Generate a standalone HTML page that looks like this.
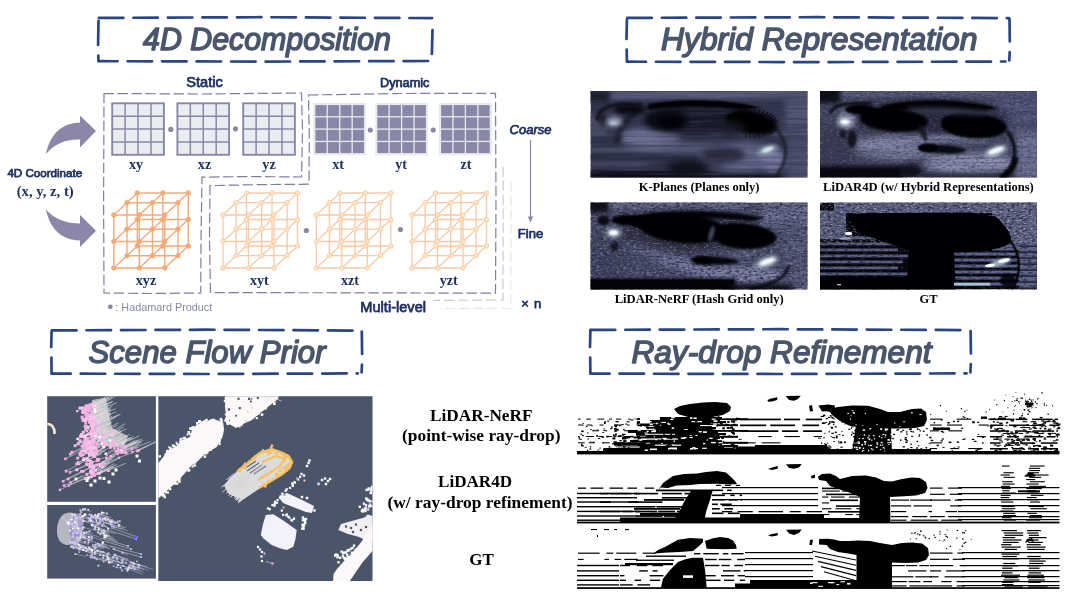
<!DOCTYPE html>
<html><head><meta charset="utf-8"><title>LiDAR4D overview</title>
<style>
html,body{margin:0;padding:0;background:#fff;}
body{width:1080px;height:599px;overflow:hidden;font-family:"Liberation Sans",sans-serif;}
svg{display:block;position:absolute;left:0;top:0;}
.cs{font-family:"Liberation Sans",sans-serif;font-weight:bold;}
.sf{font-family:"Liberation Serif",serif;font-weight:bold;}
</style></head><body>
<svg width="1080" height="599" viewBox="0 0 1080 599" style="opacity:0.999">
<rect width="1080" height="599" fill="#fff"/>

<path d="M98.89999999999999,17.9 L265.4,17.2 L432.0,18.1" fill="none" stroke="#2a4484" stroke-width="2.7" stroke-linecap="round" stroke-dasharray="24.5 10"/><path d="M98.6,61.2 L265.4,61.6 L428.5,61" fill="none" stroke="#2a4484" stroke-width="2.7" stroke-linecap="round" stroke-dasharray="24.5 10" stroke-dashoffset="5.5"/><path d="M98.5,20.8 L98.1,45 M98.3,55.5 L98.5,61" fill="none" stroke="#2a4484" stroke-width="2.7" stroke-linecap="round"/><path d="M432.5,30 L431.9,54" fill="none" stroke="#2a4484" stroke-width="2.7" stroke-linecap="round"/><text x="143" y="50" textLength="248" lengthAdjust="spacingAndGlyphs" font-family="Liberation Sans" font-weight="normal" font-style="italic" font-size="31" fill="#4a566c" stroke="#4a566c" stroke-width="1.5" stroke-linejoin="round" stroke-linecap="round">4D Decomposition</text>
<path d="M627.3000000000001,17.9 L818.1,17.2 L1009.0,18.1" fill="none" stroke="#2a4484" stroke-width="2.7" stroke-linecap="round" stroke-dasharray="24.5 10"/><path d="M627.0,61.7 L818.1,62.1 L1005.5,61.5" fill="none" stroke="#2a4484" stroke-width="2.7" stroke-linecap="round" stroke-dasharray="24.5 10" stroke-dashoffset="5.5"/><path d="M626.9000000000001,19.4 L626.5,39 M626.7,49.5 L626.9000000000001,61.5" fill="none" stroke="#2a4484" stroke-width="2.7" stroke-linecap="round"/><path d="M1009.5,19.0 L1009.8,41.5 M1009.7,52.0 L1009.3,60.5" fill="none" stroke="#2a4484" stroke-width="2.7" stroke-linecap="round"/><text x="661" y="50" textLength="316.5" lengthAdjust="spacingAndGlyphs" font-family="Liberation Sans" font-weight="normal" font-style="italic" font-size="31" fill="#4a566c" stroke="#4a566c" stroke-width="1.5" stroke-linejoin="round" stroke-linecap="round">Hybrid Representation</text>
<path d="M52.0,330.4 L206.6,329.7 L361.3,330.6" fill="none" stroke="#2a4484" stroke-width="2.7" stroke-linecap="round" stroke-dasharray="24.5 10"/><path d="M51.699999999999996,373.59999999999997 L206.6,374.0 L357.8,373.4" fill="none" stroke="#2a4484" stroke-width="2.7" stroke-linecap="round" stroke-dasharray="24.5 10" stroke-dashoffset="5.5"/><path d="M51.6,331.4 L51.199999999999996,347 M51.4,357.5 L51.6,373.4" fill="none" stroke="#2a4484" stroke-width="2.7" stroke-linecap="round"/><path d="M361.8,331.5 L362.1,354 M362.0,364.5 L361.6,372.4" fill="none" stroke="#2a4484" stroke-width="2.7" stroke-linecap="round"/><text x="88.5" y="363" textLength="237.0" lengthAdjust="spacingAndGlyphs" font-family="Liberation Sans" font-weight="normal" font-style="italic" font-size="31" fill="#4a566c" stroke="#4a566c" stroke-width="1.5" stroke-linejoin="round" stroke-linecap="round">Scene Flow Prior</text>
<path d="M590.8000000000001,329.9 L780.4000000000001,329.2 L970.1,330.1" fill="none" stroke="#2a4484" stroke-width="2.7" stroke-linecap="round" stroke-dasharray="24.5 10"/><path d="M590.5,373.59999999999997 L780.4000000000001,374.0 L966.6,373.4" fill="none" stroke="#2a4484" stroke-width="2.7" stroke-linecap="round" stroke-dasharray="24.5 10" stroke-dashoffset="5.5"/><path d="M590.4000000000001,330 L590.0,347 M590.2,357.5 L590.4000000000001,373.4" fill="none" stroke="#2a4484" stroke-width="2.7" stroke-linecap="round"/><path d="M970.6,331.0 L970.9,353.5 M970.8000000000001,364.0 L970.4,372.4" fill="none" stroke="#2a4484" stroke-width="2.7" stroke-linecap="round"/><text x="631.5" y="362.5" textLength="300.0" lengthAdjust="spacingAndGlyphs" font-family="Liberation Sans" font-weight="normal" font-style="italic" font-size="31" fill="#4a566c" stroke="#4a566c" stroke-width="1.5" stroke-linejoin="round" stroke-linecap="round">Ray-drop Refinement</text>
<rect x="112.2" y="103.3" width="51.7" height="51.5" fill="#e8edf2" stroke="#8a87a6" stroke-width="1.9"/><line x1="125.125" y1="103.3" x2="125.125" y2="154.8" stroke="#8a87a6" stroke-width="1.5"/><line x1="112.2" y1="116.175" x2="163.9" y2="116.175" stroke="#8a87a6" stroke-width="1.5"/><line x1="138.05" y1="103.3" x2="138.05" y2="154.8" stroke="#8a87a6" stroke-width="1.5"/><line x1="112.2" y1="129.05" x2="163.9" y2="129.05" stroke="#8a87a6" stroke-width="1.5"/><line x1="150.97500000000002" y1="103.3" x2="150.97500000000002" y2="154.8" stroke="#8a87a6" stroke-width="1.5"/><line x1="112.2" y1="141.925" x2="163.9" y2="141.925" stroke="#8a87a6" stroke-width="1.5"/>
<rect x="177.4" y="103.3" width="51.7" height="51.5" fill="#e8edf2" stroke="#8a87a6" stroke-width="1.9"/><line x1="190.32500000000002" y1="103.3" x2="190.32500000000002" y2="154.8" stroke="#8a87a6" stroke-width="1.5"/><line x1="177.4" y1="116.175" x2="229.10000000000002" y2="116.175" stroke="#8a87a6" stroke-width="1.5"/><line x1="203.25" y1="103.3" x2="203.25" y2="154.8" stroke="#8a87a6" stroke-width="1.5"/><line x1="177.4" y1="129.05" x2="229.10000000000002" y2="129.05" stroke="#8a87a6" stroke-width="1.5"/><line x1="216.175" y1="103.3" x2="216.175" y2="154.8" stroke="#8a87a6" stroke-width="1.5"/><line x1="177.4" y1="141.925" x2="229.10000000000002" y2="141.925" stroke="#8a87a6" stroke-width="1.5"/>
<rect x="243.2" y="103.3" width="51.7" height="51.5" fill="#e8edf2" stroke="#8a87a6" stroke-width="1.9"/><line x1="256.125" y1="103.3" x2="256.125" y2="154.8" stroke="#8a87a6" stroke-width="1.5"/><line x1="243.2" y1="116.175" x2="294.9" y2="116.175" stroke="#8a87a6" stroke-width="1.5"/><line x1="269.05" y1="103.3" x2="269.05" y2="154.8" stroke="#8a87a6" stroke-width="1.5"/><line x1="243.2" y1="129.05" x2="294.9" y2="129.05" stroke="#8a87a6" stroke-width="1.5"/><line x1="281.975" y1="103.3" x2="281.975" y2="154.8" stroke="#8a87a6" stroke-width="1.5"/><line x1="243.2" y1="141.925" x2="294.9" y2="141.925" stroke="#8a87a6" stroke-width="1.5"/>
<rect x="313.3" y="103.0" width="52.800000000000004" height="52.2" fill="#e6eaf0"/><rect x="315.40" y="105.10" width="11.18" height="11.03" fill="#8a87a6"/><rect x="315.40" y="117.42" width="11.18" height="11.03" fill="#8a87a6"/><rect x="315.40" y="129.75" width="11.18" height="11.03" fill="#8a87a6"/><rect x="315.40" y="142.07" width="11.18" height="11.03" fill="#8a87a6"/><rect x="327.88" y="105.10" width="11.18" height="11.03" fill="#8a87a6"/><rect x="327.88" y="117.42" width="11.18" height="11.03" fill="#8a87a6"/><rect x="327.88" y="129.75" width="11.18" height="11.03" fill="#8a87a6"/><rect x="327.88" y="142.07" width="11.18" height="11.03" fill="#8a87a6"/><rect x="340.35" y="105.10" width="11.18" height="11.03" fill="#8a87a6"/><rect x="340.35" y="117.42" width="11.18" height="11.03" fill="#8a87a6"/><rect x="340.35" y="129.75" width="11.18" height="11.03" fill="#8a87a6"/><rect x="340.35" y="142.07" width="11.18" height="11.03" fill="#8a87a6"/><rect x="352.83" y="105.10" width="11.18" height="11.03" fill="#8a87a6"/><rect x="352.83" y="117.42" width="11.18" height="11.03" fill="#8a87a6"/><rect x="352.83" y="129.75" width="11.18" height="11.03" fill="#8a87a6"/><rect x="352.83" y="142.07" width="11.18" height="11.03" fill="#8a87a6"/>
<rect x="375.2" y="103.0" width="52.800000000000004" height="52.2" fill="#e6eaf0"/><rect x="377.30" y="105.10" width="11.18" height="11.03" fill="#8a87a6"/><rect x="377.30" y="117.42" width="11.18" height="11.03" fill="#8a87a6"/><rect x="377.30" y="129.75" width="11.18" height="11.03" fill="#8a87a6"/><rect x="377.30" y="142.07" width="11.18" height="11.03" fill="#8a87a6"/><rect x="389.78" y="105.10" width="11.18" height="11.03" fill="#8a87a6"/><rect x="389.78" y="117.42" width="11.18" height="11.03" fill="#8a87a6"/><rect x="389.78" y="129.75" width="11.18" height="11.03" fill="#8a87a6"/><rect x="389.78" y="142.07" width="11.18" height="11.03" fill="#8a87a6"/><rect x="402.25" y="105.10" width="11.18" height="11.03" fill="#8a87a6"/><rect x="402.25" y="117.42" width="11.18" height="11.03" fill="#8a87a6"/><rect x="402.25" y="129.75" width="11.18" height="11.03" fill="#8a87a6"/><rect x="402.25" y="142.07" width="11.18" height="11.03" fill="#8a87a6"/><rect x="414.73" y="105.10" width="11.18" height="11.03" fill="#8a87a6"/><rect x="414.73" y="117.42" width="11.18" height="11.03" fill="#8a87a6"/><rect x="414.73" y="129.75" width="11.18" height="11.03" fill="#8a87a6"/><rect x="414.73" y="142.07" width="11.18" height="11.03" fill="#8a87a6"/>
<rect x="439.0" y="103.0" width="52.800000000000004" height="52.2" fill="#e6eaf0"/><rect x="441.10" y="105.10" width="11.18" height="11.03" fill="#8a87a6"/><rect x="441.10" y="117.42" width="11.18" height="11.03" fill="#8a87a6"/><rect x="441.10" y="129.75" width="11.18" height="11.03" fill="#8a87a6"/><rect x="441.10" y="142.07" width="11.18" height="11.03" fill="#8a87a6"/><rect x="453.58" y="105.10" width="11.18" height="11.03" fill="#8a87a6"/><rect x="453.58" y="117.42" width="11.18" height="11.03" fill="#8a87a6"/><rect x="453.58" y="129.75" width="11.18" height="11.03" fill="#8a87a6"/><rect x="453.58" y="142.07" width="11.18" height="11.03" fill="#8a87a6"/><rect x="466.05" y="105.10" width="11.18" height="11.03" fill="#8a87a6"/><rect x="466.05" y="117.42" width="11.18" height="11.03" fill="#8a87a6"/><rect x="466.05" y="129.75" width="11.18" height="11.03" fill="#8a87a6"/><rect x="466.05" y="142.07" width="11.18" height="11.03" fill="#8a87a6"/><rect x="478.53" y="105.10" width="11.18" height="11.03" fill="#8a87a6"/><rect x="478.53" y="117.42" width="11.18" height="11.03" fill="#8a87a6"/><rect x="478.53" y="129.75" width="11.18" height="11.03" fill="#8a87a6"/><rect x="478.53" y="142.07" width="11.18" height="11.03" fill="#8a87a6"/>
<circle cx="170.8" cy="129.4" r="2.6" fill="#8a87a6"/>
<circle cx="235.5" cy="128.8" r="2.6" fill="#8a87a6"/>
<circle cx="370.3" cy="130" r="2.6" fill="#8a87a6"/>
<circle cx="433.3" cy="130" r="2.6" fill="#8a87a6"/>
<circle cx="306.3" cy="230.5" r="2.6" fill="#8a87a6"/>
<circle cx="400.5" cy="229.5" r="2.6" fill="#8a87a6"/>
<g stroke="#f2aa7a" stroke-width="1.4" fill="none"><line x1="113.80" y1="215.00" x2="113.80" y2="268.00"/><line x1="113.80" y1="215.00" x2="164.80" y2="215.00"/><line x1="139.30" y1="215.00" x2="139.30" y2="268.00"/><line x1="113.80" y1="241.50" x2="164.80" y2="241.50"/><line x1="164.80" y1="215.00" x2="164.80" y2="268.00"/><line x1="113.80" y1="268.00" x2="164.80" y2="268.00"/><line x1="126.96" y1="202.68" x2="126.96" y2="255.68"/><line x1="126.96" y1="202.68" x2="177.96" y2="202.68"/><line x1="152.46" y1="202.68" x2="152.46" y2="255.68"/><line x1="126.96" y1="229.18" x2="177.96" y2="229.18"/><line x1="177.96" y1="202.68" x2="177.96" y2="255.68"/><line x1="126.96" y1="255.68" x2="177.96" y2="255.68"/><line x1="137.30" y1="193.00" x2="137.30" y2="246.00"/><line x1="137.30" y1="193.00" x2="188.30" y2="193.00"/><line x1="162.80" y1="193.00" x2="162.80" y2="246.00"/><line x1="137.30" y1="219.50" x2="188.30" y2="219.50"/><line x1="188.30" y1="193.00" x2="188.30" y2="246.00"/><line x1="137.30" y1="246.00" x2="188.30" y2="246.00"/><line x1="113.80" y1="215.00" x2="137.30" y2="193.00"/><line x1="113.80" y1="241.50" x2="137.30" y2="219.50"/><line x1="113.80" y1="268.00" x2="137.30" y2="246.00"/><line x1="139.30" y1="215.00" x2="162.80" y2="193.00"/><line x1="139.30" y1="241.50" x2="162.80" y2="219.50"/><line x1="139.30" y1="268.00" x2="162.80" y2="246.00"/><line x1="164.80" y1="215.00" x2="188.30" y2="193.00"/><line x1="164.80" y1="241.50" x2="188.30" y2="219.50"/><line x1="164.80" y1="268.00" x2="188.30" y2="246.00"/></g><g fill="#f2aa7a" stroke="#f2aa7a" stroke-width="0.8"><circle cx="113.80" cy="215.00" r="2.3"/><circle cx="113.80" cy="241.50" r="2.3"/><circle cx="113.80" cy="268.00" r="2.3"/><circle cx="139.30" cy="215.00" r="2.3"/><circle cx="139.30" cy="241.50" r="2.3"/><circle cx="139.30" cy="268.00" r="2.3"/><circle cx="164.80" cy="215.00" r="2.3"/><circle cx="164.80" cy="241.50" r="2.3"/><circle cx="164.80" cy="268.00" r="2.3"/><circle cx="126.96" cy="202.68" r="2.3"/><circle cx="126.96" cy="229.18" r="2.3"/><circle cx="126.96" cy="255.68" r="2.3"/><circle cx="152.46" cy="202.68" r="2.3"/><circle cx="152.46" cy="229.18" r="2.3"/><circle cx="152.46" cy="255.68" r="2.3"/><circle cx="177.96" cy="202.68" r="2.3"/><circle cx="177.96" cy="229.18" r="2.3"/><circle cx="177.96" cy="255.68" r="2.3"/><circle cx="137.30" cy="193.00" r="2.3"/><circle cx="137.30" cy="219.50" r="2.3"/><circle cx="137.30" cy="246.00" r="2.3"/><circle cx="162.80" cy="193.00" r="2.3"/><circle cx="162.80" cy="219.50" r="2.3"/><circle cx="162.80" cy="246.00" r="2.3"/><circle cx="188.30" cy="193.00" r="2.3"/><circle cx="188.30" cy="219.50" r="2.3"/><circle cx="188.30" cy="246.00" r="2.3"/></g>
<g stroke="#f8c9a6" stroke-width="1.3" fill="none"><line x1="223.00" y1="215.00" x2="223.00" y2="268.00"/><line x1="223.00" y1="215.00" x2="274.00" y2="215.00"/><line x1="248.50" y1="215.00" x2="248.50" y2="268.00"/><line x1="223.00" y1="241.50" x2="274.00" y2="241.50"/><line x1="274.00" y1="215.00" x2="274.00" y2="268.00"/><line x1="223.00" y1="268.00" x2="274.00" y2="268.00"/><line x1="236.16" y1="202.68" x2="236.16" y2="255.68"/><line x1="236.16" y1="202.68" x2="287.16" y2="202.68"/><line x1="261.66" y1="202.68" x2="261.66" y2="255.68"/><line x1="236.16" y1="229.18" x2="287.16" y2="229.18"/><line x1="287.16" y1="202.68" x2="287.16" y2="255.68"/><line x1="236.16" y1="255.68" x2="287.16" y2="255.68"/><line x1="246.50" y1="193.00" x2="246.50" y2="246.00"/><line x1="246.50" y1="193.00" x2="297.50" y2="193.00"/><line x1="272.00" y1="193.00" x2="272.00" y2="246.00"/><line x1="246.50" y1="219.50" x2="297.50" y2="219.50"/><line x1="297.50" y1="193.00" x2="297.50" y2="246.00"/><line x1="246.50" y1="246.00" x2="297.50" y2="246.00"/><line x1="223.00" y1="215.00" x2="246.50" y2="193.00"/><line x1="223.00" y1="241.50" x2="246.50" y2="219.50"/><line x1="223.00" y1="268.00" x2="246.50" y2="246.00"/><line x1="248.50" y1="215.00" x2="272.00" y2="193.00"/><line x1="248.50" y1="241.50" x2="272.00" y2="219.50"/><line x1="248.50" y1="268.00" x2="272.00" y2="246.00"/><line x1="274.00" y1="215.00" x2="297.50" y2="193.00"/><line x1="274.00" y1="241.50" x2="297.50" y2="219.50"/><line x1="274.00" y1="268.00" x2="297.50" y2="246.00"/></g><g fill="#fde5c2" stroke="#f8c9a6" stroke-width="0.8"><circle cx="223.00" cy="215.00" r="2.3"/><circle cx="223.00" cy="241.50" r="2.3"/><circle cx="223.00" cy="268.00" r="2.3"/><circle cx="248.50" cy="215.00" r="2.3"/><circle cx="248.50" cy="241.50" r="2.3"/><circle cx="248.50" cy="268.00" r="2.3"/><circle cx="274.00" cy="215.00" r="2.3"/><circle cx="274.00" cy="241.50" r="2.3"/><circle cx="274.00" cy="268.00" r="2.3"/><circle cx="236.16" cy="202.68" r="2.3"/><circle cx="236.16" cy="229.18" r="2.3"/><circle cx="236.16" cy="255.68" r="2.3"/><circle cx="261.66" cy="202.68" r="2.3"/><circle cx="261.66" cy="229.18" r="2.3"/><circle cx="261.66" cy="255.68" r="2.3"/><circle cx="287.16" cy="202.68" r="2.3"/><circle cx="287.16" cy="229.18" r="2.3"/><circle cx="287.16" cy="255.68" r="2.3"/><circle cx="246.50" cy="193.00" r="2.3"/><circle cx="246.50" cy="219.50" r="2.3"/><circle cx="246.50" cy="246.00" r="2.3"/><circle cx="272.00" cy="193.00" r="2.3"/><circle cx="272.00" cy="219.50" r="2.3"/><circle cx="272.00" cy="246.00" r="2.3"/><circle cx="297.50" cy="193.00" r="2.3"/><circle cx="297.50" cy="219.50" r="2.3"/><circle cx="297.50" cy="246.00" r="2.3"/></g>
<g stroke="#f8c9a6" stroke-width="1.3" fill="none"><line x1="316.30" y1="215.00" x2="316.30" y2="268.00"/><line x1="316.30" y1="215.00" x2="367.30" y2="215.00"/><line x1="341.80" y1="215.00" x2="341.80" y2="268.00"/><line x1="316.30" y1="241.50" x2="367.30" y2="241.50"/><line x1="367.30" y1="215.00" x2="367.30" y2="268.00"/><line x1="316.30" y1="268.00" x2="367.30" y2="268.00"/><line x1="329.46" y1="202.68" x2="329.46" y2="255.68"/><line x1="329.46" y1="202.68" x2="380.46" y2="202.68"/><line x1="354.96" y1="202.68" x2="354.96" y2="255.68"/><line x1="329.46" y1="229.18" x2="380.46" y2="229.18"/><line x1="380.46" y1="202.68" x2="380.46" y2="255.68"/><line x1="329.46" y1="255.68" x2="380.46" y2="255.68"/><line x1="339.80" y1="193.00" x2="339.80" y2="246.00"/><line x1="339.80" y1="193.00" x2="390.80" y2="193.00"/><line x1="365.30" y1="193.00" x2="365.30" y2="246.00"/><line x1="339.80" y1="219.50" x2="390.80" y2="219.50"/><line x1="390.80" y1="193.00" x2="390.80" y2="246.00"/><line x1="339.80" y1="246.00" x2="390.80" y2="246.00"/><line x1="316.30" y1="215.00" x2="339.80" y2="193.00"/><line x1="316.30" y1="241.50" x2="339.80" y2="219.50"/><line x1="316.30" y1="268.00" x2="339.80" y2="246.00"/><line x1="341.80" y1="215.00" x2="365.30" y2="193.00"/><line x1="341.80" y1="241.50" x2="365.30" y2="219.50"/><line x1="341.80" y1="268.00" x2="365.30" y2="246.00"/><line x1="367.30" y1="215.00" x2="390.80" y2="193.00"/><line x1="367.30" y1="241.50" x2="390.80" y2="219.50"/><line x1="367.30" y1="268.00" x2="390.80" y2="246.00"/></g><g fill="#fde5c2" stroke="#f8c9a6" stroke-width="0.8"><circle cx="316.30" cy="215.00" r="2.3"/><circle cx="316.30" cy="241.50" r="2.3"/><circle cx="316.30" cy="268.00" r="2.3"/><circle cx="341.80" cy="215.00" r="2.3"/><circle cx="341.80" cy="241.50" r="2.3"/><circle cx="341.80" cy="268.00" r="2.3"/><circle cx="367.30" cy="215.00" r="2.3"/><circle cx="367.30" cy="241.50" r="2.3"/><circle cx="367.30" cy="268.00" r="2.3"/><circle cx="329.46" cy="202.68" r="2.3"/><circle cx="329.46" cy="229.18" r="2.3"/><circle cx="329.46" cy="255.68" r="2.3"/><circle cx="354.96" cy="202.68" r="2.3"/><circle cx="354.96" cy="229.18" r="2.3"/><circle cx="354.96" cy="255.68" r="2.3"/><circle cx="380.46" cy="202.68" r="2.3"/><circle cx="380.46" cy="229.18" r="2.3"/><circle cx="380.46" cy="255.68" r="2.3"/><circle cx="339.80" cy="193.00" r="2.3"/><circle cx="339.80" cy="219.50" r="2.3"/><circle cx="339.80" cy="246.00" r="2.3"/><circle cx="365.30" cy="193.00" r="2.3"/><circle cx="365.30" cy="219.50" r="2.3"/><circle cx="365.30" cy="246.00" r="2.3"/><circle cx="390.80" cy="193.00" r="2.3"/><circle cx="390.80" cy="219.50" r="2.3"/><circle cx="390.80" cy="246.00" r="2.3"/></g>
<g stroke="#f8c9a6" stroke-width="1.3" fill="none"><line x1="412.00" y1="215.00" x2="412.00" y2="268.00"/><line x1="412.00" y1="215.00" x2="463.00" y2="215.00"/><line x1="437.50" y1="215.00" x2="437.50" y2="268.00"/><line x1="412.00" y1="241.50" x2="463.00" y2="241.50"/><line x1="463.00" y1="215.00" x2="463.00" y2="268.00"/><line x1="412.00" y1="268.00" x2="463.00" y2="268.00"/><line x1="425.16" y1="202.68" x2="425.16" y2="255.68"/><line x1="425.16" y1="202.68" x2="476.16" y2="202.68"/><line x1="450.66" y1="202.68" x2="450.66" y2="255.68"/><line x1="425.16" y1="229.18" x2="476.16" y2="229.18"/><line x1="476.16" y1="202.68" x2="476.16" y2="255.68"/><line x1="425.16" y1="255.68" x2="476.16" y2="255.68"/><line x1="435.50" y1="193.00" x2="435.50" y2="246.00"/><line x1="435.50" y1="193.00" x2="486.50" y2="193.00"/><line x1="461.00" y1="193.00" x2="461.00" y2="246.00"/><line x1="435.50" y1="219.50" x2="486.50" y2="219.50"/><line x1="486.50" y1="193.00" x2="486.50" y2="246.00"/><line x1="435.50" y1="246.00" x2="486.50" y2="246.00"/><line x1="412.00" y1="215.00" x2="435.50" y2="193.00"/><line x1="412.00" y1="241.50" x2="435.50" y2="219.50"/><line x1="412.00" y1="268.00" x2="435.50" y2="246.00"/><line x1="437.50" y1="215.00" x2="461.00" y2="193.00"/><line x1="437.50" y1="241.50" x2="461.00" y2="219.50"/><line x1="437.50" y1="268.00" x2="461.00" y2="246.00"/><line x1="463.00" y1="215.00" x2="486.50" y2="193.00"/><line x1="463.00" y1="241.50" x2="486.50" y2="219.50"/><line x1="463.00" y1="268.00" x2="486.50" y2="246.00"/></g><g fill="#fde5c2" stroke="#f8c9a6" stroke-width="0.8"><circle cx="412.00" cy="215.00" r="2.3"/><circle cx="412.00" cy="241.50" r="2.3"/><circle cx="412.00" cy="268.00" r="2.3"/><circle cx="437.50" cy="215.00" r="2.3"/><circle cx="437.50" cy="241.50" r="2.3"/><circle cx="437.50" cy="268.00" r="2.3"/><circle cx="463.00" cy="215.00" r="2.3"/><circle cx="463.00" cy="241.50" r="2.3"/><circle cx="463.00" cy="268.00" r="2.3"/><circle cx="425.16" cy="202.68" r="2.3"/><circle cx="425.16" cy="229.18" r="2.3"/><circle cx="425.16" cy="255.68" r="2.3"/><circle cx="450.66" cy="202.68" r="2.3"/><circle cx="450.66" cy="229.18" r="2.3"/><circle cx="450.66" cy="255.68" r="2.3"/><circle cx="476.16" cy="202.68" r="2.3"/><circle cx="476.16" cy="229.18" r="2.3"/><circle cx="476.16" cy="255.68" r="2.3"/><circle cx="435.50" cy="193.00" r="2.3"/><circle cx="435.50" cy="219.50" r="2.3"/><circle cx="435.50" cy="246.00" r="2.3"/><circle cx="461.00" cy="193.00" r="2.3"/><circle cx="461.00" cy="219.50" r="2.3"/><circle cx="461.00" cy="246.00" r="2.3"/><circle cx="486.50" cy="193.00" r="2.3"/><circle cx="486.50" cy="219.50" r="2.3"/><circle cx="486.50" cy="246.00" r="2.3"/></g>
<text x="136" y="169" text-anchor="middle" class="sf" font-size="14.1" fill="#1f3162">xy</text>
<text x="204.5" y="169" text-anchor="middle" class="sf" font-size="14.1" fill="#1f3162">xz</text>
<text x="269" y="169" text-anchor="middle" class="sf" font-size="14.1" fill="#1f3162">yz</text>
<text x="338" y="169" text-anchor="middle" class="sf" font-size="14.1" fill="#1f3162">xt</text>
<text x="401" y="169" text-anchor="middle" class="sf" font-size="14.1" fill="#1f3162">yt</text>
<text x="466" y="169" text-anchor="middle" class="sf" font-size="14.1" fill="#1f3162">zt</text>
<text x="146" y="284.5" text-anchor="middle" class="sf" font-size="14.1" fill="#1f3162">xyz</text>
<text x="259.3" y="284.5" text-anchor="middle" class="sf" font-size="14.1" fill="#1f3162">xyt</text>
<text x="350" y="284.5" text-anchor="middle" class="sf" font-size="14.1" fill="#1f3162">xzt</text>
<text x="448.8" y="284.5" text-anchor="middle" class="sf" font-size="14.1" fill="#1f3162">yzt</text>
<text x="45.2" y="196" text-anchor="middle" class="sf" font-size="14.7" fill="#1f3162">(x, y, z, t)</text>
<text x="204.5" y="86.8" text-anchor="middle" font-family="Liberation Sans" font-size="14.6" fill="#1f3162" stroke="#1f3162" stroke-width="0.75" stroke-linejoin="round" >Static</text>
<text x="404.7" y="86.5" text-anchor="middle" font-family="Liberation Sans" font-size="12.7" fill="#1f3162" stroke="#1f3162" stroke-width="0.75" stroke-linejoin="round" >Dynamic</text>
<text x="44.8" y="177.2" text-anchor="middle" font-family="Liberation Sans" font-size="11.6" fill="#1f3162" stroke="#1f3162" stroke-width="0.75" stroke-linejoin="round" >4D Coordinate</text>
<text x="530.5" y="134" text-anchor="middle" font-family="Liberation Sans" font-size="13" fill="#1f3162" stroke="#1f3162" stroke-width="0.75" stroke-linejoin="round" font-style="italic">Coarse</text>
<text x="530.5" y="238.3" text-anchor="middle" font-family="Liberation Sans" font-size="13" fill="#1f3162" stroke="#1f3162" stroke-width="0.75" stroke-linejoin="round" >Fine</text>
<text x="531.2" y="308" text-anchor="middle" font-family="Liberation Sans" font-size="13" fill="#1f3162" stroke="#1f3162" stroke-width="0.75" stroke-linejoin="round" textLength="20" lengthAdjust="spacing">× n</text>
<text x="393.2" y="311.6" text-anchor="middle" font-family="Liberation Sans" font-size="14.6" fill="#1f3162" stroke="#1f3162" stroke-width="0.75" stroke-linejoin="round" >Multi-level</text>
<circle cx="110.3" cy="306.8" r="2.4" fill="#8a87a6"/>
<text x="115.3" y="310.5" font-family="Liberation Sans" font-size="11" fill="#8587a6" textLength="97" lengthAdjust="spacingAndGlyphs">: Hadamard Product</text>
<path d="M104,93.5 L200,94 L301.5,93 L302.5,130 L301.5,177 L250,176.5 L202,177.2 L201,240 L200.8,293 L150,293.5 L104,293 L103.6,200 Z" fill="none" stroke="#7d7f9e" stroke-width="1.2" stroke-dasharray="9.5 4.5" stroke-linecap="round" opacity="1"/>
<path d="M308.5,95 L400,93.5 L495.5,93.3 L496,200 L495.5,293.2 L350,292.8 L210.5,292.6 L209.5,240 L210,185.6 L260,184.6 L309,184.2 L309.3,140 Z" fill="none" stroke="#7d7f9e" stroke-width="1.2" stroke-dasharray="9.5 4.5" stroke-linecap="round" opacity="1"/>
<path d="M503.2,167 L503,300 L434,300.4" fill="none" stroke="#c3c6d6" stroke-width="1.1" stroke-dasharray="9.5 4.5" stroke-linecap="round" opacity="1"/>
<path d="M511,182 L510.8,308.2 L441,308.6" fill="none" stroke="#e2e4ec" stroke-width="1.1" stroke-dasharray="9.5 4.5" stroke-linecap="round" opacity="1"/>
<path d="M46,154 C50,134 62,123 80,122.5 L80,115.5 L96,131 L80,147.5 L80,139.5 C66,139 54,144 46,154 Z" fill="#8b87a8"/>
<path d="M46,209.5 C50,229.5 62,240 80,240.5 L80,247 L96,230.8 L80,215 L80,223.5 C66,223.5 54,219 46,209.5 Z" fill="#8b87a8"/>
<line x1="530.5" y1="140" x2="530.5" y2="218" stroke="#8b87a8" stroke-width="1.2"/><path d="M527.8,216.5 L533.2,216.5 L530.5,222.5 Z" fill="#8b87a8"/>

<defs>
<filter id="b1" x="-60%" y="-60%" width="220%" height="220%"><feGaussianBlur color-interpolation-filters="sRGB" stdDeviation="1"/></filter>
<filter id="b2" x="-60%" y="-60%" width="220%" height="220%"><feGaussianBlur color-interpolation-filters="sRGB" stdDeviation="2"/></filter>
<filter id="b3" x="-60%" y="-60%" width="220%" height="220%"><feGaussianBlur color-interpolation-filters="sRGB" stdDeviation="3.2"/></filter>
<filter id="b5" x="-60%" y="-60%" width="220%" height="220%"><feGaussianBlur color-interpolation-filters="sRGB" stdDeviation="5"/></filter>
<filter id="bh" x="-60%" y="-60%" width="220%" height="220%"><feGaussianBlur color-interpolation-filters="sRGB" stdDeviation="6 1.2"/></filter>
<filter id="streakD" x="0" y="0" width="100%" height="100%">
  <feTurbulence type="fractalNoise" baseFrequency="0.012 0.42" numOctaves="2" seed="3" result="n"/>
  <feColorMatrix in="n" type="matrix" values="0 0 0 0 0.04  0 0 0 0 0.04  0 0 0 0 0.09  3.2 0 0 0 -1.35"/>
</filter>
<filter id="streakL" x="0" y="0" width="100%" height="100%">
  <feTurbulence type="fractalNoise" baseFrequency="0.015 0.5" numOctaves="2" seed="11" result="n"/>
  <feColorMatrix in="n" type="matrix" values="0 0 0 0 0.62  0 0 0 0 0.65  0 0 0 0 0.78  2.6 0 0 0 -1.45"/>
</filter>
<filter id="grainD" x="0" y="0" width="100%" height="100%">
  <feTurbulence type="fractalNoise" baseFrequency="0.25 0.55" numOctaves="2" seed="5" result="n"/>
  <feColorMatrix in="n" type="matrix" values="0 0 0 0 0.02  0 0 0 0 0.02  0 0 0 0 0.06  4.5 0 0 0 -2.15"/>
</filter>
<filter id="grainL" x="0" y="0" width="100%" height="100%">
  <feTurbulence type="fractalNoise" baseFrequency="0.3 0.6" numOctaves="2" seed="17" result="n"/>
  <feColorMatrix in="n" type="matrix" values="0 0 0 0 0.66  0 0 0 0 0.69  0 0 0 0 0.82  4.2 0 0 0 -2.2"/>
</filter>
<clipPath id="cpA"><rect x="590.5" y="91" width="217" height="86.5"/></clipPath>
<clipPath id="cpB"><rect x="820" y="91" width="217" height="86.5"/></clipPath>
<clipPath id="cpC"><rect x="590.5" y="202.5" width="217" height="87"/></clipPath>
<clipPath id="cpD"><rect x="820" y="202.5" width="217" height="87"/></clipPath>
</defs><g clip-path="url(#cpA)"><rect x="590.5" y="91" width="217" height="86.5" fill="#30344a" opacity="1"/><rect x="610.5" y="87" width="210" height="12" fill="#585d7c" opacity="1" filter="url(#b2)"/><rect x="785.5" y="97" width="30" height="34" fill="#565b78" opacity="0.9" filter="url(#b3)"/><rect x="585.5" y="115" width="34" height="16" fill="#4d516c" opacity="0.9" filter="url(#b3)"/><rect x="586.5" y="87" width="22" height="15" fill="#1a1b28" opacity="0.9" filter="url(#b2)"/><rect x="585.5" y="131" width="230" height="5" fill="#5a5f7c" opacity="0.7" filter="url(#bh)"/><rect x="585.5" y="139" width="230" height="5" fill="#2e3146" opacity="0.8" filter="url(#bh)"/><rect x="585.5" y="148" width="230" height="4" fill="#585d7a" opacity="0.6" filter="url(#bh)"/><rect x="585.5" y="154" width="230" height="6" fill="#2a2d40" opacity="0.8" filter="url(#bh)"/><rect x="585.5" y="162" width="230" height="4" fill="#4b4f6a" opacity="0.7" filter="url(#bh)"/><rect x="585.5" y="170" width="130" height="12" fill="#12131e" opacity="0.95" filter="url(#bh)"/><rect x="700.5" y="172.5" width="85" height="8" fill="#1c1e2e" opacity="0.9" filter="url(#bh)"/><rect x="786.5" y="131" width="30" height="50" fill="#4d516e" opacity="0.9" filter="url(#b3)"/><ellipse cx="650.5" cy="139" rx="30" ry="11" fill="#6f7496" opacity="0.95" filter="url(#b3)"/><ellipse cx="740.5" cy="157" rx="42" ry="15" fill="#666b8c" opacity="0.95" filter="url(#b3)"/><ellipse cx="773.5" cy="161" rx="12" ry="12" fill="#7378a0" opacity="0.9" filter="url(#b3)"/><ellipse cx="685.5" cy="147" rx="30" ry="8" fill="#585d7c" opacity="0.8" filter="url(#b3)"/><ellipse cx="695.5" cy="125" rx="22" ry="14" fill="#1c1e2e" opacity="0.9" filter="url(#b5)"/><ellipse cx="723.5" cy="154" rx="20" ry="7" fill="#30334a" opacity="0.9" filter="url(#b3)"/><ellipse cx="685.5" cy="165" rx="40" ry="6" fill="#252738" opacity="0.8" filter="url(#b3)"/><ellipse cx="702.5" cy="120" rx="52" ry="13" fill="#161826" opacity="0.92" filter="url(#b3)"/><ellipse cx="722.5" cy="155" rx="22" ry="7" fill="#262838" opacity="0.9" filter="url(#b3)"/><rect x="590.5" y="91" width="217" height="86.5" fill="#000" opacity="0.6" filter="url(#streakD)"/><rect x="590.5" y="91" width="217" height="86.5" fill="#fff" opacity="0.12" filter="url(#streakL)"/><ellipse cx="687.5" cy="168" rx="20" ry="8" fill="#0e0f1a" opacity="0.9" filter="url(#b3)"/><path d="M617.5,143 C616.5,127 626.5,115 648.5,107" fill="none" stroke="#15161f" stroke-width="5" filter="url(#b2)" opacity="0.9"/><path d="M647.5,104 C680.5,98 730.5,99 762.5,108 L740.5,110 C710.5,106 680.5,106 648.5,110 Z" fill="#03030a" filter="url(#b1)"/><path d="M654.5,104 C682.5,99.5 728.5,100 756.5,107.5 L740.5,108 C710.5,104.5 682.5,104.5 654.5,107.5 Z" fill="#000004"/><ellipse cx="666.5" cy="120" rx="23" ry="11.5" fill="#0a0b14" opacity="1" filter="url(#b3)"/><ellipse cx="670.5" cy="122" rx="13" ry="6" fill="#020208" opacity="1" filter="url(#b2)"/><ellipse cx="751.5" cy="123" rx="26" ry="12" fill="#000004" opacity="1" filter="url(#b2)" transform="rotate(10 751.5 123)"/><ellipse cx="746.5" cy="121" rx="20" ry="9" fill="#000" opacity="1" filter="url(#b1)" transform="rotate(5 746.5 121)"/><ellipse cx="730.5" cy="129" rx="14" ry="9" fill="#1a1b2a" opacity="0.8" filter="url(#b3)"/><line x1="730.8" y1="120.1" x2="728.4" y2="117.5" stroke="#05050c" stroke-width="1.3" opacity="0.85"/><line x1="732.5" y1="118.6" x2="730.5" y2="115.3" stroke="#05050c" stroke-width="1.3" opacity="0.85"/><line x1="734.9" y1="117.3" x2="733.4" y2="113.3" stroke="#05050c" stroke-width="1.3" opacity="0.85"/><line x1="737.9" y1="116.2" x2="736.9" y2="111.7" stroke="#05050c" stroke-width="1.3" opacity="0.85"/><line x1="741.3" y1="115.4" x2="741.1" y2="110.4" stroke="#05050c" stroke-width="1.3" opacity="0.85"/><line x1="745.1" y1="114.8" x2="745.6" y2="109.5" stroke="#05050c" stroke-width="1.3" opacity="0.85"/><line x1="749.0" y1="114.5" x2="750.3" y2="109.1" stroke="#05050c" stroke-width="1.3" opacity="0.85"/><line x1="753.1" y1="114.6" x2="755.2" y2="109.2" stroke="#05050c" stroke-width="1.3" opacity="0.85"/><line x1="757.0" y1="114.9" x2="759.9" y2="109.7" stroke="#05050c" stroke-width="1.3" opacity="0.85"/><line x1="760.7" y1="115.6" x2="764.3" y2="110.7" stroke="#05050c" stroke-width="1.3" opacity="0.85"/><line x1="764.0" y1="116.5" x2="768.3" y2="112.1" stroke="#05050c" stroke-width="1.3" opacity="0.85"/><line x1="766.8" y1="117.7" x2="771.7" y2="113.8" stroke="#05050c" stroke-width="1.3" opacity="0.85"/><line x1="769.0" y1="119.0" x2="774.4" y2="115.8" stroke="#05050c" stroke-width="1.3" opacity="0.85"/><line x1="770.6" y1="120.5" x2="776.2" y2="118.1" stroke="#05050c" stroke-width="1.3" opacity="0.85"/><line x1="771.4" y1="122.1" x2="777.2" y2="120.5" stroke="#05050c" stroke-width="1.3" opacity="0.85"/><line x1="773.2" y1="128.2" x2="777.7" y2="129.4" stroke="#0a0a14" stroke-width="1.2" opacity="0.7"/><line x1="771.4" y1="129.9" x2="775.6" y2="131.7" stroke="#0a0a14" stroke-width="1.2" opacity="0.7"/><line x1="768.8" y1="131.4" x2="772.7" y2="133.7" stroke="#0a0a14" stroke-width="1.2" opacity="0.7"/><line x1="765.7" y1="132.6" x2="769.0" y2="135.4" stroke="#0a0a14" stroke-width="1.2" opacity="0.7"/><line x1="762.1" y1="133.5" x2="764.9" y2="136.7" stroke="#0a0a14" stroke-width="1.2" opacity="0.7"/><line x1="758.2" y1="134.2" x2="760.3" y2="137.6" stroke="#0a0a14" stroke-width="1.2" opacity="0.7"/><line x1="754.0" y1="134.5" x2="755.5" y2="138.0" stroke="#0a0a14" stroke-width="1.2" opacity="0.7"/><line x1="749.8" y1="134.4" x2="750.6" y2="137.9" stroke="#0a0a14" stroke-width="1.2" opacity="0.7"/><line x1="745.7" y1="134.0" x2="745.8" y2="137.4" stroke="#0a0a14" stroke-width="1.2" opacity="0.7"/><path d="M776.5,129 C788.5,143 788.5,161 776.5,175" fill="none" stroke="#1a1b28" stroke-width="3" filter="url(#b1)" opacity="0.85"/><path d="M597.5,121 C596.5,111 604.5,106 620.5,104 L642.5,105" fill="none" stroke="#10111a" stroke-width="3.5" filter="url(#b1)" opacity="0.9"/><ellipse cx="628.5" cy="109.5" rx="15" ry="4.5" fill="#05050c" opacity="0.95" filter="url(#b2)"/><ellipse cx="602.5" cy="119" rx="4" ry="7" fill="#15161f" opacity="0.8" filter="url(#b2)"/><ellipse cx="614.5" cy="122" rx="8" ry="5" fill="#8e9ab2" opacity="0.9" filter="url(#b2)"/><ellipse cx="613.5" cy="123" rx="4" ry="2" fill="#b4c4d0" opacity="0.9" filter="url(#b1)"/><ellipse cx="612.5" cy="133" rx="8" ry="4" fill="#2a2d40" opacity="0.7" filter="url(#b2)"/><ellipse cx="767.5" cy="150" rx="11" ry="4" fill="#94a8ba" opacity="0.95" filter="url(#b2)" transform="rotate(-20 767.5 150)"/><ellipse cx="767.5" cy="149.5" rx="6" ry="2" fill="#dff2f0" opacity="1" filter="url(#b1)" transform="rotate(-20 767.5 149.5)"/><rect x="590.5" y="175.5" width="190" height="2" fill="#05050c" opacity="0.8" filter="url(#b1)"/></g><g clip-path="url(#cpB)"><rect x="820" y="91" width="217" height="86.5" fill="#42465e" opacity="1"/><rect x="995" y="88" width="50" height="38" fill="#52567a" opacity="0.95" filter="url(#b3)"/><rect x="1016" y="131" width="30" height="50" fill="#6e7394" opacity="0.95" filter="url(#b3)"/><rect x="838" y="87" width="160" height="10" fill="#585d7c" opacity="0.95" filter="url(#b2)"/><rect x="817" y="127" width="34" height="40" fill="#383b52" opacity="0.97" filter="url(#b3)"/><ellipse cx="932" cy="119" rx="78" ry="19" fill="#1e2030" opacity="0.8" filter="url(#b5)"/><ellipse cx="898" cy="147" rx="44" ry="12" fill="#8086a6" opacity="0.95" filter="url(#b3)"/><ellipse cx="970" cy="163" rx="46" ry="10" fill="#9399b9" opacity="0.95" filter="url(#b3)"/><ellipse cx="950" cy="139" rx="40" ry="5" fill="#7a80a0" opacity="0.9" filter="url(#b2)"/><ellipse cx="847" cy="119" rx="9" ry="10" fill="#8389a8" opacity="0.9" filter="url(#b2)"/><rect x="820" y="91" width="217" height="86.5" fill="#000" opacity="0.4" filter="url(#streakD)"/><rect x="820" y="91" width="217" height="86.5" fill="#000" opacity="0.36" filter="url(#grainD)"/><rect x="820" y="91" width="217" height="86.5" fill="#fff" opacity="0.16" filter="url(#grainL)"/><rect x="816" y="87" width="24" height="16" fill="#0c0d16" opacity="0.95" filter="url(#b2)"/><rect x="815" y="166" width="88" height="16" fill="#06060e" opacity="0.97" filter="url(#b2)"/><ellipse cx="910" cy="171" rx="12" ry="7" fill="#0c0d16" opacity="0.9" filter="url(#b2)"/><rect x="920" y="174" width="95" height="6" fill="#20222f" opacity="0.8" filter="url(#b2)"/><path d="M880,106 C910,98 965,98 998,108 L980,112 C950,107.5 920,107.5 884,112 Z" fill="#000004" filter="url(#b1)"/><ellipse cx="894" cy="120" rx="34" ry="11.5" fill="#000004" opacity="1" filter="url(#b1)" transform="rotate(4 894 120)"/><ellipse cx="878" cy="115" rx="17" ry="7" fill="#000004" opacity="1" filter="url(#b1)"/><ellipse cx="974" cy="126" rx="33" ry="12.5" fill="#000004" opacity="1" filter="url(#b1)" transform="rotate(3 974 126)"/><ellipse cx="962" cy="121" rx="20" ry="8" fill="#000004" opacity="1" filter="url(#b1)"/><ellipse cx="942" cy="149" rx="24" ry="4.2" fill="#08080f" opacity="0.97" filter="url(#b1)" transform="rotate(4 942 149)"/><ellipse cx="928" cy="148" rx="10" ry="4.5" fill="#000004" opacity="1" filter="url(#b1)"/><ellipse cx="923" cy="133" rx="3" ry="9" fill="#15161f" opacity="0.85" filter="url(#b1)" transform="rotate(-25 923 133)"/><path d="M1007,131 C1018,145 1018,163 1002,177" fill="none" stroke="#08080f" stroke-width="3.2" filter="url(#b1)" opacity="0.95"/><path d="M1016,157 C1015,167 1010,173 1000,179" fill="none" stroke="#04040a" stroke-width="5.5" filter="url(#b1)" opacity="0.95"/><ellipse cx="950" cy="111" rx="45" ry="3.5" fill="#33364c" opacity="0.8" filter="url(#b2)" transform="rotate(3 950 111)"/><path d="M830,113 C834,105 842,103 872,103" fill="none" stroke="#0a0a12" stroke-width="3" filter="url(#b1)" opacity="0.95"/><ellipse cx="860" cy="109.5" rx="15" ry="5" fill="#000004" opacity="1" filter="url(#b1)"/><ellipse cx="852" cy="139" rx="4.5" ry="9" fill="#10111a" opacity="0.9" filter="url(#b1)"/><ellipse cx="843" cy="134" rx="3" ry="4" fill="#10111a" opacity="0.85" filter="url(#b1)"/><ellipse cx="845" cy="122" rx="8" ry="5" fill="#a9b6c8" opacity="0.8" filter="url(#b2)"/><ellipse cx="845" cy="121.8" rx="4.5" ry="2.6" fill="#f6fffd" opacity="1" filter="url(#b1)"/><ellipse cx="996" cy="151" rx="12" ry="4.2" fill="#b4c6d2" opacity="0.95" filter="url(#b2)" transform="rotate(-20 996 151)"/><ellipse cx="996" cy="150.5" rx="8" ry="2.4" fill="#f6fffd" opacity="1" filter="url(#b1)" transform="rotate(-20 996 150.5)"/></g><g clip-path="url(#cpC)"><rect x="590.5" y="202.5" width="217" height="87" fill="#474b65" opacity="1"/><rect x="760.5" y="199.5" width="55" height="28" fill="#656a8a" opacity="0.95" filter="url(#b3)"/><rect x="782.5" y="227.5" width="33" height="65" fill="#565b7a" opacity="0.9" filter="url(#b3)"/><rect x="605.5" y="198.5" width="140" height="10" fill="#656a8a" opacity="0.95" filter="url(#b2)"/><rect x="586.5" y="236.5" width="36" height="42" fill="#3f435c" opacity="0.9" filter="url(#b3)"/><ellipse cx="672.5" cy="258.5" rx="48" ry="9" fill="#70759a" opacity="0.95" filter="url(#b3)" transform="rotate(22 672.5 258.5)"/><ellipse cx="742.5" cy="274.5" rx="42" ry="8" fill="#8086a8" opacity="0.95" filter="url(#b3)"/><ellipse cx="725.5" cy="252.5" rx="34" ry="4" fill="#6a6f90" opacity="0.9" filter="url(#b2)"/><ellipse cx="690.5" cy="232.5" rx="70" ry="22" fill="#20222f" opacity="0.75" filter="url(#b5)"/><rect x="590.5" y="202.5" width="217" height="87" fill="#000" opacity="0.75" filter="url(#grainD)"/><rect x="590.5" y="202.5" width="217" height="87" fill="#fff" opacity="0.3" filter="url(#grainL)"/><rect x="590.5" y="202.5" width="217" height="87" fill="#000" opacity="0.3" filter="url(#streakD)"/><rect x="586.5" y="198.5" width="22" height="14" fill="#0c0d16" opacity="0.95" filter="url(#b2)"/><rect x="585.5" y="278.5" width="150" height="16" fill="#030308" opacity="1" filter="url(#b1)"/><rect x="730.5" y="284.0" width="62" height="9" fill="#0c0d16" opacity="0.9" filter="url(#b2)"/><path d="M650.5,213.5 C680.5,209.5 735.5,210.5 765.5,218.5 L750.5,221.0 C720.5,217.0 690.5,217.5 652.5,220.5 Z" fill="#03030a" filter="url(#b1)"/><ellipse cx="682.5" cy="228.5" rx="44" ry="14.5" fill="#000004" opacity="1" filter="url(#b1)" transform="rotate(5 682.5 228.5)"/><ellipse cx="652.5" cy="221.5" rx="24" ry="8" fill="#000004" opacity="1" filter="url(#b1)"/><ellipse cx="627.5" cy="220.0" rx="16" ry="5.2" fill="#000004" opacity="1" filter="url(#b1)"/><ellipse cx="603.5" cy="220.5" rx="6" ry="5" fill="#05050c" opacity="0.9" filter="url(#b1)"/><ellipse cx="744.5" cy="236.5" rx="32" ry="12.5" fill="#000004" opacity="1" filter="url(#b1)" transform="rotate(3 744.5 236.5)"/><ellipse cx="732.5" cy="231.5" rx="20" ry="8" fill="#000004" opacity="1" filter="url(#b1)"/><ellipse cx="714.5" cy="260.5" rx="24" ry="4" fill="#05050c" opacity="0.97" filter="url(#b1)" transform="rotate(3 714.5 260.5)"/><ellipse cx="702.5" cy="260.5" rx="10" ry="4.2" fill="#000004" opacity="1" filter="url(#b1)"/><ellipse cx="711.5" cy="233.5" rx="2.6" ry="8" fill="#5a5f7c" opacity="0.7" filter="url(#b1)" transform="rotate(15 711.5 233.5)"/><path d="M788.5,266.5 C786.5,278.5 770.5,284.5 750.5,289.5" fill="none" stroke="#08080f" stroke-width="3.2" filter="url(#b1)" opacity="0.9"/><ellipse cx="613.5" cy="233.0" rx="8" ry="5" fill="#a9b6c8" opacity="0.8" filter="url(#b2)"/><ellipse cx="613.5" cy="232.7" rx="4.5" ry="2.6" fill="#f6fffd" opacity="1" filter="url(#b1)"/><ellipse cx="614.5" cy="246.5" rx="4" ry="5" fill="#10111a" opacity="0.85" filter="url(#b1)"/><ellipse cx="766.5" cy="262.0" rx="12" ry="4.5" fill="#b4c6d2" opacity="0.95" filter="url(#b2)" transform="rotate(-20 766.5 262.0)"/><ellipse cx="767.5" cy="261.5" rx="8" ry="2.6" fill="#f6fffd" opacity="1" filter="url(#b1)" transform="rotate(-20 767.5 261.5)"/></g><g clip-path="url(#cpD)"><rect x="820" y="202.5" width="217" height="87" fill="#04040a" opacity="1"/><rect x="834" y="202.5" width="210" height="10.5" fill="#595e7c" opacity="1"/><rect x="992" y="202.5" width="50" height="48" fill="#5c6180" opacity="1"/><rect x="820" y="210.5" width="26" height="28" fill="#565b78" opacity="1"/><rect x="820" y="236.5" width="88" height="2.8" fill="#5c617e" opacity="1"/><rect x="820" y="242.5" width="83" height="2.8" fill="#5c617e" opacity="1"/><rect x="820" y="248.5" width="78" height="2.8" fill="#5c617e" opacity="1"/><rect x="820" y="254.5" width="88" height="2.8" fill="#5c617e" opacity="1"/><rect x="820" y="260.5" width="83" height="2.8" fill="#5c617e" opacity="1"/><rect x="820" y="266.5" width="78" height="2.8" fill="#5c617e" opacity="1"/><rect x="820" y="272.5" width="88" height="2.8" fill="#5c617e" opacity="1"/><rect x="954" y="252.5" width="90" height="3.1" fill="#60658a" opacity="1"/><rect x="954" y="258.5" width="90" height="3.1" fill="#60658a" opacity="1"/><rect x="954" y="264.5" width="90" height="3.1" fill="#60658a" opacity="1"/><rect x="954" y="270.5" width="90" height="3.1" fill="#60658a" opacity="1"/><rect x="954" y="276.5" width="90" height="3.1" fill="#60658a" opacity="1"/><rect x="954" y="282.5" width="90" height="3.1" fill="#60658a" opacity="1"/><rect x="1019" y="238.5" width="20" height="52" fill="#62678a" opacity="0.85"/><rect x="1019" y="245.5" width="20" height="1.4" fill="#14151f" opacity="0.8"/><rect x="1019" y="251.5" width="20" height="1.4" fill="#14151f" opacity="0.8"/><rect x="1019" y="257.5" width="20" height="1.4" fill="#14151f" opacity="0.8"/><rect x="1019" y="263.5" width="20" height="1.4" fill="#14151f" opacity="0.8"/><rect x="1019" y="269.5" width="20" height="1.4" fill="#14151f" opacity="0.8"/><rect x="1019" y="275.5" width="20" height="1.4" fill="#14151f" opacity="0.8"/><rect x="1019" y="281.5" width="20" height="1.4" fill="#14151f" opacity="0.8"/><rect x="1019" y="287.5" width="20" height="1.4" fill="#14151f" opacity="0.8"/><rect x="820" y="202.5" width="217" height="87" fill="#000" opacity="0.75" filter="url(#grainD)"/><rect x="820" y="202.5" width="217" height="40" fill="#fff" opacity="0.45" filter="url(#grainL)"/><path d="M847,214.5 L880,213.0 L970,212.5 L996,216.5 C1006,226.5 1014,236.5 1010,242.5 C1004,250.5 970,251.5 954,252.5 L956,292.5 L906,292.5 L909,249.5 C890,244.5 876,238.5 864,235.5 C856,230.5 850,222.5 847,214.5 Z" fill="#000004"/><rect x="816" y="277.0" width="94" height="15" fill="#000004" opacity="1"/><path d="M1010,240.5 C1021,254.5 1022,272.5 1012,290.5" fill="none" stroke="#04040a" stroke-width="2.6" opacity="0.85"/><ellipse cx="1008" cy="280.5" rx="8" ry="7" fill="#04040a" opacity="0.9" filter="url(#b1)"/><ellipse cx="848.5" cy="233.5" rx="3.6" ry="1.8" fill="#f6fffd" opacity="1"/><ellipse cx="845" cy="238.5" rx="6" ry="1.3" fill="#9aa6c0" opacity="0.9"/><ellipse cx="1000" cy="262.5" rx="11" ry="3.2" fill="#a9bcc8" opacity="0.95" filter="url(#b1)" transform="rotate(-15 1000 262.5)"/><ellipse cx="1004" cy="260.5" rx="6" ry="1.8" fill="#f6fffd" opacity="1" transform="rotate(-15 1004 260.5)"/><ellipse cx="990" cy="265.5" rx="5" ry="1.6" fill="#f6fffd" opacity="1" transform="rotate(-5 990 265.5)"/><rect x="954" y="282.8" width="36" height="2.8" fill="#a9c4cc" opacity="0.98"/><rect x="837" y="284.0" width="4" height="1.2" fill="#cfe0e4" opacity="0.9"/></g><text x="699.1" y="190.5" text-anchor="middle" textLength="120.8" lengthAdjust="spacingAndGlyphs" font-family="Liberation Serif" font-weight="bold" font-size="12.6" fill="#000">K-Planes (Planes only)</text><text x="928.4" y="191" text-anchor="middle" textLength="210.8" lengthAdjust="spacingAndGlyphs" font-family="Liberation Serif" font-weight="bold" font-size="12.6" fill="#000">LiDAR4D (w/ Hybrid Representations)</text><text x="699.2" y="302.8" text-anchor="middle" textLength="169" lengthAdjust="spacingAndGlyphs" font-family="Liberation Serif" font-weight="bold" font-size="12.6" fill="#000">LiDAR-NeRF (Hash Grid only)</text><text x="928.5" y="302.5" text-anchor="middle" textLength="18" lengthAdjust="spacingAndGlyphs" font-family="Liberation Serif" font-weight="bold" font-size="12.6" fill="#000">GT</text>
<defs><clipPath id="cpS1"><rect x="47.2" y="396.2" width="108.7" height="105.6"/></clipPath><clipPath id="cpS2"><rect x="47.2" y="505" width="108.7" height="73.6"/></clipPath><clipPath id="cpS3"><rect x="158.3" y="396.2" width="214.2" height="184.8"/></clipPath></defs><rect x="47.2" y="396.2" width="108.7" height="105.6" fill="#4b556a"/><rect x="47.2" y="505" width="108.7" height="73.6" fill="#4b556a"/><rect x="158.3" y="396.2" width="214.2" height="184.8" fill="#4b556a"/><g clip-path="url(#cpS1)"><path d="M47,424 C52,424 55,428 54.5,434" fill="none" stroke="#f6e6d4" stroke-width="2.6"/><path d="M92,400 L106,397.5 L108,410 L112,428 L128,436 L124,448 L108,446 L96,440 L93,420 Z" fill="#d8d8da" opacity="0.75"/><line x1="87.2" y1="416.6" x2="100.8" y2="408.2" stroke="#dcdcde" stroke-width="0.7" opacity="0.85"/><line x1="83.5" y1="407.9" x2="96.3" y2="401.2" stroke="#dcdcde" stroke-width="0.7" opacity="0.85"/><line x1="93.8" y1="423.0" x2="110.7" y2="414.5" stroke="#dcdcde" stroke-width="0.7" opacity="0.85"/><line x1="91.4" y1="422.5" x2="103.4" y2="415.3" stroke="#dcdcde" stroke-width="0.7" opacity="0.85"/><line x1="89.9" y1="405.0" x2="102.6" y2="399.7" stroke="#dcdcde" stroke-width="0.7" opacity="0.85"/><line x1="88.1" y1="407.4" x2="100.9" y2="401.9" stroke="#dcdcde" stroke-width="0.7" opacity="0.85"/><line x1="90.8" y1="419.5" x2="103.0" y2="412.0" stroke="#dcdcde" stroke-width="0.7" opacity="0.85"/><line x1="92.0" y1="411.5" x2="112.8" y2="401.5" stroke="#dcdcde" stroke-width="0.7" opacity="0.85"/><line x1="88.2" y1="427.9" x2="101.6" y2="419.9" stroke="#dcdcde" stroke-width="0.7" opacity="0.85"/><line x1="93.4" y1="417.8" x2="107.3" y2="412.0" stroke="#dcdcde" stroke-width="0.7" opacity="0.85"/><line x1="88.5" y1="441.2" x2="102.1" y2="434.2" stroke="#dcdcde" stroke-width="0.7" opacity="0.85"/><line x1="88.1" y1="415.0" x2="108.4" y2="406.8" stroke="#dcdcde" stroke-width="0.7" opacity="0.85"/><line x1="86.5" y1="409.9" x2="105.4" y2="400.5" stroke="#dcdcde" stroke-width="0.7" opacity="0.85"/><line x1="92.8" y1="434.0" x2="106.7" y2="426.8" stroke="#dcdcde" stroke-width="0.7" opacity="0.85"/><line x1="95.1" y1="409.1" x2="112.5" y2="401.7" stroke="#dcdcde" stroke-width="0.7" opacity="0.85"/><line x1="94.4" y1="416.6" x2="107.8" y2="409.0" stroke="#dcdcde" stroke-width="0.7" opacity="0.85"/><line x1="91.5" y1="424.1" x2="110.2" y2="415.1" stroke="#dcdcde" stroke-width="0.7" opacity="0.85"/><line x1="89.3" y1="411.6" x2="111.1" y2="402.0" stroke="#dcdcde" stroke-width="0.7" opacity="0.85"/><line x1="97.5" y1="427.6" x2="115.9" y2="417.2" stroke="#dcdcde" stroke-width="0.7" opacity="0.85"/><line x1="91.6" y1="425.5" x2="109.5" y2="415.9" stroke="#dcdcde" stroke-width="0.7" opacity="0.85"/><line x1="94.5" y1="419.7" x2="108.5" y2="411.8" stroke="#dcdcde" stroke-width="0.7" opacity="0.85"/><line x1="86.9" y1="431.0" x2="100.0" y2="423.6" stroke="#dcdcde" stroke-width="0.7" opacity="0.85"/><line x1="95.0" y1="411.6" x2="116.8" y2="402.7" stroke="#dcdcde" stroke-width="0.7" opacity="0.85"/><line x1="98.3" y1="434.9" x2="110.6" y2="429.6" stroke="#dcdcde" stroke-width="0.7" opacity="0.85"/><line x1="97.5" y1="429.5" x2="108.9" y2="423.4" stroke="#dcdcde" stroke-width="0.7" opacity="0.85"/><line x1="77.2" y1="411.2" x2="94.8" y2="401.3" stroke="#dcdcde" stroke-width="0.7" opacity="0.85"/><line x1="91.7" y1="419.1" x2="110.6" y2="407.9" stroke="#dcdcde" stroke-width="0.7" opacity="0.85"/><line x1="94.9" y1="421.0" x2="106.5" y2="414.6" stroke="#dcdcde" stroke-width="0.7" opacity="0.85"/><line x1="92.0" y1="404.5" x2="113.6" y2="395.1" stroke="#dcdcde" stroke-width="0.7" opacity="0.85"/><line x1="99.6" y1="423.0" x2="118.8" y2="414.8" stroke="#dcdcde" stroke-width="0.7" opacity="0.85"/><line x1="98.5" y1="434.9" x2="117.1" y2="425.3" stroke="#dcdcde" stroke-width="0.7" opacity="0.85"/><line x1="87.2" y1="426.9" x2="104.3" y2="416.4" stroke="#dcdcde" stroke-width="0.7" opacity="0.85"/><line x1="101.3" y1="422.9" x2="120.5" y2="414.3" stroke="#dcdcde" stroke-width="0.7" opacity="0.85"/><line x1="94.2" y1="438.6" x2="113.3" y2="429.1" stroke="#dcdcde" stroke-width="0.7" opacity="0.85"/><line x1="93.1" y1="420.9" x2="110.9" y2="413.3" stroke="#dcdcde" stroke-width="0.7" opacity="0.85"/><line x1="95.6" y1="428.9" x2="107.8" y2="423.1" stroke="#dcdcde" stroke-width="0.7" opacity="0.85"/><line x1="85.7" y1="429.3" x2="101.0" y2="419.9" stroke="#dcdcde" stroke-width="0.7" opacity="0.85"/><line x1="90.9" y1="414.2" x2="109.1" y2="404.8" stroke="#dcdcde" stroke-width="0.7" opacity="0.85"/><line x1="91.9" y1="417.8" x2="104.6" y2="412.5" stroke="#dcdcde" stroke-width="0.7" opacity="0.85"/><line x1="93.0" y1="420.4" x2="110.1" y2="412.6" stroke="#dcdcde" stroke-width="0.7" opacity="0.85"/><line x1="88.4" y1="410.3" x2="100.4" y2="403.6" stroke="#dcdcde" stroke-width="0.7" opacity="0.85"/><line x1="93.9" y1="431.9" x2="111.8" y2="422.6" stroke="#dcdcde" stroke-width="0.7" opacity="0.85"/><line x1="89.1" y1="408.7" x2="109.2" y2="397.5" stroke="#dcdcde" stroke-width="0.7" opacity="0.85"/><line x1="91.5" y1="436.5" x2="108.7" y2="426.1" stroke="#dcdcde" stroke-width="0.7" opacity="0.85"/><line x1="94.0" y1="405.6" x2="112.2" y2="397.0" stroke="#dcdcde" stroke-width="0.7" opacity="0.85"/><line x1="94.2" y1="436.2" x2="105.4" y2="429.4" stroke="#dcdcde" stroke-width="0.7" opacity="0.85"/><line x1="93.1" y1="434.1" x2="105.3" y2="427.1" stroke="#dcdcde" stroke-width="0.7" opacity="0.85"/><line x1="94.4" y1="418.3" x2="111.0" y2="409.7" stroke="#dcdcde" stroke-width="0.7" opacity="0.85"/><line x1="83.0" y1="419.0" x2="104.4" y2="408.3" stroke="#dcdcde" stroke-width="0.7" opacity="0.85"/><line x1="96.7" y1="407.6" x2="116.5" y2="395.3" stroke="#dcdcde" stroke-width="0.7" opacity="0.85"/><line x1="89.2" y1="410.4" x2="106.4" y2="403.5" stroke="#dcdcde" stroke-width="0.7" opacity="0.85"/><line x1="89.2" y1="422.2" x2="110.5" y2="413.3" stroke="#dcdcde" stroke-width="0.7" opacity="0.85"/><line x1="93.3" y1="425.2" x2="106.3" y2="418.6" stroke="#dcdcde" stroke-width="0.7" opacity="0.85"/><line x1="91.4" y1="419.2" x2="111.0" y2="409.2" stroke="#dcdcde" stroke-width="0.7" opacity="0.85"/><line x1="101.2" y1="414.8" x2="115.5" y2="408.7" stroke="#dcdcde" stroke-width="0.7" opacity="0.85"/><line x1="98.6" y1="427.8" x2="112.2" y2="422.1" stroke="#dcdcde" stroke-width="0.7" opacity="0.85"/><line x1="97.5" y1="421.3" x2="116.1" y2="411.5" stroke="#dcdcde" stroke-width="0.7" opacity="0.85"/><line x1="92.9" y1="404.8" x2="111.8" y2="393.1" stroke="#dcdcde" stroke-width="0.7" opacity="0.85"/><line x1="94.4" y1="436.8" x2="107.6" y2="431.3" stroke="#dcdcde" stroke-width="0.7" opacity="0.85"/><line x1="103.9" y1="430.5" x2="118.2" y2="422.9" stroke="#dcdcde" stroke-width="0.7" opacity="0.85"/><line x1="93.2" y1="417.7" x2="112.5" y2="406.0" stroke="#dcdcde" stroke-width="0.7" opacity="0.85"/><line x1="92.5" y1="427.1" x2="112.1" y2="416.2" stroke="#dcdcde" stroke-width="0.7" opacity="0.85"/><line x1="85.8" y1="406.9" x2="100.7" y2="400.7" stroke="#dcdcde" stroke-width="0.7" opacity="0.85"/><line x1="88.2" y1="410.1" x2="103.8" y2="401.6" stroke="#dcdcde" stroke-width="0.7" opacity="0.85"/><line x1="91.0" y1="416.3" x2="106.0" y2="407.0" stroke="#dcdcde" stroke-width="0.7" opacity="0.85"/><line x1="89.3" y1="409.5" x2="110.2" y2="399.0" stroke="#dcdcde" stroke-width="0.7" opacity="0.85"/><line x1="89.6" y1="407.5" x2="108.2" y2="397.8" stroke="#dcdcde" stroke-width="0.7" opacity="0.85"/><line x1="95.1" y1="435.7" x2="108.9" y2="427.2" stroke="#dcdcde" stroke-width="0.7" opacity="0.85"/><line x1="91.5" y1="426.6" x2="107.5" y2="417.9" stroke="#dcdcde" stroke-width="0.7" opacity="0.85"/><line x1="88.5" y1="417.2" x2="107.5" y2="408.1" stroke="#dcdcde" stroke-width="0.7" opacity="0.85"/><line x1="80.4" y1="453.0" x2="95.0" y2="445.7" stroke="#dcdcde" stroke-width="0.7" opacity="0.85"/><line x1="88.1" y1="478.1" x2="105.3" y2="467.6" stroke="#dcdcde" stroke-width="0.7" opacity="0.85"/><line x1="92.0" y1="453.9" x2="108.0" y2="444.7" stroke="#dcdcde" stroke-width="0.7" opacity="0.85"/><line x1="85.0" y1="440.2" x2="100.4" y2="431.0" stroke="#dcdcde" stroke-width="0.7" opacity="0.85"/><line x1="89.1" y1="449.4" x2="102.5" y2="442.8" stroke="#dcdcde" stroke-width="0.7" opacity="0.85"/><line x1="75.2" y1="445.7" x2="89.4" y2="438.7" stroke="#dcdcde" stroke-width="0.7" opacity="0.85"/><line x1="77.6" y1="438.9" x2="93.1" y2="430.7" stroke="#dcdcde" stroke-width="0.7" opacity="0.85"/><line x1="87.9" y1="441.2" x2="102.4" y2="434.6" stroke="#dcdcde" stroke-width="0.7" opacity="0.85"/><line x1="83.6" y1="459.8" x2="103.9" y2="447.7" stroke="#dcdcde" stroke-width="0.7" opacity="0.85"/><line x1="94.6" y1="475.5" x2="114.4" y2="466.8" stroke="#dcdcde" stroke-width="0.7" opacity="0.85"/><line x1="95.8" y1="470.1" x2="109.7" y2="462.7" stroke="#dcdcde" stroke-width="0.7" opacity="0.85"/><line x1="92.6" y1="449.4" x2="107.6" y2="442.8" stroke="#dcdcde" stroke-width="0.7" opacity="0.85"/><line x1="85.0" y1="443.0" x2="101.1" y2="435.7" stroke="#dcdcde" stroke-width="0.7" opacity="0.85"/><line x1="100.4" y1="465.1" x2="116.1" y2="455.5" stroke="#dcdcde" stroke-width="0.7" opacity="0.85"/><line x1="86.2" y1="449.7" x2="106.8" y2="438.0" stroke="#dcdcde" stroke-width="0.7" opacity="0.85"/><line x1="85.5" y1="478.5" x2="99.0" y2="472.9" stroke="#dcdcde" stroke-width="0.7" opacity="0.85"/><line x1="90.6" y1="471.2" x2="109.5" y2="462.2" stroke="#dcdcde" stroke-width="0.7" opacity="0.85"/><line x1="102.8" y1="462.6" x2="121.1" y2="451.2" stroke="#dcdcde" stroke-width="0.7" opacity="0.85"/><line x1="92.1" y1="443.5" x2="112.9" y2="433.5" stroke="#dcdcde" stroke-width="0.7" opacity="0.85"/><line x1="84.9" y1="437.0" x2="102.7" y2="428.0" stroke="#dcdcde" stroke-width="0.7" opacity="0.85"/><line x1="85.2" y1="436.9" x2="97.3" y2="429.5" stroke="#dcdcde" stroke-width="0.7" opacity="0.85"/><line x1="87.9" y1="465.0" x2="101.1" y2="457.6" stroke="#dcdcde" stroke-width="0.7" opacity="0.85"/><line x1="108.3" y1="470.4" x2="125.8" y2="463.3" stroke="#dcdcde" stroke-width="0.7" opacity="0.85"/><line x1="91.5" y1="476.8" x2="109.9" y2="468.9" stroke="#dcdcde" stroke-width="0.7" opacity="0.85"/><line x1="98.1" y1="473.4" x2="114.3" y2="463.4" stroke="#dcdcde" stroke-width="0.7" opacity="0.85"/><line x1="83.7" y1="446.0" x2="97.6" y2="437.4" stroke="#dcdcde" stroke-width="0.7" opacity="0.85"/><line x1="84.1" y1="444.6" x2="101.3" y2="434.1" stroke="#dcdcde" stroke-width="0.7" opacity="0.85"/><line x1="87.1" y1="474.3" x2="107.2" y2="462.8" stroke="#dcdcde" stroke-width="0.7" opacity="0.85"/><line x1="102.4" y1="467.1" x2="120.8" y2="457.2" stroke="#dcdcde" stroke-width="0.7" opacity="0.85"/><line x1="92.5" y1="468.3" x2="112.3" y2="459.2" stroke="#dcdcde" stroke-width="0.7" opacity="0.85"/><line x1="91.7" y1="437.4" x2="107.7" y2="428.2" stroke="#dcdcde" stroke-width="0.7" opacity="0.85"/><line x1="104.1" y1="464.1" x2="118.1" y2="457.7" stroke="#dcdcde" stroke-width="0.7" opacity="0.85"/><line x1="96.6" y1="464.9" x2="114.4" y2="456.3" stroke="#dcdcde" stroke-width="0.7" opacity="0.85"/><line x1="93.0" y1="467.7" x2="112.6" y2="455.7" stroke="#dcdcde" stroke-width="0.7" opacity="0.85"/><line x1="83.2" y1="450.7" x2="98.2" y2="442.1" stroke="#dcdcde" stroke-width="0.7" opacity="0.85"/><line x1="103.3" y1="447.5" x2="114.9" y2="440.4" stroke="#dcdcde" stroke-width="0.7" opacity="0.85"/><line x1="80.1" y1="454.7" x2="98.3" y2="444.6" stroke="#dcdcde" stroke-width="0.7" opacity="0.85"/><line x1="89.1" y1="441.9" x2="109.5" y2="430.7" stroke="#dcdcde" stroke-width="0.7" opacity="0.85"/><line x1="78.3" y1="443.3" x2="94.9" y2="434.6" stroke="#dcdcde" stroke-width="0.7" opacity="0.85"/><line x1="83.5" y1="471.3" x2="98.7" y2="463.2" stroke="#dcdcde" stroke-width="0.7" opacity="0.85"/><line x1="78.3" y1="444.1" x2="90.4" y2="436.7" stroke="#dcdcde" stroke-width="0.7" opacity="0.85"/><line x1="106.2" y1="458.0" x2="126.4" y2="446.0" stroke="#dcdcde" stroke-width="0.7" opacity="0.85"/><line x1="91.1" y1="449.1" x2="109.9" y2="438.8" stroke="#dcdcde" stroke-width="0.7" opacity="0.85"/><line x1="85.1" y1="436.3" x2="103.1" y2="425.9" stroke="#dcdcde" stroke-width="0.7" opacity="0.85"/><line x1="99.8" y1="473.6" x2="113.1" y2="466.4" stroke="#dcdcde" stroke-width="0.7" opacity="0.85"/><line x1="100.9" y1="471.6" x2="116.9" y2="464.5" stroke="#dcdcde" stroke-width="0.7" opacity="0.85"/><line x1="81.8" y1="455.6" x2="93.2" y2="448.6" stroke="#dcdcde" stroke-width="0.7" opacity="0.85"/><line x1="94.3" y1="442.1" x2="113.8" y2="433.8" stroke="#dcdcde" stroke-width="0.7" opacity="0.85"/><line x1="88.2" y1="445.7" x2="103.6" y2="439.4" stroke="#dcdcde" stroke-width="0.7" opacity="0.85"/><line x1="86.9" y1="460.7" x2="105.2" y2="450.6" stroke="#dcdcde" stroke-width="0.7" opacity="0.85"/><line x1="89.8" y1="445.6" x2="108.6" y2="436.4" stroke="#dcdcde" stroke-width="0.7" opacity="0.85"/><line x1="93.4" y1="472.8" x2="107.3" y2="465.7" stroke="#dcdcde" stroke-width="0.7" opacity="0.85"/><line x1="95.6" y1="447.9" x2="110.6" y2="439.5" stroke="#dcdcde" stroke-width="0.7" opacity="0.85"/><line x1="92.9" y1="472.8" x2="105.8" y2="466.2" stroke="#dcdcde" stroke-width="0.7" opacity="0.85"/><line x1="83.2" y1="454.6" x2="102.5" y2="446.1" stroke="#dcdcde" stroke-width="0.7" opacity="0.85"/><line x1="93.7" y1="456.3" x2="108.3" y2="448.3" stroke="#dcdcde" stroke-width="0.7" opacity="0.85"/><line x1="84.1" y1="458.8" x2="101.6" y2="449.9" stroke="#dcdcde" stroke-width="0.7" opacity="0.85"/><line x1="85.5" y1="443.5" x2="98.9" y2="435.4" stroke="#dcdcde" stroke-width="0.7" opacity="0.85"/><line x1="83.0" y1="436.5" x2="99.4" y2="426.9" stroke="#dcdcde" stroke-width="0.7" opacity="0.85"/><line x1="93.0" y1="453.9" x2="113.9" y2="442.2" stroke="#dcdcde" stroke-width="0.7" opacity="0.85"/><line x1="116.6" y1="444.9" x2="132.9" y2="438.3" stroke="#dcdcde" stroke-width="0.7" opacity="0.85"/><line x1="110.1" y1="444.8" x2="123.0" y2="438.2" stroke="#dcdcde" stroke-width="0.7" opacity="0.85"/><line x1="110.2" y1="447.1" x2="130.4" y2="437.6" stroke="#dcdcde" stroke-width="0.7" opacity="0.85"/><line x1="111.5" y1="444.6" x2="125.7" y2="436.7" stroke="#dcdcde" stroke-width="0.7" opacity="0.85"/><line x1="103.1" y1="441.7" x2="121.4" y2="431.1" stroke="#dcdcde" stroke-width="0.7" opacity="0.85"/><line x1="105.6" y1="453.8" x2="119.3" y2="446.2" stroke="#dcdcde" stroke-width="0.7" opacity="0.85"/><line x1="110.3" y1="447.4" x2="122.3" y2="440.6" stroke="#dcdcde" stroke-width="0.7" opacity="0.85"/><line x1="112.1" y1="435.3" x2="126.4" y2="429.0" stroke="#dcdcde" stroke-width="0.7" opacity="0.85"/><line x1="114.4" y1="441.9" x2="127.0" y2="435.4" stroke="#dcdcde" stroke-width="0.7" opacity="0.85"/><line x1="114.1" y1="448.1" x2="133.7" y2="436.0" stroke="#dcdcde" stroke-width="0.7" opacity="0.85"/><line x1="110.1" y1="440.4" x2="122.3" y2="434.4" stroke="#dcdcde" stroke-width="0.7" opacity="0.85"/><line x1="121.0" y1="450.2" x2="133.3" y2="444.0" stroke="#dcdcde" stroke-width="0.7" opacity="0.85"/><line x1="110.6" y1="456.1" x2="125.1" y2="449.6" stroke="#dcdcde" stroke-width="0.7" opacity="0.85"/><line x1="106.3" y1="435.5" x2="123.9" y2="427.0" stroke="#dcdcde" stroke-width="0.7" opacity="0.85"/><line x1="106.8" y1="454.9" x2="121.1" y2="446.1" stroke="#dcdcde" stroke-width="0.7" opacity="0.85"/><line x1="101.0" y1="438.6" x2="120.4" y2="430.4" stroke="#dcdcde" stroke-width="0.7" opacity="0.85"/><line x1="99.9" y1="439.8" x2="115.3" y2="431.5" stroke="#dcdcde" stroke-width="0.7" opacity="0.85"/><line x1="102.0" y1="443.5" x2="115.9" y2="437.3" stroke="#dcdcde" stroke-width="0.7" opacity="0.85"/><line x1="99.7" y1="437.0" x2="115.7" y2="429.9" stroke="#dcdcde" stroke-width="0.7" opacity="0.85"/><line x1="122.5" y1="443.8" x2="139.6" y2="435.7" stroke="#dcdcde" stroke-width="0.7" opacity="0.85"/><line x1="100.7" y1="440.4" x2="116.0" y2="431.9" stroke="#dcdcde" stroke-width="0.7" opacity="0.85"/><line x1="102.7" y1="435.2" x2="115.1" y2="429.6" stroke="#dcdcde" stroke-width="0.7" opacity="0.85"/><line x1="117.5" y1="453.7" x2="129.5" y2="448.3" stroke="#dcdcde" stroke-width="0.7" opacity="0.85"/><line x1="121.1" y1="450.8" x2="136.3" y2="442.7" stroke="#dcdcde" stroke-width="0.7" opacity="0.85"/><line x1="112.7" y1="431.1" x2="125.3" y2="423.5" stroke="#dcdcde" stroke-width="0.7" opacity="0.85"/><line x1="117.1" y1="451.1" x2="137.3" y2="440.6" stroke="#dcdcde" stroke-width="0.7" opacity="0.85"/><line x1="102.5" y1="437.0" x2="114.2" y2="430.1" stroke="#dcdcde" stroke-width="0.7" opacity="0.85"/><line x1="103.8" y1="446.3" x2="121.2" y2="436.9" stroke="#dcdcde" stroke-width="0.7" opacity="0.85"/><line x1="102.5" y1="439.3" x2="117.0" y2="430.8" stroke="#dcdcde" stroke-width="0.7" opacity="0.85"/><line x1="93.5" y1="446.8" x2="106.1" y2="440.4" stroke="#dcdcde" stroke-width="0.7" opacity="0.85"/><line x1="110.8" y1="445.8" x2="129.7" y2="434.2" stroke="#dcdcde" stroke-width="0.7" opacity="0.85"/><line x1="104.5" y1="444.3" x2="122.2" y2="435.8" stroke="#dcdcde" stroke-width="0.7" opacity="0.85"/><line x1="113.0" y1="445.8" x2="131.1" y2="437.9" stroke="#dcdcde" stroke-width="0.7" opacity="0.85"/><line x1="121.7" y1="451.7" x2="141.9" y2="441.9" stroke="#dcdcde" stroke-width="0.7" opacity="0.85"/><line x1="115.5" y1="451.6" x2="134.7" y2="440.4" stroke="#dcdcde" stroke-width="0.7" opacity="0.85"/><line x1="76.5" y1="463.9" x2="98.4" y2="451.4" stroke="#d4d4d8" stroke-width="0.7" opacity="0.85"/><line x1="59.9" y1="489.9" x2="84.1" y2="478.2" stroke="#d4d4d8" stroke-width="0.7" opacity="0.85"/><line x1="78.9" y1="463.9" x2="101.9" y2="453.8" stroke="#d4d4d8" stroke-width="0.7" opacity="0.85"/><line x1="76.8" y1="469.8" x2="104.2" y2="457.5" stroke="#d4d4d8" stroke-width="0.7" opacity="0.85"/><line x1="81.5" y1="471.3" x2="98.0" y2="464.3" stroke="#d4d4d8" stroke-width="0.7" opacity="0.85"/><line x1="69.9" y1="472.3" x2="93.3" y2="461.7" stroke="#d4d4d8" stroke-width="0.7" opacity="0.85"/><line x1="63.1" y1="481.2" x2="84.8" y2="469.7" stroke="#d4d4d8" stroke-width="0.7" opacity="0.85"/><line x1="70.6" y1="482.6" x2="96.3" y2="469.8" stroke="#d4d4d8" stroke-width="0.7" opacity="0.85"/><line x1="66.1" y1="471.1" x2="82.8" y2="462.2" stroke="#d4d4d8" stroke-width="0.7" opacity="0.85"/><line x1="64.2" y1="485.5" x2="82.8" y2="475.4" stroke="#d4d4d8" stroke-width="0.7" opacity="0.85"/><line x1="68.8" y1="485.5" x2="92.3" y2="475.6" stroke="#d4d4d8" stroke-width="0.7" opacity="0.85"/><line x1="68.2" y1="479.0" x2="84.1" y2="471.3" stroke="#d4d4d8" stroke-width="0.7" opacity="0.85"/><line x1="78.0" y1="462.6" x2="104.4" y2="449.5" stroke="#d4d4d8" stroke-width="0.7" opacity="0.85"/><line x1="72.0" y1="452.4" x2="89.6" y2="443.9" stroke="#d4d4d8" stroke-width="0.7" opacity="0.85"/><line x1="81.6" y1="451.6" x2="99.8" y2="444.2" stroke="#d4d4d8" stroke-width="0.7" opacity="0.85"/><line x1="81.7" y1="451.2" x2="99.7" y2="441.1" stroke="#d4d4d8" stroke-width="0.7" opacity="0.85"/><line x1="65.5" y1="458.8" x2="83.6" y2="450.0" stroke="#d4d4d8" stroke-width="0.7" opacity="0.85"/><line x1="70.3" y1="454.2" x2="94.2" y2="443.5" stroke="#d4d4d8" stroke-width="0.7" opacity="0.85"/><line x1="77.6" y1="458.1" x2="99.6" y2="447.1" stroke="#d4d4d8" stroke-width="0.7" opacity="0.85"/><line x1="121.0" y1="452.6" x2="139.6" y2="444.1" stroke="#d4d4d8" stroke-width="0.7" opacity="0.85"/><line x1="119.0" y1="457.7" x2="134.4" y2="451.8" stroke="#d4d4d8" stroke-width="0.7" opacity="0.85"/><line x1="118.0" y1="450.8" x2="134.2" y2="442.9" stroke="#d4d4d8" stroke-width="0.7" opacity="0.85"/><line x1="126.0" y1="452.8" x2="138.9" y2="447.1" stroke="#d4d4d8" stroke-width="0.7" opacity="0.85"/><line x1="122.5" y1="447.0" x2="139.1" y2="439.6" stroke="#d4d4d8" stroke-width="0.7" opacity="0.85"/><line x1="122.2" y1="448.9" x2="142.0" y2="439.0" stroke="#d4d4d8" stroke-width="0.7" opacity="0.85"/><line x1="131.5" y1="448.6" x2="150.6" y2="441.7" stroke="#d4d4d8" stroke-width="0.7" opacity="0.85"/><line x1="138.6" y1="450.5" x2="157.3" y2="440.5" stroke="#d4d4d8" stroke-width="0.7" opacity="0.85"/><line x1="123.5" y1="452.6" x2="137.1" y2="446.8" stroke="#d4d4d8" stroke-width="0.7" opacity="0.85"/><line x1="132.2" y1="452.2" x2="147.5" y2="445.7" stroke="#d4d4d8" stroke-width="0.7" opacity="0.85"/><line x1="137.2" y1="451.1" x2="156.2" y2="441.9" stroke="#d4d4d8" stroke-width="0.7" opacity="0.85"/><line x1="123.5" y1="447.5" x2="143.0" y2="440.2" stroke="#d4d4d8" stroke-width="0.7" opacity="0.85"/><line x1="118.0" y1="448.8" x2="137.1" y2="441.8" stroke="#d4d4d8" stroke-width="0.7" opacity="0.85"/><line x1="125.3" y1="447.3" x2="140.0" y2="441.7" stroke="#d4d4d8" stroke-width="0.7" opacity="0.85"/><rect x="86.0" y="415.3" width="2.5" height="2.5" fill="#f4b6e6"/><rect x="82.2" y="406.6" width="2.6" height="2.6" fill="#f0a8de"/><rect x="92.4" y="421.6" width="2.9" height="2.9" fill="#f8c8ec"/><rect x="90.1" y="421.2" width="2.6" height="2.6" fill="#f4b6e6"/><rect x="88.4" y="403.5" width="3.0" height="3.0" fill="#f4b6e6"/><rect x="86.9" y="406.2" width="2.5" height="2.5" fill="#f4b6e6"/><rect x="89.5" y="418.2" width="2.6" height="2.6" fill="#ffffff"/><rect x="90.6" y="410.2" width="2.7" height="2.7" fill="#f4b6e6"/><rect x="87.0" y="426.7" width="2.5" height="2.5" fill="#f4b6e6"/><rect x="92.1" y="416.5" width="2.7" height="2.7" fill="#f0a8de"/><rect x="87.3" y="440.0" width="2.5" height="2.5" fill="#f4b6e6"/><rect x="87.0" y="413.9" width="2.2" height="2.2" fill="#f4b6e6"/><rect x="85.2" y="408.5" width="2.7" height="2.7" fill="#f4b6e6"/><rect x="91.4" y="432.6" width="2.9" height="2.9" fill="#f8c8ec"/><rect x="93.8" y="407.9" width="2.5" height="2.5" fill="#ffffff"/><rect x="92.9" y="415.1" width="3.0" height="3.0" fill="#f4b6e6"/><rect x="89.9" y="422.5" width="3.2" height="3.2" fill="#f8c8ec"/><rect x="88.1" y="410.4" width="2.3" height="2.3" fill="#f4b6e6"/><rect x="96.4" y="426.5" width="2.3" height="2.3" fill="#f4b6e6"/><rect x="90.2" y="424.1" width="2.9" height="2.9" fill="#ffffff"/><rect x="93.3" y="418.6" width="2.2" height="2.2" fill="#f0a8de"/><rect x="85.7" y="429.8" width="2.5" height="2.5" fill="#f4b6e6"/><rect x="93.7" y="410.3" width="2.5" height="2.5" fill="#ffffff"/><rect x="97.0" y="433.6" width="2.6" height="2.6" fill="#f4b6e6"/><rect x="96.2" y="428.3" width="2.5" height="2.5" fill="#f8c8ec"/><rect x="76.0" y="410.1" width="2.3" height="2.3" fill="#f4b6e6"/><rect x="90.5" y="418.0" width="2.2" height="2.2" fill="#ffffff"/><rect x="93.8" y="419.8" width="2.3" height="2.3" fill="#f4b6e6"/><rect x="90.6" y="403.1" width="2.9" height="2.9" fill="#f4b6e6"/><rect x="98.1" y="421.5" width="3.0" height="3.0" fill="#f8c8ec"/><rect x="97.0" y="433.4" width="2.9" height="2.9" fill="#f0a8de"/><rect x="85.7" y="425.5" width="2.8" height="2.8" fill="#ffffff"/><rect x="99.7" y="421.3" width="3.1" height="3.1" fill="#f4b6e6"/><rect x="92.7" y="437.1" width="3.0" height="3.0" fill="#f4b6e6"/><rect x="91.9" y="419.7" width="2.3" height="2.3" fill="#f4b6e6"/><rect x="94.4" y="427.6" width="2.6" height="2.6" fill="#f4b6e6"/><rect x="84.3" y="427.9" width="2.8" height="2.8" fill="#f4b6e6"/><rect x="89.6" y="412.8" width="2.7" height="2.7" fill="#f4b6e6"/><rect x="90.8" y="416.6" width="2.3" height="2.3" fill="#ffffff"/><rect x="91.7" y="419.2" width="2.5" height="2.5" fill="#f8c8ec"/><rect x="87.2" y="409.1" width="2.4" height="2.4" fill="#f4b6e6"/><rect x="92.8" y="430.8" width="2.3" height="2.3" fill="#f8c8ec"/><rect x="87.7" y="407.3" width="2.8" height="2.8" fill="#f4b6e6"/><rect x="90.2" y="435.2" width="2.5" height="2.5" fill="#f4b6e6"/><rect x="92.6" y="404.2" width="2.8" height="2.8" fill="#ffffff"/><rect x="92.6" y="434.6" width="3.2" height="3.2" fill="#f0a8de"/><rect x="91.8" y="432.8" width="2.5" height="2.5" fill="#f8c8ec"/><rect x="92.9" y="416.8" width="3.0" height="3.0" fill="#f8c8ec"/><rect x="81.4" y="417.4" width="3.2" height="3.2" fill="#f0a8de"/><rect x="95.5" y="406.5" width="2.3" height="2.3" fill="#f8c8ec"/><rect x="87.9" y="409.1" width="2.6" height="2.6" fill="#f0a8de"/><rect x="87.8" y="420.9" width="2.8" height="2.8" fill="#f4b6e6"/><rect x="92.2" y="424.0" width="2.3" height="2.3" fill="#f0a8de"/><rect x="89.9" y="417.7" width="2.9" height="2.9" fill="#f4b6e6"/><rect x="99.9" y="413.5" width="2.6" height="2.6" fill="#f8c8ec"/><rect x="97.3" y="426.5" width="2.6" height="2.6" fill="#f8c8ec"/><rect x="96.2" y="420.1" width="2.5" height="2.5" fill="#f8c8ec"/><rect x="91.4" y="403.3" width="3.0" height="3.0" fill="#f0a8de"/><rect x="92.9" y="435.2" width="3.1" height="3.1" fill="#f4b6e6"/><rect x="102.6" y="429.2" width="2.6" height="2.6" fill="#f8c8ec"/><rect x="91.7" y="416.2" width="3.0" height="3.0" fill="#f8c8ec"/><rect x="91.0" y="425.6" width="3.0" height="3.0" fill="#f4b6e6"/><rect x="84.3" y="405.3" width="3.2" height="3.2" fill="#f4b6e6"/><rect x="86.7" y="408.7" width="3.0" height="3.0" fill="#f0a8de"/><rect x="89.4" y="414.7" width="3.1" height="3.1" fill="#f8c8ec"/><rect x="88.2" y="408.3" width="2.2" height="2.2" fill="#f4b6e6"/><rect x="88.1" y="406.1" width="2.8" height="2.8" fill="#f4b6e6"/><rect x="94.0" y="434.5" width="2.3" height="2.3" fill="#ffffff"/><rect x="90.3" y="425.4" width="2.5" height="2.5" fill="#f0a8de"/><rect x="87.0" y="415.7" width="2.9" height="2.9" fill="#f8c8ec"/><rect x="79.2" y="451.8" width="2.3" height="2.3" fill="#f8c8ec"/><rect x="86.6" y="476.5" width="3.1" height="3.1" fill="#ffffff"/><rect x="90.4" y="452.3" width="3.2" height="3.2" fill="#f0a8de"/><rect x="83.8" y="438.9" width="2.4" height="2.4" fill="#f4b6e6"/><rect x="87.9" y="448.2" width="2.4" height="2.4" fill="#f0a8de"/><rect x="73.7" y="444.2" width="2.9" height="2.9" fill="#f4b6e6"/><rect x="76.4" y="437.7" width="2.4" height="2.4" fill="#ffffff"/><rect x="86.7" y="440.0" width="2.5" height="2.5" fill="#f8c8ec"/><rect x="82.2" y="458.4" width="2.7" height="2.7" fill="#ffffff"/><rect x="93.3" y="474.3" width="2.5" height="2.5" fill="#f4b6e6"/><rect x="94.5" y="468.8" width="2.6" height="2.6" fill="#f8c8ec"/><rect x="91.5" y="448.2" width="2.3" height="2.3" fill="#f4b6e6"/><rect x="83.4" y="441.4" width="3.2" height="3.2" fill="#f8c8ec"/><rect x="98.8" y="463.5" width="3.1" height="3.1" fill="#ffffff"/><rect x="85.0" y="448.5" width="2.4" height="2.4" fill="#f4b6e6"/><rect x="83.9" y="476.9" width="3.1" height="3.1" fill="#f4b6e6"/><rect x="89.4" y="470.1" width="2.3" height="2.3" fill="#f8c8ec"/><rect x="101.6" y="461.4" width="2.4" height="2.4" fill="#f4b6e6"/><rect x="90.5" y="441.9" width="3.2" height="3.2" fill="#f0a8de"/><rect x="83.5" y="435.5" width="2.9" height="2.9" fill="#f8c8ec"/><rect x="83.6" y="435.3" width="3.1" height="3.1" fill="#ffffff"/><rect x="86.8" y="463.9" width="2.2" height="2.2" fill="#ffffff"/><rect x="106.7" y="468.8" width="3.2" height="3.2" fill="#f0a8de"/><rect x="90.1" y="475.5" width="2.7" height="2.7" fill="#f8c8ec"/><rect x="96.7" y="471.9" width="2.9" height="2.9" fill="#f8c8ec"/><rect x="82.1" y="444.4" width="3.1" height="3.1" fill="#f8c8ec"/><rect x="82.7" y="443.1" width="2.9" height="2.9" fill="#f4b6e6"/><rect x="85.6" y="472.9" width="2.9" height="2.9" fill="#f4b6e6"/><rect x="101.2" y="465.9" width="2.4" height="2.4" fill="#f8c8ec"/><rect x="91.4" y="467.2" width="2.3" height="2.3" fill="#ffffff"/><rect x="90.5" y="436.2" width="2.4" height="2.4" fill="#f4b6e6"/><rect x="102.9" y="462.9" width="2.3" height="2.3" fill="#f0a8de"/><rect x="95.2" y="463.6" width="2.7" height="2.7" fill="#f4b6e6"/><rect x="91.8" y="466.5" width="2.3" height="2.3" fill="#ffffff"/><rect x="82.0" y="449.6" width="2.3" height="2.3" fill="#ffffff"/><rect x="102.0" y="446.1" width="2.6" height="2.6" fill="#f8c8ec"/><rect x="78.5" y="453.1" width="3.2" height="3.2" fill="#f4b6e6"/><rect x="87.6" y="440.5" width="2.9" height="2.9" fill="#f4b6e6"/><rect x="76.8" y="441.8" width="2.9" height="2.9" fill="#f0a8de"/><rect x="82.2" y="470.0" width="2.6" height="2.6" fill="#f0a8de"/><rect x="77.0" y="442.8" width="2.6" height="2.6" fill="#f4b6e6"/><rect x="104.9" y="456.7" width="2.6" height="2.6" fill="#f4b6e6"/><rect x="90.0" y="448.0" width="2.3" height="2.3" fill="#f8c8ec"/><rect x="83.5" y="434.7" width="3.1" height="3.1" fill="#ffffff"/><rect x="98.7" y="472.5" width="2.2" height="2.2" fill="#f8c8ec"/><rect x="99.8" y="470.5" width="2.2" height="2.2" fill="#f8c8ec"/><rect x="80.5" y="454.4" width="2.5" height="2.5" fill="#f4b6e6"/><rect x="93.0" y="440.8" width="2.6" height="2.6" fill="#f0a8de"/><rect x="86.9" y="444.5" width="2.5" height="2.5" fill="#f4b6e6"/><rect x="85.7" y="459.4" width="2.5" height="2.5" fill="#f0a8de"/><rect x="88.7" y="444.5" width="2.2" height="2.2" fill="#f4b6e6"/><rect x="91.9" y="471.3" width="3.2" height="3.2" fill="#f8c8ec"/><rect x="94.1" y="446.4" width="3.0" height="3.0" fill="#f8c8ec"/><rect x="91.4" y="471.3" width="3.0" height="3.0" fill="#f4b6e6"/><rect x="81.7" y="453.2" width="2.8" height="2.8" fill="#f4b6e6"/><rect x="92.2" y="454.8" width="3.0" height="3.0" fill="#f0a8de"/><rect x="82.7" y="457.3" width="3.0" height="3.0" fill="#f8c8ec"/><rect x="84.1" y="442.2" width="2.7" height="2.7" fill="#f4b6e6"/><rect x="81.4" y="434.9" width="3.1" height="3.1" fill="#f8c8ec"/><rect x="91.8" y="452.7" width="2.4" height="2.4" fill="#f4b6e6"/><rect x="115.4" y="443.7" width="2.4" height="2.4" fill="#f8c8ec"/><rect x="108.6" y="443.3" width="2.9" height="2.9" fill="#f4b6e6"/><rect x="108.7" y="445.6" width="3.0" height="3.0" fill="#f4b6e6"/><rect x="110.3" y="443.3" width="2.6" height="2.6" fill="#f0a8de"/><rect x="101.9" y="440.5" width="2.4" height="2.4" fill="#f4b6e6"/><rect x="104.5" y="452.6" width="2.4" height="2.4" fill="#ffffff"/><rect x="109.0" y="446.0" width="2.7" height="2.7" fill="#f4b6e6"/><rect x="110.5" y="433.7" width="3.2" height="3.2" fill="#f8c8ec"/><rect x="112.9" y="440.4" width="3.0" height="3.0" fill="#f4b6e6"/><rect x="112.9" y="446.9" width="2.4" height="2.4" fill="#f0a8de"/><rect x="108.9" y="439.2" width="2.4" height="2.4" fill="#ffffff"/><rect x="119.7" y="448.9" width="2.6" height="2.6" fill="#f4b6e6"/><rect x="109.5" y="455.0" width="2.3" height="2.3" fill="#f4b6e6"/><rect x="105.1" y="434.4" width="2.2" height="2.2" fill="#f4b6e6"/><rect x="105.7" y="453.7" width="2.2" height="2.2" fill="#f0a8de"/><rect x="99.5" y="437.1" width="3.0" height="3.0" fill="#f4b6e6"/><rect x="98.7" y="438.6" width="2.5" height="2.5" fill="#ffffff"/><rect x="100.6" y="442.2" width="2.7" height="2.7" fill="#ffffff"/><rect x="98.5" y="435.8" width="2.4" height="2.4" fill="#ffffff"/><rect x="121.1" y="442.4" width="2.9" height="2.9" fill="#f8c8ec"/><rect x="99.4" y="439.1" width="2.6" height="2.6" fill="#f0a8de"/><rect x="101.4" y="433.9" width="2.6" height="2.6" fill="#f0a8de"/><rect x="116.1" y="452.3" width="2.8" height="2.8" fill="#f0a8de"/><rect x="119.7" y="449.5" width="2.6" height="2.6" fill="#f4b6e6"/><rect x="111.4" y="429.8" width="2.6" height="2.6" fill="#f4b6e6"/><rect x="116.0" y="449.9" width="2.3" height="2.3" fill="#f4b6e6"/><rect x="101.3" y="435.8" width="2.3" height="2.3" fill="#f8c8ec"/><rect x="102.6" y="445.2" width="2.4" height="2.4" fill="#ffffff"/><rect x="100.9" y="437.8" width="3.1" height="3.1" fill="#f4b6e6"/><rect x="92.2" y="445.6" width="2.5" height="2.5" fill="#f4b6e6"/><rect x="109.5" y="444.6" width="2.5" height="2.5" fill="#f8c8ec"/><rect x="102.9" y="442.7" width="3.1" height="3.1" fill="#f4b6e6"/><rect x="111.6" y="444.4" width="2.8" height="2.8" fill="#f4b6e6"/><rect x="120.1" y="450.2" width="3.0" height="3.0" fill="#ffffff"/><rect x="114.4" y="450.4" width="2.2" height="2.2" fill="#f4b6e6"/><rect x="75.2" y="462.7" width="2.5" height="2.5" fill="#f0a8de"/><rect x="58.7" y="488.7" width="2.4" height="2.4" fill="#f0a8de"/><rect x="77.7" y="462.7" width="2.4" height="2.4" fill="#f4b6e6"/><rect x="75.3" y="468.2" width="3.1" height="3.1" fill="#f4b6e6"/><rect x="80.2" y="470.0" width="2.6" height="2.6" fill="#f4b6e6"/><rect x="68.7" y="471.0" width="2.6" height="2.6" fill="#f0a8de"/><rect x="61.8" y="479.9" width="2.7" height="2.7" fill="#f0a8de"/><rect x="69.3" y="481.3" width="2.6" height="2.6" fill="#f0a8de"/><rect x="64.7" y="469.7" width="2.8" height="2.8" fill="#f0a8de"/><rect x="62.8" y="484.2" width="2.7" height="2.7" fill="#f0a8de"/><rect x="67.5" y="484.3" width="2.5" height="2.5" fill="#f0a8de"/><rect x="66.7" y="477.5" width="2.9" height="2.9" fill="#f0a8de"/><rect x="76.6" y="461.2" width="2.8" height="2.8" fill="#f4b6e6"/><rect x="70.4" y="450.8" width="3.1" height="3.1" fill="#f0a8de"/><rect x="80.1" y="450.2" width="2.9" height="2.9" fill="#f0a8de"/><rect x="80.5" y="449.9" width="2.6" height="2.6" fill="#f4b6e6"/><rect x="64.2" y="457.5" width="2.6" height="2.6" fill="#f0a8de"/><rect x="69.0" y="452.9" width="2.6" height="2.6" fill="#f0a8de"/><rect x="76.2" y="456.7" width="2.8" height="2.8" fill="#f4b6e6"/><rect x="119.5" y="451.1" width="2.9" height="2.9" fill="#f0a8de"/><rect x="117.9" y="456.6" width="2.2" height="2.2" fill="#f4b6e6"/><rect x="116.8" y="449.7" width="2.2" height="2.2" fill="#f4b6e6"/><rect x="124.5" y="451.3" width="3.0" height="3.0" fill="#f4b6e6"/><rect x="121.2" y="445.6" width="2.7" height="2.7" fill="#f0a8de"/><rect x="121.0" y="447.7" width="2.4" height="2.4" fill="#f0a8de"/><rect x="130.1" y="447.2" width="2.8" height="2.8" fill="#f0a8de"/><rect x="137.2" y="449.0" width="2.9" height="2.9" fill="#f0a8de"/><rect x="122.3" y="451.4" width="2.3" height="2.3" fill="#f4b6e6"/><rect x="131.0" y="451.0" width="2.3" height="2.3" fill="#f0a8de"/><rect x="135.9" y="449.7" width="2.6" height="2.6" fill="#f0a8de"/><rect x="122.0" y="446.0" width="3.0" height="3.0" fill="#f0a8de"/><rect x="116.8" y="447.7" width="2.4" height="2.4" fill="#f4b6e6"/><rect x="123.9" y="445.8" width="2.9" height="2.9" fill="#f4b6e6"/><rect x="90.2" y="442.3" width="2.9" height="2.9" fill="#f4b6e6"/><rect x="92.4" y="439.3" width="2.8" height="2.8" fill="#f2aee2"/><rect x="85.4" y="417.8" width="2.9" height="2.9" fill="#f4b6e6"/><rect x="81.7" y="431.0" width="2.7" height="2.7" fill="#f2aee2"/><rect x="92.5" y="431.4" width="3.1" height="3.1" fill="#f8c4ec"/><rect x="93.9" y="422.1" width="2.9" height="2.9" fill="#f2aee2"/><rect x="91.4" y="437.9" width="2.7" height="2.7" fill="#f2aee2"/><rect x="92.0" y="420.9" width="3.2" height="3.2" fill="#f8c4ec"/><rect x="90.7" y="432.9" width="3.4" height="3.4" fill="#f2aee2"/><rect x="86.1" y="412.8" width="3.0" height="3.0" fill="#f4b6e6"/><rect x="82.3" y="430.6" width="2.7" height="2.7" fill="#f4b6e6"/><rect x="81.3" y="410.7" width="3.2" height="3.2" fill="#f8c4ec"/><rect x="78.5" y="406.6" width="2.8" height="2.8" fill="#f8c4ec"/><rect x="81.7" y="419.0" width="3.0" height="3.0" fill="#f4b6e6"/><rect x="83.5" y="410.2" width="3.3" height="3.3" fill="#f4b6e6"/><rect x="88.3" y="432.3" width="2.9" height="2.9" fill="#f8c4ec"/><rect x="89.4" y="429.4" width="3.3" height="3.3" fill="#f2aee2"/><rect x="88.5" y="406.3" width="3.0" height="3.0" fill="#f2aee2"/><rect x="91.1" y="427.4" width="3.2" height="3.2" fill="#f8c4ec"/><rect x="85.3" y="438.2" width="2.7" height="2.7" fill="#f2aee2"/><rect x="84.4" y="441.2" width="2.9" height="2.9" fill="#f4b6e6"/><rect x="87.6" y="441.6" width="2.8" height="2.8" fill="#f2aee2"/><rect x="88.5" y="442.5" width="3.1" height="3.1" fill="#f2aee2"/><rect x="83.0" y="409.1" width="3.1" height="3.1" fill="#f2aee2"/><rect x="80.8" y="406.6" width="2.6" height="2.6" fill="#f8c4ec"/><rect x="92.2" y="429.0" width="3.2" height="3.2" fill="#f2aee2"/><rect x="91.0" y="437.3" width="2.8" height="2.8" fill="#f2aee2"/><rect x="86.1" y="408.3" width="2.9" height="2.9" fill="#f2aee2"/><rect x="84.1" y="408.5" width="2.9" height="2.9" fill="#f8c4ec"/><rect x="87.9" y="417.1" width="2.7" height="2.7" fill="#f2aee2"/><rect x="84.3" y="422.0" width="2.7" height="2.7" fill="#f2aee2"/><rect x="85.0" y="415.7" width="3.3" height="3.3" fill="#f4b6e6"/><rect x="90.4" y="433.0" width="2.7" height="2.7" fill="#f8c4ec"/><rect x="88.2" y="443.2" width="3.3" height="3.3" fill="#f4b6e6"/><rect x="84.6" y="425.1" width="3.0" height="3.0" fill="#f2aee2"/><rect x="87.0" y="405.1" width="3.1" height="3.1" fill="#f4b6e6"/><rect x="91.0" y="420.1" width="3.1" height="3.1" fill="#f4b6e6"/><rect x="83.8" y="418.5" width="3.4" height="3.4" fill="#f8c4ec"/><rect x="90.5" y="432.4" width="2.8" height="2.8" fill="#f8c4ec"/><rect x="90.2" y="439.1" width="2.7" height="2.7" fill="#f4b6e6"/><rect x="83.2" y="408.1" width="3.3" height="3.3" fill="#f4b6e6"/><rect x="85.0" y="404.2" width="3.2" height="3.2" fill="#f2aee2"/><rect x="84.2" y="412.6" width="3.2" height="3.2" fill="#f4b6e6"/><rect x="91.5" y="403.1" width="3.3" height="3.3" fill="#f8c4ec"/><rect x="92.3" y="423.3" width="2.7" height="2.7" fill="#f8c4ec"/><rect x="84.5" y="411.9" width="3.1" height="3.1" fill="#f4b6e6"/><rect x="90.1" y="423.7" width="3.1" height="3.1" fill="#f8c4ec"/><rect x="80.6" y="415.6" width="3.2" height="3.2" fill="#f2aee2"/><rect x="90.7" y="442.3" width="2.8" height="2.8" fill="#f8c4ec"/><rect x="86.5" y="432.9" width="2.8" height="2.8" fill="#f4b6e6"/><rect x="83.7" y="424.9" width="3.2" height="3.2" fill="#f2aee2"/><rect x="81.3" y="408.1" width="3.1" height="3.1" fill="#f4b6e6"/><rect x="90.7" y="435.7" width="3.0" height="3.0" fill="#f2aee2"/><rect x="92.8" y="428.8" width="2.9" height="2.9" fill="#f4b6e6"/><rect x="88.4" y="418.3" width="3.0" height="3.0" fill="#f8c4ec"/><rect x="90.6" y="469.4" width="2.6" height="2.6" fill="#f2aee2"/><rect x="86.3" y="441.4" width="3.3" height="3.3" fill="#f8c4ec"/><rect x="88.5" y="445.4" width="3.0" height="3.0" fill="#f2aee2"/><rect x="84.7" y="448.4" width="2.7" height="2.7" fill="#f8c4ec"/><rect x="91.7" y="450.7" width="3.3" height="3.3" fill="#f4b6e6"/><rect x="92.4" y="468.8" width="2.7" height="2.7" fill="#f2aee2"/><rect x="85.9" y="457.5" width="3.0" height="3.0" fill="#f8c4ec"/><rect x="91.7" y="464.2" width="3.0" height="3.0" fill="#f2aee2"/><rect x="94.5" y="449.0" width="3.3" height="3.3" fill="#f2aee2"/><rect x="84.6" y="450.5" width="2.9" height="2.9" fill="#f8c4ec"/><rect x="85.1" y="462.5" width="2.7" height="2.7" fill="#f8c4ec"/><rect x="89.7" y="464.2" width="2.9" height="2.9" fill="#f8c4ec"/><rect x="88.4" y="465.7" width="2.6" height="2.6" fill="#f8c4ec"/><rect x="87.7" y="459.0" width="2.6" height="2.6" fill="#f8c4ec"/><rect x="89.4" y="469.1" width="3.3" height="3.3" fill="#f2aee2"/><rect x="86.9" y="446.7" width="3.2" height="3.2" fill="#f4b6e6"/><rect x="88.3" y="463.0" width="3.0" height="3.0" fill="#f2aee2"/><rect x="91.0" y="467.3" width="3.2" height="3.2" fill="#f4b6e6"/><rect x="86.5" y="447.5" width="2.6" height="2.6" fill="#f8c4ec"/><rect x="91.1" y="449.2" width="2.9" height="2.9" fill="#f4b6e6"/><rect x="89.2" y="449.7" width="2.9" height="2.9" fill="#f8c4ec"/><rect x="81.6" y="446.3" width="2.9" height="2.9" fill="#f2aee2"/><rect x="88.1" y="441.6" width="3.2" height="3.2" fill="#f8c4ec"/><rect x="90.0" y="471.8" width="3.2" height="3.2" fill="#f4b6e6"/><rect x="91.2" y="472.5" width="2.8" height="2.8" fill="#f2aee2"/><rect x="92.5" y="465.5" width="2.9" height="2.9" fill="#f8c4ec"/><rect x="92.2" y="444.5" width="2.6" height="2.6" fill="#f2aee2"/><rect x="89.0" y="460.7" width="2.8" height="2.8" fill="#f2aee2"/><rect x="87.6" y="452.1" width="2.9" height="2.9" fill="#f8c4ec"/><rect x="92.1" y="438.3" width="3.4" height="3.4" fill="#f8c4ec"/><rect x="87.3" y="463.0" width="2.9" height="2.9" fill="#f4b6e6"/><rect x="92.9" y="454.8" width="3.1" height="3.1" fill="#f4b6e6"/><rect x="90.8" y="442.7" width="2.9" height="2.9" fill="#f2aee2"/><rect x="96.0" y="457.8" width="3.2" height="3.2" fill="#f4b6e6"/><rect x="89.2" y="470.1" width="3.1" height="3.1" fill="#f8c4ec"/><rect x="95.5" y="452.1" width="2.7" height="2.7" fill="#f4b6e6"/><rect x="92.4" y="452.3" width="2.9" height="2.9" fill="#f8c4ec"/><rect x="89.3" y="445.8" width="3.3" height="3.3" fill="#f8c4ec"/><rect x="99.8" y="463.2" width="3.1" height="3.1" fill="#f2aee2"/><rect x="87.9" y="463.1" width="2.8" height="2.8" fill="#f4b6e6"/><rect x="95.9" y="459.5" width="2.6" height="2.6" fill="#f2aee2"/><rect x="91.8" y="453.5" width="3.1" height="3.1" fill="#f8c4ec"/><rect x="82.3" y="443.1" width="2.6" height="2.6" fill="#f8c4ec"/><rect x="88.0" y="452.9" width="3.3" height="3.3" fill="#f8c4ec"/><rect x="97.0" y="458.7" width="2.9" height="2.9" fill="#f4b6e6"/><rect x="92.0" y="446.2" width="3.1" height="3.1" fill="#f8c4ec"/><rect x="88.8" y="460.0" width="3.2" height="3.2" fill="#f8c4ec"/><rect x="93.6" y="451.7" width="2.7" height="2.7" fill="#f4b6e6"/><rect x="95.8" y="443.0" width="3.1" height="3.1" fill="#f2aee2"/><rect x="90.3" y="460.8" width="3.1" height="3.1" fill="#f4b6e6"/><rect x="84.6" y="437.2" width="2.7" height="2.7" fill="#f4b6e6"/><rect x="83.6" y="445.7" width="3.3" height="3.3" fill="#f2aee2"/><rect x="79.1" y="434.7" width="3.2" height="3.2" fill="#f8c4ec"/><rect x="82.6" y="443.6" width="2.6" height="2.6" fill="#f4b6e6"/><rect x="80.1" y="433.0" width="3.2" height="3.2" fill="#f8c4ec"/><rect x="86.2" y="437.2" width="3.2" height="3.2" fill="#f2aee2"/><rect x="83.6" y="438.2" width="2.7" height="2.7" fill="#f4b6e6"/><rect x="82.5" y="441.0" width="2.9" height="2.9" fill="#f2aee2"/><rect x="84.0" y="435.9" width="3.1" height="3.1" fill="#f8c4ec"/><rect x="85.1" y="444.2" width="3.3" height="3.3" fill="#f4b6e6"/><rect x="78.6" y="439.3" width="3.0" height="3.0" fill="#f8c4ec"/><rect x="80.5" y="444.7" width="2.6" height="2.6" fill="#f4b6e6"/><rect x="138.0" y="459.5" width="3.0" height="3.0" fill="#fdfdfd"/><rect x="135.5" y="454.5" width="3.0" height="3.0" fill="#fdfdfd"/><rect x="114.5" y="468.5" width="3.0" height="3.0" fill="#fdfdfd"/><rect x="111.5" y="472.5" width="3.0" height="3.0" fill="#fdfdfd"/><rect x="98.5" y="476.5" width="3.0" height="3.0" fill="#fdfdfd"/><rect x="93.5" y="479.5" width="3.0" height="3.0" fill="#fdfdfd"/><rect x="85.5" y="479.0" width="3.0" height="3.0" fill="#fdfdfd"/><rect x="89.5" y="483.5" width="3.0" height="3.0" fill="#fdfdfd"/><rect x="102.5" y="477.0" width="3.0" height="3.0" fill="#fdfdfd"/><rect x="107.5" y="480.5" width="3.0" height="3.0" fill="#fdfdfd"/><rect x="74.5" y="477.5" width="3.0" height="3.0" fill="#fdfdfd"/></g><g clip-path="url(#cpS2)"><path d="M64,514 C57,518 55,532 59,540 C63,546 70,546 73,543 C68,536 68,524 76,514 C72,512 68,512 64,514 Z" fill="#d4d4da" opacity="0.78"/><path d="M76,514 C68,524 68,536 73,543 C77,544 80,542 82,538 L84,516 C82,514 79,513 76,514 Z" fill="#cfc6f2" opacity="0.6"/><line x1="74.5" y1="527.3" x2="80.6" y2="528.9" stroke="#d8d8e0" stroke-width="0.5" opacity="0.8"/><line x1="73.8" y1="516.2" x2="88.7" y2="521.8" stroke="#d8d8e0" stroke-width="0.5" opacity="0.8"/><line x1="84.3" y1="533.0" x2="99.1" y2="536.9" stroke="#d8d8e0" stroke-width="0.5" opacity="0.8"/><line x1="70.7" y1="519.8" x2="76.9" y2="521.3" stroke="#d8d8e0" stroke-width="0.5" opacity="0.8"/><line x1="74.9" y1="516.4" x2="81.0" y2="518.1" stroke="#d8d8e0" stroke-width="0.5" opacity="0.8"/><line x1="69.6" y1="524.0" x2="77.4" y2="526.7" stroke="#d8d8e0" stroke-width="0.5" opacity="0.8"/><line x1="73.0" y1="526.0" x2="83.5" y2="529.6" stroke="#d8d8e0" stroke-width="0.5" opacity="0.8"/><line x1="76.4" y1="518.0" x2="83.4" y2="520.4" stroke="#d8d8e0" stroke-width="0.5" opacity="0.8"/><line x1="69.6" y1="536.6" x2="79.1" y2="539.3" stroke="#d8d8e0" stroke-width="0.5" opacity="0.8"/><line x1="75.2" y1="515.3" x2="82.2" y2="517.7" stroke="#d8d8e0" stroke-width="0.5" opacity="0.8"/><line x1="75.1" y1="519.0" x2="88.1" y2="522.2" stroke="#d8d8e0" stroke-width="0.5" opacity="0.8"/><line x1="71.5" y1="545.7" x2="78.7" y2="547.7" stroke="#d8d8e0" stroke-width="0.5" opacity="0.8"/><line x1="65.7" y1="521.4" x2="79.6" y2="525.2" stroke="#d8d8e0" stroke-width="0.5" opacity="0.8"/><line x1="82.2" y1="537.5" x2="92.3" y2="540.6" stroke="#d8d8e0" stroke-width="0.5" opacity="0.8"/><line x1="72.8" y1="528.8" x2="86.9" y2="533.6" stroke="#d8d8e0" stroke-width="0.5" opacity="0.8"/><line x1="79.7" y1="531.7" x2="89.6" y2="534.1" stroke="#d8d8e0" stroke-width="0.5" opacity="0.8"/><line x1="77.0" y1="541.1" x2="88.9" y2="544.6" stroke="#d8d8e0" stroke-width="0.5" opacity="0.8"/><line x1="71.8" y1="519.4" x2="77.4" y2="521.5" stroke="#d8d8e0" stroke-width="0.5" opacity="0.8"/><line x1="84.6" y1="537.9" x2="90.8" y2="539.6" stroke="#d8d8e0" stroke-width="0.5" opacity="0.8"/><line x1="76.7" y1="521.1" x2="84.0" y2="523.8" stroke="#d8d8e0" stroke-width="0.5" opacity="0.8"/><line x1="74.7" y1="528.2" x2="86.2" y2="532.2" stroke="#d8d8e0" stroke-width="0.5" opacity="0.8"/><line x1="74.9" y1="522.3" x2="80.7" y2="524.3" stroke="#d8d8e0" stroke-width="0.5" opacity="0.8"/><line x1="79.0" y1="537.8" x2="92.5" y2="542.8" stroke="#d8d8e0" stroke-width="0.5" opacity="0.8"/><line x1="67.8" y1="524.9" x2="81.1" y2="528.0" stroke="#d8d8e0" stroke-width="0.5" opacity="0.8"/><line x1="72.4" y1="546.3" x2="86.2" y2="550.1" stroke="#d8d8e0" stroke-width="0.5" opacity="0.8"/><line x1="80.4" y1="537.2" x2="89.7" y2="539.6" stroke="#d8d8e0" stroke-width="0.5" opacity="0.8"/><line x1="78.3" y1="544.4" x2="91.9" y2="547.6" stroke="#d8d8e0" stroke-width="0.5" opacity="0.8"/><line x1="72.1" y1="527.2" x2="79.7" y2="528.9" stroke="#d8d8e0" stroke-width="0.5" opacity="0.8"/><line x1="71.7" y1="537.3" x2="86.0" y2="542.4" stroke="#d8d8e0" stroke-width="0.5" opacity="0.8"/><line x1="69.6" y1="523.4" x2="76.4" y2="526.0" stroke="#d8d8e0" stroke-width="0.5" opacity="0.8"/><line x1="78.3" y1="531.3" x2="92.8" y2="536.6" stroke="#d8d8e0" stroke-width="0.5" opacity="0.8"/><line x1="118.7" y1="525.6" x2="126.3" y2="527.8" stroke="#d8d8e0" stroke-width="0.5" opacity="0.8"/><line x1="80.3" y1="517.4" x2="89.8" y2="519.5" stroke="#d8d8e0" stroke-width="0.5" opacity="0.8"/><line x1="96.8" y1="517.7" x2="110.9" y2="522.6" stroke="#d8d8e0" stroke-width="0.5" opacity="0.8"/><line x1="111.7" y1="526.6" x2="123.1" y2="529.3" stroke="#d8d8e0" stroke-width="0.5" opacity="0.8"/><line x1="105.7" y1="520.0" x2="111.4" y2="522.0" stroke="#d8d8e0" stroke-width="0.5" opacity="0.8"/><line x1="88.7" y1="521.1" x2="95.6" y2="522.6" stroke="#d8d8e0" stroke-width="0.5" opacity="0.8"/><line x1="103.8" y1="518.8" x2="118.6" y2="523.3" stroke="#d8d8e0" stroke-width="0.5" opacity="0.8"/><line x1="83.4" y1="516.5" x2="94.9" y2="520.8" stroke="#d8d8e0" stroke-width="0.5" opacity="0.8"/><line x1="91.1" y1="514.9" x2="101.2" y2="517.8" stroke="#d8d8e0" stroke-width="0.5" opacity="0.8"/><line x1="83.0" y1="509.5" x2="91.1" y2="511.6" stroke="#d8d8e0" stroke-width="0.5" opacity="0.8"/><line x1="102.8" y1="518.6" x2="114.0" y2="523.0" stroke="#d8d8e0" stroke-width="0.5" opacity="0.8"/><line x1="108.9" y1="519.5" x2="118.3" y2="522.8" stroke="#d8d8e0" stroke-width="0.5" opacity="0.8"/><line x1="98.7" y1="514.8" x2="111.5" y2="517.5" stroke="#d8d8e0" stroke-width="0.5" opacity="0.8"/><line x1="98.4" y1="517.5" x2="107.7" y2="519.8" stroke="#d8d8e0" stroke-width="0.5" opacity="0.8"/><line x1="91.3" y1="517.2" x2="100.6" y2="519.8" stroke="#d8d8e0" stroke-width="0.5" opacity="0.8"/><line x1="99.6" y1="521.2" x2="106.0" y2="522.7" stroke="#d8d8e0" stroke-width="0.5" opacity="0.8"/><line x1="93.2" y1="517.3" x2="101.4" y2="519.1" stroke="#d8d8e0" stroke-width="0.5" opacity="0.8"/><line x1="98.3" y1="522.6" x2="106.4" y2="525.7" stroke="#d8d8e0" stroke-width="0.5" opacity="0.8"/><line x1="111.2" y1="521.5" x2="120.2" y2="524.7" stroke="#d8d8e0" stroke-width="0.5" opacity="0.8"/><line x1="83.6" y1="521.0" x2="98.4" y2="525.5" stroke="#d8d8e0" stroke-width="0.5" opacity="0.8"/><line x1="82.4" y1="516.2" x2="96.8" y2="519.6" stroke="#d8d8e0" stroke-width="0.5" opacity="0.8"/><line x1="85.0" y1="514.1" x2="97.8" y2="517.2" stroke="#d8d8e0" stroke-width="0.5" opacity="0.8"/><line x1="106.5" y1="523.1" x2="113.8" y2="525.8" stroke="#d8d8e0" stroke-width="0.5" opacity="0.8"/><line x1="109.8" y1="521.2" x2="118.6" y2="523.4" stroke="#d8d8e0" stroke-width="0.5" opacity="0.8"/><line x1="99.6" y1="513.8" x2="108.5" y2="517.2" stroke="#d8d8e0" stroke-width="0.5" opacity="0.8"/><line x1="96.2" y1="517.3" x2="108.1" y2="520.2" stroke="#d8d8e0" stroke-width="0.5" opacity="0.8"/><line x1="95.0" y1="514.9" x2="106.6" y2="518.3" stroke="#d8d8e0" stroke-width="0.5" opacity="0.8"/><line x1="98.5" y1="514.0" x2="104.7" y2="515.7" stroke="#d8d8e0" stroke-width="0.5" opacity="0.8"/><line x1="111.4" y1="523.9" x2="124.3" y2="528.2" stroke="#d8d8e0" stroke-width="0.5" opacity="0.8"/><line x1="102.4" y1="521.3" x2="116.7" y2="526.4" stroke="#d8d8e0" stroke-width="0.5" opacity="0.8"/><line x1="113.4" y1="526.3" x2="128.2" y2="530.7" stroke="#d8d8e0" stroke-width="0.5" opacity="0.8"/><line x1="108.0" y1="518.7" x2="116.0" y2="521.9" stroke="#d8d8e0" stroke-width="0.5" opacity="0.8"/><line x1="93.3" y1="525.5" x2="100.5" y2="527.1" stroke="#d8d8e0" stroke-width="0.5" opacity="0.8"/><line x1="94.7" y1="529.2" x2="102.1" y2="531.7" stroke="#d8d8e0" stroke-width="0.5" opacity="0.8"/><line x1="92.5" y1="525.4" x2="105.5" y2="530.2" stroke="#d8d8e0" stroke-width="0.5" opacity="0.8"/><line x1="103.7" y1="530.3" x2="115.7" y2="533.7" stroke="#d8d8e0" stroke-width="0.5" opacity="0.8"/><line x1="92.4" y1="521.8" x2="98.5" y2="523.7" stroke="#d8d8e0" stroke-width="0.5" opacity="0.8"/><line x1="101.9" y1="530.8" x2="108.2" y2="532.4" stroke="#d8d8e0" stroke-width="0.5" opacity="0.8"/><line x1="99.9" y1="534.3" x2="108.4" y2="537.0" stroke="#d8d8e0" stroke-width="0.5" opacity="0.8"/><line x1="98.1" y1="532.8" x2="105.1" y2="535.1" stroke="#d8d8e0" stroke-width="0.5" opacity="0.8"/><line x1="106.7" y1="535.8" x2="113.2" y2="537.3" stroke="#d8d8e0" stroke-width="0.5" opacity="0.8"/><line x1="104.8" y1="533.6" x2="110.4" y2="535.9" stroke="#d8d8e0" stroke-width="0.5" opacity="0.8"/><line x1="101.0" y1="533.0" x2="109.6" y2="535.5" stroke="#d8d8e0" stroke-width="0.5" opacity="0.8"/><line x1="104.5" y1="535.5" x2="114.3" y2="539.4" stroke="#d8d8e0" stroke-width="0.5" opacity="0.8"/><line x1="104.5" y1="537.4" x2="117.8" y2="542.0" stroke="#d8d8e0" stroke-width="0.5" opacity="0.8"/><line x1="96.5" y1="522.3" x2="107.4" y2="526.6" stroke="#d8d8e0" stroke-width="0.5" opacity="0.8"/><line x1="95.3" y1="527.1" x2="109.2" y2="531.4" stroke="#d8d8e0" stroke-width="0.5" opacity="0.8"/><line x1="97.8" y1="532.2" x2="110.5" y2="536.5" stroke="#d8d8e0" stroke-width="0.5" opacity="0.8"/><line x1="105.1" y1="537.2" x2="116.5" y2="540.5" stroke="#d8d8e0" stroke-width="0.5" opacity="0.8"/><line x1="98.8" y1="529.3" x2="107.2" y2="531.4" stroke="#d8d8e0" stroke-width="0.5" opacity="0.8"/><line x1="102.5" y1="525.9" x2="112.8" y2="529.2" stroke="#d8d8e0" stroke-width="0.5" opacity="0.8"/><line x1="98.2" y1="524.2" x2="108.0" y2="527.9" stroke="#d8d8e0" stroke-width="0.5" opacity="0.8"/><line x1="118.3" y1="561.7" x2="125.3" y2="564.2" stroke="#d8d8e0" stroke-width="0.5" opacity="0.8"/><line x1="138.1" y1="566.9" x2="148.9" y2="570.4" stroke="#d8d8e0" stroke-width="0.5" opacity="0.8"/><line x1="122.9" y1="562.0" x2="135.7" y2="567.0" stroke="#d8d8e0" stroke-width="0.5" opacity="0.8"/><line x1="78.4" y1="546.8" x2="89.3" y2="549.6" stroke="#d8d8e0" stroke-width="0.5" opacity="0.8"/><line x1="92.8" y1="557.7" x2="104.6" y2="561.1" stroke="#d8d8e0" stroke-width="0.5" opacity="0.8"/><line x1="131.7" y1="562.3" x2="143.1" y2="566.3" stroke="#d8d8e0" stroke-width="0.5" opacity="0.8"/><line x1="133.6" y1="563.4" x2="147.0" y2="566.8" stroke="#d8d8e0" stroke-width="0.5" opacity="0.8"/><line x1="127.9" y1="568.7" x2="142.1" y2="574.1" stroke="#d8d8e0" stroke-width="0.5" opacity="0.8"/><line x1="90.5" y1="557.3" x2="105.2" y2="560.7" stroke="#d8d8e0" stroke-width="0.5" opacity="0.8"/><line x1="95.0" y1="552.0" x2="109.5" y2="556.1" stroke="#d8d8e0" stroke-width="0.5" opacity="0.8"/><line x1="122.2" y1="552.7" x2="128.1" y2="554.7" stroke="#d8d8e0" stroke-width="0.5" opacity="0.8"/><line x1="72.5" y1="542.8" x2="85.4" y2="547.1" stroke="#d8d8e0" stroke-width="0.5" opacity="0.8"/><line x1="107.3" y1="556.2" x2="118.6" y2="559.0" stroke="#d8d8e0" stroke-width="0.5" opacity="0.8"/><line x1="113.5" y1="566.1" x2="122.4" y2="568.8" stroke="#d8d8e0" stroke-width="0.5" opacity="0.8"/><line x1="86.0" y1="551.0" x2="97.3" y2="555.5" stroke="#d8d8e0" stroke-width="0.5" opacity="0.8"/><line x1="108.9" y1="558.7" x2="121.8" y2="563.6" stroke="#d8d8e0" stroke-width="0.5" opacity="0.8"/><line x1="87.4" y1="554.9" x2="96.0" y2="557.6" stroke="#d8d8e0" stroke-width="0.5" opacity="0.8"/><line x1="128.9" y1="567.2" x2="143.2" y2="572.2" stroke="#d8d8e0" stroke-width="0.5" opacity="0.8"/><line x1="102.9" y1="557.8" x2="108.7" y2="560.1" stroke="#d8d8e0" stroke-width="0.5" opacity="0.8"/><line x1="129.1" y1="566.0" x2="139.7" y2="568.5" stroke="#d8d8e0" stroke-width="0.5" opacity="0.8"/><line x1="81.9" y1="546.8" x2="92.8" y2="550.4" stroke="#d8d8e0" stroke-width="0.5" opacity="0.8"/><line x1="103.1" y1="552.0" x2="110.7" y2="555.0" stroke="#d8d8e0" stroke-width="0.5" opacity="0.8"/><line x1="79.1" y1="549.2" x2="91.9" y2="552.0" stroke="#d8d8e0" stroke-width="0.5" opacity="0.8"/><line x1="130.4" y1="562.6" x2="136.5" y2="564.8" stroke="#d8d8e0" stroke-width="0.5" opacity="0.8"/><line x1="110.0" y1="561.9" x2="122.2" y2="565.9" stroke="#d8d8e0" stroke-width="0.5" opacity="0.8"/><line x1="83.3" y1="550.2" x2="92.7" y2="553.9" stroke="#d8d8e0" stroke-width="0.5" opacity="0.8"/><line x1="131.0" y1="565.3" x2="139.9" y2="567.9" stroke="#d8d8e0" stroke-width="0.5" opacity="0.8"/><line x1="71.1" y1="546.9" x2="83.6" y2="550.4" stroke="#d8d8e0" stroke-width="0.5" opacity="0.8"/><line x1="88.8" y1="547.5" x2="101.5" y2="552.2" stroke="#d8d8e0" stroke-width="0.5" opacity="0.8"/><line x1="107.7" y1="557.5" x2="119.5" y2="561.9" stroke="#d8d8e0" stroke-width="0.5" opacity="0.8"/><line x1="114.4" y1="554.8" x2="127.9" y2="559.9" stroke="#d8d8e0" stroke-width="0.5" opacity="0.8"/><line x1="123.0" y1="566.0" x2="136.1" y2="569.6" stroke="#d8d8e0" stroke-width="0.5" opacity="0.8"/><line x1="90.8" y1="548.8" x2="103.0" y2="551.8" stroke="#d8d8e0" stroke-width="0.5" opacity="0.8"/><line x1="114.5" y1="555.1" x2="128.6" y2="559.2" stroke="#d8d8e0" stroke-width="0.5" opacity="0.8"/><line x1="94.5" y1="548.5" x2="101.3" y2="550.4" stroke="#d8d8e0" stroke-width="0.5" opacity="0.8"/><line x1="73.6" y1="543.4" x2="85.8" y2="546.6" stroke="#d8d8e0" stroke-width="0.5" opacity="0.8"/><line x1="94.3" y1="552.7" x2="106.6" y2="556.1" stroke="#d8d8e0" stroke-width="0.5" opacity="0.8"/><line x1="75.5" y1="554.1" x2="86.8" y2="556.5" stroke="#d8d8e0" stroke-width="0.5" opacity="0.8"/><line x1="100.1" y1="555.1" x2="112.9" y2="558.5" stroke="#d8d8e0" stroke-width="0.5" opacity="0.8"/><line x1="100.8" y1="551.7" x2="110.7" y2="554.8" stroke="#d8d8e0" stroke-width="0.5" opacity="0.8"/><line x1="81.2" y1="546.1" x2="90.8" y2="549.5" stroke="#d8d8e0" stroke-width="0.5" opacity="0.8"/><line x1="118.0" y1="564.9" x2="130.7" y2="568.3" stroke="#d8d8e0" stroke-width="0.5" opacity="0.8"/><line x1="133.1" y1="565.6" x2="144.0" y2="569.9" stroke="#d8d8e0" stroke-width="0.5" opacity="0.8"/><line x1="108.6" y1="559.2" x2="114.9" y2="561.5" stroke="#d8d8e0" stroke-width="0.5" opacity="0.8"/><line x1="138.7" y1="564.7" x2="153.2" y2="569.5" stroke="#d8d8e0" stroke-width="0.5" opacity="0.8"/><line x1="130.4" y1="568.2" x2="136.8" y2="570.0" stroke="#d8d8e0" stroke-width="0.5" opacity="0.8"/><line x1="97.5" y1="550.9" x2="105.5" y2="552.7" stroke="#d8d8e0" stroke-width="0.5" opacity="0.8"/><line x1="82.9" y1="547.1" x2="91.7" y2="550.4" stroke="#d8d8e0" stroke-width="0.5" opacity="0.8"/><line x1="114.1" y1="549.1" x2="125.1" y2="553.5" stroke="#d8d8e0" stroke-width="0.5" opacity="0.8"/><line x1="73.4" y1="547.9" x2="82.3" y2="550.6" stroke="#d8d8e0" stroke-width="0.5" opacity="0.8"/><line x1="95.2" y1="544.8" x2="103.5" y2="547.0" stroke="#d8d8e0" stroke-width="0.5" opacity="0.8"/><line x1="92.0" y1="550.3" x2="99.8" y2="552.0" stroke="#d8d8e0" stroke-width="0.5" opacity="0.8"/><line x1="90.9" y1="555.4" x2="105.4" y2="560.0" stroke="#d8d8e0" stroke-width="0.5" opacity="0.8"/><line x1="71.6" y1="545.5" x2="77.8" y2="548.0" stroke="#d8d8e0" stroke-width="0.5" opacity="0.8"/><line x1="113.0" y1="557.1" x2="126.5" y2="560.7" stroke="#d8d8e0" stroke-width="0.5" opacity="0.8"/><line x1="87.0" y1="549.1" x2="101.4" y2="552.3" stroke="#d8d8e0" stroke-width="0.5" opacity="0.8"/><line x1="132.8" y1="567.2" x2="139.7" y2="569.8" stroke="#d8d8e0" stroke-width="0.5" opacity="0.8"/><line x1="107.4" y1="558.9" x2="122.0" y2="563.5" stroke="#d8d8e0" stroke-width="0.5" opacity="0.8"/><line x1="91.8" y1="536.9" x2="101.9" y2="540.5" stroke="#d8d8e0" stroke-width="0.5" opacity="0.8"/><line x1="99.6" y1="545.1" x2="106.9" y2="547.0" stroke="#d8d8e0" stroke-width="0.5" opacity="0.8"/><line x1="83.2" y1="534.8" x2="91.2" y2="537.6" stroke="#d8d8e0" stroke-width="0.5" opacity="0.8"/><line x1="102.4" y1="543.4" x2="113.2" y2="547.3" stroke="#d8d8e0" stroke-width="0.5" opacity="0.8"/><line x1="83.1" y1="536.9" x2="89.2" y2="538.8" stroke="#d8d8e0" stroke-width="0.5" opacity="0.8"/><line x1="98.7" y1="545.6" x2="110.1" y2="548.8" stroke="#d8d8e0" stroke-width="0.5" opacity="0.8"/><line x1="86.7" y1="531.9" x2="93.5" y2="533.7" stroke="#d8d8e0" stroke-width="0.5" opacity="0.8"/><line x1="81.1" y1="535.0" x2="92.5" y2="537.5" stroke="#d8d8e0" stroke-width="0.5" opacity="0.8"/><line x1="98.1" y1="543.8" x2="108.8" y2="548.1" stroke="#d8d8e0" stroke-width="0.5" opacity="0.8"/><line x1="95.0" y1="529.1" x2="109.7" y2="533.6" stroke="#d8d8e0" stroke-width="0.5" opacity="0.8"/><line x1="83.4" y1="527.5" x2="96.5" y2="530.5" stroke="#d8d8e0" stroke-width="0.5" opacity="0.8"/><line x1="92.9" y1="545.0" x2="104.3" y2="547.9" stroke="#d8d8e0" stroke-width="0.5" opacity="0.8"/><line x1="97.8" y1="543.6" x2="106.9" y2="545.7" stroke="#d8d8e0" stroke-width="0.5" opacity="0.8"/><line x1="74.5" y1="541.0" x2="83.3" y2="543.0" stroke="#d8d8e0" stroke-width="0.5" opacity="0.8"/><line x1="92.6" y1="546.2" x2="103.4" y2="548.8" stroke="#d8d8e0" stroke-width="0.5" opacity="0.8"/><line x1="88.9" y1="540.1" x2="103.3" y2="545.1" stroke="#d8d8e0" stroke-width="0.5" opacity="0.8"/><line x1="112.0" y1="528.0" x2="137.0" y2="537.0" stroke="#d8d8e0" stroke-width="0.6" opacity="0.85"/><line x1="108.0" y1="530.0" x2="136.0" y2="539.0" stroke="#d8d8e0" stroke-width="0.6" opacity="0.85"/><line x1="100.0" y1="538.0" x2="128.0" y2="546.0" stroke="#d8d8e0" stroke-width="0.6" opacity="0.85"/><line x1="110.0" y1="546.0" x2="141.0" y2="554.0" stroke="#d8d8e0" stroke-width="0.6" opacity="0.85"/><line x1="112.0" y1="549.0" x2="141.0" y2="557.0" stroke="#d8d8e0" stroke-width="0.6" opacity="0.85"/><line x1="104.0" y1="541.0" x2="131.0" y2="549.0" stroke="#d8d8e0" stroke-width="0.6" opacity="0.85"/><line x1="118.0" y1="556.0" x2="139.0" y2="566.0" stroke="#d8d8e0" stroke-width="0.6" opacity="0.85"/><rect x="68.4" y="539.0" width="2.1" height="2.1" fill="#bfb0f4" opacity="0.95"/><rect x="73.5" y="526.3" width="2.0" height="2.0" fill="#d4caf8" opacity="0.95"/><rect x="72.8" y="515.2" width="1.9" height="1.9" fill="#c9bcf6" opacity="0.95"/><rect x="83.4" y="532.1" width="1.8" height="1.8" fill="#ffffff" opacity="0.95"/><rect x="80.5" y="532.5" width="1.5" height="1.5" fill="#e4e0f4" opacity="0.95"/><rect x="69.7" y="518.8" width="2.1" height="2.1" fill="#d4caf8" opacity="0.95"/><rect x="74.1" y="515.6" width="1.5" height="1.5" fill="#c9bcf6" opacity="0.95"/><rect x="69.0" y="529.2" width="2.0" height="2.0" fill="#e4e0f4" opacity="0.95"/><rect x="75.2" y="526.0" width="2.1" height="2.1" fill="#c9bcf6" opacity="0.95"/><rect x="73.9" y="513.0" width="1.9" height="1.9" fill="#c9bcf6" opacity="0.95"/><rect x="84.8" y="537.7" width="1.5" height="1.5" fill="#bfb0f4" opacity="0.95"/><rect x="68.0" y="521.3" width="1.9" height="1.9" fill="#d0d0d8" opacity="0.95"/><rect x="68.8" y="523.2" width="1.5" height="1.5" fill="#d4caf8" opacity="0.95"/><rect x="79.1" y="529.9" width="1.5" height="1.5" fill="#bfb0f4" opacity="0.95"/><rect x="75.0" y="542.4" width="1.4" height="1.4" fill="#ffffff" opacity="0.95"/><rect x="72.0" y="524.9" width="2.1" height="2.1" fill="#c9bcf6" opacity="0.95"/><rect x="75.4" y="517.0" width="2.0" height="2.0" fill="#e4e0f4" opacity="0.95"/><rect x="76.2" y="536.4" width="2.2" height="2.2" fill="#d0d0d8" opacity="0.95"/><rect x="68.9" y="530.1" width="1.9" height="1.9" fill="#e4e0f4" opacity="0.95"/><rect x="68.8" y="535.9" width="1.5" height="1.5" fill="#bfb0f4" opacity="0.95"/><rect x="74.3" y="514.5" width="1.7" height="1.7" fill="#e4e0f4" opacity="0.95"/><rect x="63.0" y="517.0" width="1.4" height="1.4" fill="#d0d0d8" opacity="0.95"/><rect x="71.9" y="535.3" width="2.0" height="2.0" fill="#d4caf8" opacity="0.95"/><rect x="76.4" y="532.2" width="1.6" height="1.6" fill="#ffffff" opacity="0.95"/><rect x="71.9" y="532.4" width="2.1" height="2.1" fill="#d4caf8" opacity="0.95"/><rect x="74.2" y="543.3" width="2.2" height="2.2" fill="#e4e0f4" opacity="0.95"/><rect x="75.6" y="522.5" width="1.9" height="1.9" fill="#e4e0f4" opacity="0.95"/><rect x="77.3" y="542.5" width="1.7" height="1.7" fill="#d4caf8" opacity="0.95"/><rect x="74.2" y="518.0" width="1.9" height="1.9" fill="#d4caf8" opacity="0.95"/><rect x="70.6" y="544.8" width="1.8" height="1.8" fill="#d4caf8" opacity="0.95"/><rect x="64.9" y="520.6" width="1.6" height="1.6" fill="#c9bcf6" opacity="0.95"/><rect x="81.5" y="536.7" width="1.5" height="1.5" fill="#e4e0f4" opacity="0.95"/><rect x="72.0" y="528.0" width="1.5" height="1.5" fill="#ffffff" opacity="0.95"/><rect x="71.3" y="522.4" width="1.6" height="1.6" fill="#e4e0f4" opacity="0.95"/><rect x="74.5" y="521.8" width="1.5" height="1.5" fill="#d4caf8" opacity="0.95"/><rect x="77.6" y="531.8" width="1.7" height="1.7" fill="#bfb0f4" opacity="0.95"/><rect x="78.7" y="530.6" width="2.1" height="2.1" fill="#c9bcf6" opacity="0.95"/><rect x="76.0" y="540.0" width="2.1" height="2.1" fill="#bfb0f4" opacity="0.95"/><rect x="70.9" y="518.5" width="1.8" height="1.8" fill="#ffffff" opacity="0.95"/><rect x="83.7" y="536.9" width="1.8" height="1.8" fill="#d4caf8" opacity="0.95"/><rect x="75.9" y="520.3" width="1.6" height="1.6" fill="#d4caf8" opacity="0.95"/><rect x="76.3" y="524.5" width="2.0" height="2.0" fill="#d4caf8" opacity="0.95"/><rect x="66.8" y="522.1" width="2.1" height="2.1" fill="#ffffff" opacity="0.95"/><rect x="73.7" y="527.2" width="2.0" height="2.0" fill="#d4caf8" opacity="0.95"/><rect x="73.9" y="521.3" width="2.0" height="2.0" fill="#ffffff" opacity="0.95"/><rect x="65.3" y="520.2" width="1.8" height="1.8" fill="#d0d0d8" opacity="0.95"/><rect x="78.1" y="536.9" width="1.8" height="1.8" fill="#bfb0f4" opacity="0.95"/><rect x="66.9" y="524.0" width="1.8" height="1.8" fill="#c9bcf6" opacity="0.95"/><rect x="71.5" y="545.3" width="1.9" height="1.9" fill="#d4caf8" opacity="0.95"/><rect x="64.4" y="520.2" width="1.5" height="1.5" fill="#bfb0f4" opacity="0.95"/><rect x="74.3" y="530.1" width="2.1" height="2.1" fill="#bfb0f4" opacity="0.95"/><rect x="79.5" y="536.3" width="1.8" height="1.8" fill="#ffffff" opacity="0.95"/><rect x="73.3" y="530.2" width="2.1" height="2.1" fill="#bfb0f4" opacity="0.95"/><rect x="77.2" y="527.3" width="2.1" height="2.1" fill="#ffffff" opacity="0.95"/><rect x="71.0" y="537.0" width="1.4" height="1.4" fill="#c9bcf6" opacity="0.95"/><rect x="77.4" y="543.5" width="1.8" height="1.8" fill="#ffffff" opacity="0.95"/><rect x="71.3" y="526.4" width="1.6" height="1.6" fill="#c9bcf6" opacity="0.95"/><rect x="70.8" y="536.5" width="1.6" height="1.6" fill="#c9bcf6" opacity="0.95"/><rect x="71.3" y="513.9" width="1.6" height="1.6" fill="#ffffff" opacity="0.95"/><rect x="76.3" y="524.6" width="1.8" height="1.8" fill="#d4caf8" opacity="0.95"/><rect x="73.2" y="524.6" width="1.5" height="1.5" fill="#c9bcf6" opacity="0.95"/><rect x="73.1" y="515.3" width="1.4" height="1.4" fill="#c9bcf6" opacity="0.95"/><rect x="68.7" y="522.5" width="1.9" height="1.9" fill="#bfb0f4" opacity="0.95"/><rect x="77.5" y="538.6" width="1.8" height="1.8" fill="#d4caf8" opacity="0.95"/><rect x="67.2" y="521.3" width="1.5" height="1.5" fill="#ffffff" opacity="0.95"/><rect x="65.7" y="521.9" width="1.7" height="1.7" fill="#c9bcf6" opacity="0.95"/><rect x="68.1" y="523.7" width="1.7" height="1.7" fill="#e4e0f4" opacity="0.95"/><rect x="77.4" y="530.4" width="1.9" height="1.9" fill="#c9bcf6" opacity="0.95"/><rect x="71.5" y="541.1" width="1.7" height="1.7" fill="#d4caf8" opacity="0.95"/><rect x="67.5" y="522.3" width="2.0" height="2.0" fill="#ffffff" opacity="0.95"/><rect x="116.7" y="520.6" width="1.9" height="1.9" fill="#bfb0f4" opacity="0.95"/><rect x="112.2" y="522.0" width="1.4" height="1.4" fill="#c9bcf6" opacity="0.95"/><rect x="99.7" y="517.6" width="1.5" height="1.5" fill="#bfb0f4" opacity="0.95"/><rect x="117.8" y="524.6" width="1.9" height="1.9" fill="#ffffff" opacity="0.95"/><rect x="95.5" y="516.5" width="1.7" height="1.7" fill="#ffffff" opacity="0.95"/><rect x="104.8" y="517.0" width="1.9" height="1.9" fill="#d0d0d8" opacity="0.95"/><rect x="79.3" y="516.4" width="2.1" height="2.1" fill="#d4caf8" opacity="0.95"/><rect x="95.9" y="516.9" width="1.6" height="1.6" fill="#d4caf8" opacity="0.95"/><rect x="83.0" y="514.3" width="2.1" height="2.1" fill="#ffffff" opacity="0.95"/><rect x="118.6" y="524.0" width="1.7" height="1.7" fill="#d4caf8" opacity="0.95"/><rect x="105.8" y="512.5" width="2.1" height="2.1" fill="#d4caf8" opacity="0.95"/><rect x="111.0" y="525.9" width="1.6" height="1.6" fill="#d4caf8" opacity="0.95"/><rect x="79.5" y="509.4" width="1.9" height="1.9" fill="#d0d0d8" opacity="0.95"/><rect x="105.0" y="519.3" width="1.4" height="1.4" fill="#e4e0f4" opacity="0.95"/><rect x="87.8" y="520.2" width="1.8" height="1.8" fill="#bfb0f4" opacity="0.95"/><rect x="99.8" y="522.3" width="1.4" height="1.4" fill="#d4caf8" opacity="0.95"/><rect x="88.3" y="513.7" width="1.8" height="1.8" fill="#bfb0f4" opacity="0.95"/><rect x="100.8" y="511.6" width="2.1" height="2.1" fill="#ffffff" opacity="0.95"/><rect x="88.8" y="518.8" width="1.9" height="1.9" fill="#e4e0f4" opacity="0.95"/><rect x="90.6" y="515.4" width="1.5" height="1.5" fill="#ffffff" opacity="0.95"/><rect x="103.1" y="518.0" width="1.5" height="1.5" fill="#c9bcf6" opacity="0.95"/><rect x="118.8" y="520.4" width="1.8" height="1.8" fill="#e4e0f4" opacity="0.95"/><rect x="97.4" y="517.7" width="1.4" height="1.4" fill="#c9bcf6" opacity="0.95"/><rect x="99.8" y="519.3" width="1.9" height="1.9" fill="#d4caf8" opacity="0.95"/><rect x="82.5" y="515.7" width="1.7" height="1.7" fill="#d4caf8" opacity="0.95"/><rect x="90.0" y="513.9" width="2.2" height="2.2" fill="#c9bcf6" opacity="0.95"/><rect x="87.4" y="517.0" width="1.4" height="1.4" fill="#e4e0f4" opacity="0.95"/><rect x="81.9" y="508.4" width="2.2" height="2.2" fill="#e4e0f4" opacity="0.95"/><rect x="103.8" y="517.7" width="1.5" height="1.5" fill="#ffffff" opacity="0.95"/><rect x="102.0" y="517.7" width="1.7" height="1.7" fill="#e4e0f4" opacity="0.95"/><rect x="108.0" y="518.6" width="1.8" height="1.8" fill="#c9bcf6" opacity="0.95"/><rect x="97.9" y="514.0" width="1.6" height="1.6" fill="#bfb0f4" opacity="0.95"/><rect x="97.4" y="516.4" width="2.1" height="2.1" fill="#c9bcf6" opacity="0.95"/><rect x="90.2" y="516.1" width="2.2" height="2.2" fill="#bfb0f4" opacity="0.95"/><rect x="98.5" y="520.1" width="2.1" height="2.1" fill="#bfb0f4" opacity="0.95"/><rect x="93.5" y="516.4" width="2.1" height="2.1" fill="#bfb0f4" opacity="0.95"/><rect x="92.4" y="516.4" width="1.7" height="1.7" fill="#e4e0f4" opacity="0.95"/><rect x="114.0" y="521.9" width="1.9" height="1.9" fill="#bfb0f4" opacity="0.95"/><rect x="97.5" y="521.8" width="1.6" height="1.6" fill="#d4caf8" opacity="0.95"/><rect x="88.9" y="518.5" width="1.5" height="1.5" fill="#e4e0f4" opacity="0.95"/><rect x="110.2" y="520.5" width="2.0" height="2.0" fill="#d4caf8" opacity="0.95"/><rect x="82.7" y="520.1" width="1.7" height="1.7" fill="#ffffff" opacity="0.95"/><rect x="95.6" y="520.0" width="1.6" height="1.6" fill="#e4e0f4" opacity="0.95"/><rect x="80.1" y="511.1" width="2.2" height="2.2" fill="#bfb0f4" opacity="0.95"/><rect x="108.3" y="522.5" width="1.8" height="1.8" fill="#bfb0f4" opacity="0.95"/><rect x="81.6" y="515.4" width="1.7" height="1.7" fill="#ffffff" opacity="0.95"/><rect x="107.2" y="527.8" width="1.8" height="1.8" fill="#ffffff" opacity="0.95"/><rect x="84.0" y="513.1" width="2.0" height="2.0" fill="#e4e0f4" opacity="0.95"/><rect x="105.8" y="522.4" width="1.4" height="1.4" fill="#d0d0d8" opacity="0.95"/><rect x="102.9" y="522.5" width="1.7" height="1.7" fill="#d0d0d8" opacity="0.95"/><rect x="100.6" y="514.1" width="1.5" height="1.5" fill="#bfb0f4" opacity="0.95"/><rect x="108.8" y="520.2" width="2.0" height="2.0" fill="#d4caf8" opacity="0.95"/><rect x="98.8" y="513.1" width="1.5" height="1.5" fill="#d0d0d8" opacity="0.95"/><rect x="111.3" y="519.3" width="1.8" height="1.8" fill="#d0d0d8" opacity="0.95"/><rect x="83.9" y="508.0" width="2.1" height="2.1" fill="#d4caf8" opacity="0.95"/><rect x="113.5" y="526.9" width="1.5" height="1.5" fill="#bfb0f4" opacity="0.95"/><rect x="102.2" y="519.0" width="1.9" height="1.9" fill="#bfb0f4" opacity="0.95"/><rect x="97.8" y="522.0" width="1.4" height="1.4" fill="#d0d0d8" opacity="0.95"/><rect x="95.4" y="516.5" width="1.6" height="1.6" fill="#e4e0f4" opacity="0.95"/><rect x="110.3" y="523.9" width="1.5" height="1.5" fill="#ffffff" opacity="0.95"/><rect x="94.0" y="513.9" width="2.0" height="2.0" fill="#c9bcf6" opacity="0.95"/><rect x="97.5" y="513.0" width="2.0" height="2.0" fill="#d4caf8" opacity="0.95"/><rect x="89.4" y="517.2" width="1.9" height="1.9" fill="#d4caf8" opacity="0.95"/><rect x="94.6" y="514.4" width="1.6" height="1.6" fill="#e4e0f4" opacity="0.95"/><rect x="91.3" y="515.4" width="1.6" height="1.6" fill="#e4e0f4" opacity="0.95"/><rect x="110.4" y="523.0" width="1.9" height="1.9" fill="#c9bcf6" opacity="0.95"/><rect x="96.7" y="514.6" width="2.1" height="2.1" fill="#ffffff" opacity="0.95"/><rect x="85.3" y="514.6" width="1.4" height="1.4" fill="#d4caf8" opacity="0.95"/><rect x="101.7" y="520.6" width="1.4" height="1.4" fill="#bfb0f4" opacity="0.95"/><rect x="101.0" y="524.7" width="1.5" height="1.5" fill="#d0d0d8" opacity="0.95"/><rect x="90.0" y="519.6" width="2.2" height="2.2" fill="#ffffff" opacity="0.95"/><rect x="112.6" y="525.5" width="1.6" height="1.6" fill="#c9bcf6" opacity="0.95"/><rect x="87.4" y="508.9" width="1.7" height="1.7" fill="#ffffff" opacity="0.95"/><rect x="95.2" y="517.6" width="2.1" height="2.1" fill="#d0d0d8" opacity="0.95"/><rect x="79.2" y="513.3" width="1.8" height="1.8" fill="#d0d0d8" opacity="0.95"/><rect x="102.9" y="512.2" width="1.7" height="1.7" fill="#ffffff" opacity="0.95"/><rect x="110.2" y="520.8" width="2.0" height="2.0" fill="#e4e0f4" opacity="0.95"/><rect x="99.6" y="522.2" width="1.4" height="1.4" fill="#d0d0d8" opacity="0.95"/><rect x="99.3" y="518.2" width="1.8" height="1.8" fill="#d4caf8" opacity="0.95"/><rect x="106.9" y="517.7" width="2.2" height="2.2" fill="#d0d0d8" opacity="0.95"/><rect x="92.3" y="524.6" width="2.0" height="2.0" fill="#d0d0d8" opacity="0.95"/><rect x="93.7" y="528.2" width="2.0" height="2.0" fill="#d4caf8" opacity="0.95"/><rect x="91.5" y="524.4" width="2.1" height="2.1" fill="#d0d0d8" opacity="0.95"/><rect x="102.7" y="529.3" width="2.0" height="2.0" fill="#bfb0f4" opacity="0.95"/><rect x="100.9" y="532.0" width="1.6" height="1.6" fill="#d4caf8" opacity="0.95"/><rect x="91.6" y="520.9" width="1.7" height="1.7" fill="#bfb0f4" opacity="0.95"/><rect x="100.9" y="529.8" width="1.9" height="1.9" fill="#d0d0d8" opacity="0.95"/><rect x="99.0" y="533.4" width="1.7" height="1.7" fill="#d0d0d8" opacity="0.95"/><rect x="97.4" y="532.1" width="1.5" height="1.5" fill="#d0d0d8" opacity="0.95"/><rect x="95.1" y="524.2" width="1.7" height="1.7" fill="#c9bcf6" opacity="0.95"/><rect x="97.7" y="526.9" width="1.8" height="1.8" fill="#d4caf8" opacity="0.95"/><rect x="104.9" y="535.0" width="1.4" height="1.4" fill="#ffffff" opacity="0.95"/><rect x="105.6" y="534.8" width="2.0" height="2.0" fill="#e4e0f4" opacity="0.95"/><rect x="103.8" y="532.6" width="2.0" height="2.0" fill="#bfb0f4" opacity="0.95"/><rect x="100.2" y="532.2" width="1.5" height="1.5" fill="#d0d0d8" opacity="0.95"/><rect x="91.8" y="520.8" width="1.9" height="1.9" fill="#bfb0f4" opacity="0.95"/><rect x="103.6" y="534.6" width="1.8" height="1.8" fill="#ffffff" opacity="0.95"/><rect x="94.0" y="526.6" width="2.1" height="2.1" fill="#d4caf8" opacity="0.95"/><rect x="103.4" y="536.3" width="2.2" height="2.2" fill="#ffffff" opacity="0.95"/><rect x="95.7" y="521.5" width="1.7" height="1.7" fill="#d0d0d8" opacity="0.95"/><rect x="94.4" y="526.2" width="1.8" height="1.8" fill="#d0d0d8" opacity="0.95"/><rect x="96.9" y="531.2" width="1.9" height="1.9" fill="#d4caf8" opacity="0.95"/><rect x="104.4" y="536.5" width="1.5" height="1.5" fill="#ffffff" opacity="0.95"/><rect x="97.9" y="528.3" width="1.8" height="1.8" fill="#ffffff" opacity="0.95"/><rect x="102.9" y="530.5" width="2.2" height="2.2" fill="#d4caf8" opacity="0.95"/><rect x="97.8" y="522.6" width="1.5" height="1.5" fill="#bfb0f4" opacity="0.95"/><rect x="101.7" y="525.2" width="1.6" height="1.6" fill="#d0d0d8" opacity="0.95"/><rect x="102.9" y="532.3" width="1.6" height="1.6" fill="#ffffff" opacity="0.95"/><rect x="90.7" y="523.8" width="2.0" height="2.0" fill="#ffffff" opacity="0.95"/><rect x="97.2" y="523.2" width="2.1" height="2.1" fill="#d0d0d8" opacity="0.95"/><rect x="107.5" y="552.4" width="1.9" height="1.9" fill="#d0d0d8" opacity="0.95"/><rect x="117.5" y="560.9" width="1.5" height="1.5" fill="#c9bcf6" opacity="0.95"/><rect x="137.3" y="566.2" width="1.5" height="1.5" fill="#bfb0f4" opacity="0.95"/><rect x="115.7" y="566.5" width="1.8" height="1.8" fill="#d0d0d8" opacity="0.95"/><rect x="93.5" y="556.5" width="1.9" height="1.9" fill="#d4caf8" opacity="0.95"/><rect x="78.3" y="551.3" width="1.6" height="1.6" fill="#d0d0d8" opacity="0.95"/><rect x="122.2" y="561.2" width="1.4" height="1.4" fill="#d0d0d8" opacity="0.95"/><rect x="77.5" y="545.9" width="1.8" height="1.8" fill="#bfb0f4" opacity="0.95"/><rect x="85.0" y="547.1" width="1.6" height="1.6" fill="#ffffff" opacity="0.95"/><rect x="91.8" y="556.7" width="1.9" height="1.9" fill="#bfb0f4" opacity="0.95"/><rect x="82.4" y="547.9" width="2.2" height="2.2" fill="#c9bcf6" opacity="0.95"/><rect x="89.3" y="549.0" width="1.5" height="1.5" fill="#ffffff" opacity="0.95"/><rect x="130.8" y="561.4" width="1.8" height="1.8" fill="#d4caf8" opacity="0.95"/><rect x="109.5" y="561.4" width="2.1" height="2.1" fill="#d0d0d8" opacity="0.95"/><rect x="132.6" y="562.4" width="2.0" height="2.0" fill="#ffffff" opacity="0.95"/><rect x="126.8" y="567.6" width="2.2" height="2.2" fill="#e4e0f4" opacity="0.95"/><rect x="89.7" y="556.4" width="1.7" height="1.7" fill="#d4caf8" opacity="0.95"/><rect x="121.8" y="558.9" width="2.0" height="2.0" fill="#c9bcf6" opacity="0.95"/><rect x="78.8" y="538.8" width="2.1" height="2.1" fill="#d0d0d8" opacity="0.95"/><rect x="94.3" y="551.2" width="1.4" height="1.4" fill="#ffffff" opacity="0.95"/><rect x="121.3" y="551.7" width="1.9" height="1.9" fill="#d4caf8" opacity="0.95"/><rect x="71.7" y="542.0" width="1.6" height="1.6" fill="#bfb0f4" opacity="0.95"/><rect x="106.4" y="555.4" width="1.6" height="1.6" fill="#e4e0f4" opacity="0.95"/><rect x="120.9" y="569.3" width="2.1" height="2.1" fill="#bfb0f4" opacity="0.95"/><rect x="112.7" y="565.4" width="1.5" height="1.5" fill="#bfb0f4" opacity="0.95"/><rect x="85.0" y="550.0" width="2.1" height="2.1" fill="#d4caf8" opacity="0.95"/><rect x="124.6" y="567.8" width="1.6" height="1.6" fill="#c9bcf6" opacity="0.95"/><rect x="108.1" y="557.9" width="1.6" height="1.6" fill="#d0d0d8" opacity="0.95"/><rect x="75.7" y="545.6" width="1.5" height="1.5" fill="#d4caf8" opacity="0.95"/><rect x="122.7" y="564.9" width="1.6" height="1.6" fill="#c9bcf6" opacity="0.95"/><rect x="86.6" y="554.2" width="1.5" height="1.5" fill="#c9bcf6" opacity="0.95"/><rect x="116.2" y="558.5" width="1.7" height="1.7" fill="#d4caf8" opacity="0.95"/><rect x="128.0" y="566.3" width="1.7" height="1.7" fill="#e4e0f4" opacity="0.95"/><rect x="106.0" y="553.4" width="2.1" height="2.1" fill="#c9bcf6" opacity="0.95"/><rect x="136.1" y="560.6" width="1.6" height="1.6" fill="#d0d0d8" opacity="0.95"/><rect x="69.7" y="541.5" width="1.4" height="1.4" fill="#ffffff" opacity="0.95"/><rect x="102.0" y="556.9" width="1.9" height="1.9" fill="#d0d0d8" opacity="0.95"/><rect x="128.3" y="565.2" width="1.7" height="1.7" fill="#c9bcf6" opacity="0.95"/><rect x="81.1" y="545.9" width="1.7" height="1.7" fill="#d4caf8" opacity="0.95"/><rect x="125.1" y="561.8" width="1.8" height="1.8" fill="#c9bcf6" opacity="0.95"/><rect x="102.1" y="551.0" width="2.1" height="2.1" fill="#c9bcf6" opacity="0.95"/><rect x="78.1" y="548.2" width="2.1" height="2.1" fill="#d0d0d8" opacity="0.95"/><rect x="129.6" y="561.8" width="1.6" height="1.6" fill="#c9bcf6" opacity="0.95"/><rect x="108.9" y="560.8" width="2.2" height="2.2" fill="#bfb0f4" opacity="0.95"/><rect x="82.4" y="549.2" width="1.8" height="1.8" fill="#ffffff" opacity="0.95"/><rect x="130.0" y="564.3" width="2.0" height="2.0" fill="#bfb0f4" opacity="0.95"/><rect x="79.8" y="545.7" width="2.2" height="2.2" fill="#e4e0f4" opacity="0.95"/><rect x="94.7" y="546.5" width="2.1" height="2.1" fill="#d4caf8" opacity="0.95"/><rect x="94.4" y="553.1" width="1.9" height="1.9" fill="#d4caf8" opacity="0.95"/><rect x="90.5" y="556.0" width="2.1" height="2.1" fill="#bfb0f4" opacity="0.95"/><rect x="91.0" y="550.9" width="2.0" height="2.0" fill="#d4caf8" opacity="0.95"/><rect x="73.5" y="531.9" width="1.9" height="1.9" fill="#c9bcf6" opacity="0.95"/><rect x="70.1" y="545.9" width="2.0" height="2.0" fill="#d0d0d8" opacity="0.95"/><rect x="78.6" y="544.4" width="1.9" height="1.9" fill="#ffffff" opacity="0.95"/><rect x="88.0" y="546.6" width="1.8" height="1.8" fill="#ffffff" opacity="0.95"/><rect x="102.7" y="554.7" width="1.8" height="1.8" fill="#ffffff" opacity="0.95"/><rect x="102.8" y="560.7" width="1.7" height="1.7" fill="#d0d0d8" opacity="0.95"/><rect x="133.6" y="567.8" width="2.1" height="2.1" fill="#bfb0f4" opacity="0.95"/><rect x="106.8" y="556.7" width="1.7" height="1.7" fill="#ffffff" opacity="0.95"/><rect x="119.8" y="566.8" width="1.5" height="1.5" fill="#ffffff" opacity="0.95"/><rect x="113.4" y="553.7" width="2.1" height="2.1" fill="#bfb0f4" opacity="0.95"/><rect x="112.7" y="556.7" width="1.7" height="1.7" fill="#ffffff" opacity="0.95"/><rect x="122.2" y="565.2" width="1.6" height="1.6" fill="#d4caf8" opacity="0.95"/><rect x="126.5" y="570.2" width="1.6" height="1.6" fill="#d4caf8" opacity="0.95"/><rect x="90.0" y="548.0" width="1.6" height="1.6" fill="#d4caf8" opacity="0.95"/><rect x="120.7" y="561.5" width="2.2" height="2.2" fill="#d0d0d8" opacity="0.95"/><rect x="113.8" y="554.3" width="1.4" height="1.4" fill="#e4e0f4" opacity="0.95"/><rect x="93.7" y="547.6" width="1.7" height="1.7" fill="#d0d0d8" opacity="0.95"/><rect x="72.6" y="542.4" width="2.0" height="2.0" fill="#ffffff" opacity="0.95"/><rect x="93.3" y="546.0" width="1.6" height="1.6" fill="#e4e0f4" opacity="0.95"/><rect x="97.6" y="564.7" width="1.8" height="1.8" fill="#e4e0f4" opacity="0.95"/><rect x="93.5" y="551.9" width="1.5" height="1.5" fill="#ffffff" opacity="0.95"/><rect x="91.2" y="553.9" width="1.8" height="1.8" fill="#d4caf8" opacity="0.95"/><rect x="74.6" y="553.2" width="1.8" height="1.8" fill="#e4e0f4" opacity="0.95"/><rect x="99.3" y="554.3" width="1.6" height="1.6" fill="#ffffff" opacity="0.95"/><rect x="100.0" y="550.9" width="1.7" height="1.7" fill="#d4caf8" opacity="0.95"/><rect x="80.3" y="545.2" width="1.8" height="1.8" fill="#c9bcf6" opacity="0.95"/><rect x="73.0" y="542.8" width="1.9" height="1.9" fill="#bfb0f4" opacity="0.95"/><rect x="117.0" y="564.0" width="2.0" height="2.0" fill="#e4e0f4" opacity="0.95"/><rect x="105.0" y="559.6" width="1.7" height="1.7" fill="#d0d0d8" opacity="0.95"/><rect x="132.3" y="564.8" width="1.6" height="1.6" fill="#d4caf8" opacity="0.95"/><rect x="107.7" y="559.4" width="1.6" height="1.6" fill="#d0d0d8" opacity="0.95"/><rect x="107.9" y="558.5" width="1.5" height="1.5" fill="#d4caf8" opacity="0.95"/><rect x="137.8" y="563.8" width="1.7" height="1.7" fill="#ffffff" opacity="0.95"/><rect x="95.6" y="558.2" width="2.0" height="2.0" fill="#c9bcf6" opacity="0.95"/><rect x="126.5" y="568.6" width="1.8" height="1.8" fill="#e4e0f4" opacity="0.95"/><rect x="129.5" y="567.3" width="1.7" height="1.7" fill="#e4e0f4" opacity="0.95"/><rect x="87.3" y="549.4" width="1.5" height="1.5" fill="#c9bcf6" opacity="0.95"/><rect x="79.1" y="547.1" width="2.0" height="2.0" fill="#e4e0f4" opacity="0.95"/><rect x="86.7" y="548.2" width="2.1" height="2.1" fill="#bfb0f4" opacity="0.95"/><rect x="96.5" y="549.9" width="2.0" height="2.0" fill="#e4e0f4" opacity="0.95"/><rect x="84.0" y="541.2" width="2.1" height="2.1" fill="#c9bcf6" opacity="0.95"/><rect x="114.4" y="554.3" width="2.1" height="2.1" fill="#d4caf8" opacity="0.95"/><rect x="82.2" y="546.4" width="1.4" height="1.4" fill="#d0d0d8" opacity="0.95"/><rect x="113.2" y="548.1" width="1.8" height="1.8" fill="#d0d0d8" opacity="0.95"/><rect x="72.4" y="546.8" width="2.1" height="2.1" fill="#d0d0d8" opacity="0.95"/><rect x="94.5" y="544.1" width="1.4" height="1.4" fill="#ffffff" opacity="0.95"/><rect x="77.0" y="547.5" width="1.6" height="1.6" fill="#bfb0f4" opacity="0.95"/><rect x="126.9" y="569.2" width="1.8" height="1.8" fill="#e4e0f4" opacity="0.95"/><rect x="111.5" y="561.1" width="1.6" height="1.6" fill="#d4caf8" opacity="0.95"/><rect x="91.0" y="549.3" width="2.0" height="2.0" fill="#ffffff" opacity="0.95"/><rect x="120.6" y="559.3" width="1.8" height="1.8" fill="#bfb0f4" opacity="0.95"/><rect x="116.0" y="556.6" width="1.9" height="1.9" fill="#d0d0d8" opacity="0.95"/><rect x="90.1" y="554.6" width="1.7" height="1.7" fill="#bfb0f4" opacity="0.95"/><rect x="70.9" y="544.8" width="1.4" height="1.4" fill="#bfb0f4" opacity="0.95"/><rect x="112.0" y="556.0" width="2.1" height="2.1" fill="#c9bcf6" opacity="0.95"/><rect x="107.8" y="561.3" width="2.0" height="2.0" fill="#ffffff" opacity="0.95"/><rect x="86.1" y="548.2" width="1.7" height="1.7" fill="#d0d0d8" opacity="0.95"/><rect x="131.9" y="566.3" width="1.7" height="1.7" fill="#d0d0d8" opacity="0.95"/><rect x="106.4" y="557.9" width="2.1" height="2.1" fill="#e4e0f4" opacity="0.95"/><rect x="95.2" y="543.4" width="1.8" height="1.8" fill="#bfb0f4" opacity="0.95"/><rect x="90.9" y="536.0" width="1.8" height="1.8" fill="#c9bcf6" opacity="0.95"/><rect x="88.5" y="530.3" width="2.0" height="2.0" fill="#d4caf8" opacity="0.95"/><rect x="82.6" y="533.9" width="1.6" height="1.6" fill="#ffffff" opacity="0.95"/><rect x="98.5" y="544.0" width="2.2" height="2.2" fill="#bfb0f4" opacity="0.95"/><rect x="82.4" y="534.0" width="1.5" height="1.5" fill="#bfb0f4" opacity="0.95"/><rect x="94.2" y="544.1" width="1.5" height="1.5" fill="#bfb0f4" opacity="0.95"/><rect x="101.4" y="542.4" width="2.0" height="2.0" fill="#e4e0f4" opacity="0.95"/><rect x="82.2" y="535.9" width="1.9" height="1.9" fill="#e4e0f4" opacity="0.95"/><rect x="97.9" y="544.8" width="1.7" height="1.7" fill="#d0d0d8" opacity="0.95"/><rect x="81.7" y="528.6" width="1.7" height="1.7" fill="#d0d0d8" opacity="0.95"/><rect x="88.2" y="547.1" width="1.7" height="1.7" fill="#d0d0d8" opacity="0.95"/><rect x="83.7" y="535.9" width="1.7" height="1.7" fill="#d0d0d8" opacity="0.95"/><rect x="85.8" y="531.0" width="1.8" height="1.8" fill="#d4caf8" opacity="0.95"/><rect x="91.6" y="538.0" width="1.5" height="1.5" fill="#bfb0f4" opacity="0.95"/><rect x="80.3" y="534.3" width="1.5" height="1.5" fill="#e4e0f4" opacity="0.95"/><rect x="97.3" y="543.0" width="1.6" height="1.6" fill="#d4caf8" opacity="0.95"/><rect x="79.7" y="534.2" width="2.1" height="2.1" fill="#d0d0d8" opacity="0.95"/><rect x="94.1" y="528.2" width="1.8" height="1.8" fill="#c9bcf6" opacity="0.95"/><rect x="82.4" y="526.5" width="2.0" height="2.0" fill="#ffffff" opacity="0.95"/><rect x="81.1" y="536.2" width="1.5" height="1.5" fill="#bfb0f4" opacity="0.95"/><rect x="87.6" y="541.7" width="1.7" height="1.7" fill="#ffffff" opacity="0.95"/><rect x="92.1" y="544.1" width="1.6" height="1.6" fill="#c9bcf6" opacity="0.95"/><rect x="88.2" y="536.2" width="1.9" height="1.9" fill="#ffffff" opacity="0.95"/><rect x="97.0" y="542.9" width="1.4" height="1.4" fill="#d4caf8" opacity="0.95"/><rect x="73.8" y="540.2" width="1.6" height="1.6" fill="#d0d0d8" opacity="0.95"/><rect x="101.9" y="541.3" width="2.0" height="2.0" fill="#ffffff" opacity="0.95"/><rect x="90.4" y="538.1" width="1.4" height="1.4" fill="#e4e0f4" opacity="0.95"/><rect x="91.9" y="545.5" width="1.4" height="1.4" fill="#d4caf8" opacity="0.95"/><rect x="87.8" y="539.1" width="2.0" height="2.0" fill="#d4caf8" opacity="0.95"/><rect x="136.0" y="536.0" width="2.0" height="2.0" fill="#b8a8f4"/><rect x="135.0" y="538.0" width="2.0" height="2.0" fill="#b8a8f4"/><rect x="127.0" y="545.0" width="2.0" height="2.0" fill="#b8a8f4"/><rect x="140.0" y="553.0" width="2.0" height="2.0" fill="#b8a8f4"/><rect x="140.0" y="556.0" width="2.0" height="2.0" fill="#b8a8f4"/><rect x="130.0" y="548.0" width="2.0" height="2.0" fill="#b8a8f4"/><rect x="138.0" y="565.0" width="2.0" height="2.0" fill="#b8a8f4"/><circle cx="135.5" cy="537" r="2.1" fill="#6a58ee"/></g><g clip-path="url(#cpS3)"><path d="M156,466 L163.3,457 L167,451 L176.7,446 L182,440 L190,437 L192,430 L196.7,424.5 L205,422.8 L211,419 L217.5,420.3 L223.3,422.8 L224,430 L222.5,437 L216.7,447 L210,451 L205,453.7 L198,461 L191.7,465.3 L180,478.7 L170,488 L160,497 L156,500 Z" fill="#fcf8f8"/><rect x="198.0" y="420.0" width="3.0" height="3.0" fill="#fcf8f8"/><rect x="200.5" y="421.5" width="3.0" height="3.0" fill="#fcf8f8"/><path d="M225,395 L279,395 L278,399 L264,410 L251,420.5 L243,424 L236,428 L230,424.5 L226.7,425.3 L225.5,410 Z" fill="#fcf8f8"/><rect x="251.1" y="398.1" width="1.4" height="1.4" fill="#4b556a"/><rect x="256.8" y="397.0" width="2.0" height="2.0" fill="#4b556a"/><rect x="237.5" y="397.8" width="2.1" height="2.1" fill="#4b556a"/><rect x="228.5" y="419.7" width="1.5" height="1.5" fill="#4b556a"/><rect x="238.7" y="407.0" width="2.2" height="2.2" fill="#4b556a"/><rect x="235.2" y="414.8" width="1.8" height="1.8" fill="#4b556a"/><rect x="227.7" y="408.4" width="2.3" height="2.3" fill="#4b556a"/><rect x="249.9" y="400.5" width="1.9" height="1.9" fill="#4b556a"/><rect x="248.0" y="397.7" width="2.3" height="2.3" fill="#4b556a"/><rect x="245.0" y="420.0" width="2.0" height="2.0" fill="#f0b8e4"/><rect x="249.0" y="417.5" width="2.0" height="2.0" fill="#f0b8e4"/><rect x="247.2" y="411.2" width="1.6" height="1.6" fill="#f4c89c"/><rect x="251.2" y="407.2" width="1.6" height="1.6" fill="#f4c89c"/><line x1="262.0" y1="396.5" x2="276.0" y2="402.0" stroke="#d8d8dc" stroke-width="0.6"/><line x1="268.0" y1="396.5" x2="282.0" y2="401.0" stroke="#d8d8dc" stroke-width="0.6"/><rect x="187.4" y="431.0" width="2.7" height="2.7" fill="#fcf8f8"/><rect x="186.5" y="433.7" width="1.8" height="1.8" fill="#fcf8f8"/><rect x="179.6" y="438.0" width="2.1" height="2.1" fill="#fcf8f8"/><rect x="179.8" y="440.2" width="2.3" height="2.3" fill="#fcf8f8"/><rect x="191.6" y="426.1" width="2.5" height="2.5" fill="#fcf8f8"/><rect x="191.9" y="429.6" width="2.6" height="2.6" fill="#fcf8f8"/><rect x="173.5" y="445.3" width="2.2" height="2.2" fill="#fcf8f8"/><rect x="181.7" y="437.5" width="1.9" height="1.9" fill="#fcf8f8"/><rect x="171.8" y="444.6" width="2.2" height="2.2" fill="#fcf8f8"/><rect x="193.0" y="426.6" width="2.5" height="2.5" fill="#fcf8f8"/><rect x="188.7" y="433.1" width="2.2" height="2.2" fill="#fcf8f8"/><rect x="183.3" y="436.6" width="2.6" height="2.6" fill="#fcf8f8"/><rect x="169.1" y="447.1" width="2.7" height="2.7" fill="#fcf8f8"/><rect x="168.2" y="446.3" width="1.9" height="1.9" fill="#fcf8f8"/><rect x="189.2" y="427.5" width="2.2" height="2.2" fill="#fcf8f8"/><rect x="175.6" y="441.7" width="1.8" height="1.8" fill="#fcf8f8"/><rect x="164.5" y="453.4" width="2.3" height="2.3" fill="#fcf8f8"/><rect x="179.1" y="440.6" width="2.5" height="2.5" fill="#fcf8f8"/><rect x="176.1" y="443.0" width="2.1" height="2.1" fill="#fcf8f8"/><rect x="158.6" y="455.2" width="2.4" height="2.4" fill="#fcf8f8"/><rect x="167.9" y="454.2" width="2.2" height="2.2" fill="#fcf8f8"/><rect x="189.8" y="427.3" width="2.8" height="2.8" fill="#fcf8f8"/><rect x="167.9" y="450.3" width="2.7" height="2.7" fill="#fcf8f8"/><rect x="165.9" y="449.9" width="2.7" height="2.7" fill="#fcf8f8"/><rect x="190.7" y="427.8" width="1.9" height="1.9" fill="#fcf8f8"/><rect x="172.6" y="444.7" width="2.4" height="2.4" fill="#fcf8f8"/><rect x="199.9" y="421.8" width="2.6" height="2.6" fill="#fcf8f8"/><rect x="204.5" y="421.8" width="2.6" height="2.6" fill="#fcf8f8"/><rect x="219.6" y="417.9" width="2.5" height="2.5" fill="#fcf8f8"/><rect x="203.3" y="420.2" width="2.7" height="2.7" fill="#fcf8f8"/><rect x="215.9" y="422.3" width="2.0" height="2.0" fill="#fcf8f8"/><rect x="211.3" y="422.4" width="2.0" height="2.0" fill="#fcf8f8"/><rect x="205.3" y="418.9" width="2.5" height="2.5" fill="#fcf8f8"/><rect x="196.0" y="422.0" width="2.5" height="2.5" fill="#fcf8f8"/><rect x="202.2" y="421.2" width="1.9" height="1.9" fill="#fcf8f8"/><rect x="210.0" y="419.9" width="2.2" height="2.2" fill="#fcf8f8"/><rect x="212.5" y="419.0" width="2.6" height="2.6" fill="#fcf8f8"/><rect x="220.3" y="419.6" width="2.6" height="2.6" fill="#fcf8f8"/><rect x="212.2" y="418.7" width="2.6" height="2.6" fill="#fcf8f8"/><rect x="199.3" y="421.6" width="2.2" height="2.2" fill="#fcf8f8"/><rect x="209.6" y="448.6" width="2.3" height="2.3" fill="#fcf8f8"/><rect x="206.3" y="451.2" width="2.1" height="2.1" fill="#fcf8f8"/><rect x="211.9" y="443.6" width="2.7" height="2.7" fill="#fcf8f8"/><rect x="212.6" y="445.0" width="2.5" height="2.5" fill="#fcf8f8"/><rect x="194.2" y="464.6" width="1.9" height="1.9" fill="#fcf8f8"/><rect x="195.5" y="457.9" width="2.5" height="2.5" fill="#fcf8f8"/><rect x="206.1" y="449.7" width="2.2" height="2.2" fill="#fcf8f8"/><rect x="198.5" y="453.8" width="2.7" height="2.7" fill="#fcf8f8"/><rect x="194.2" y="461.5" width="2.1" height="2.1" fill="#fcf8f8"/><rect x="218.8" y="440.0" width="2.0" height="2.0" fill="#fcf8f8"/><rect x="205.4" y="450.1" width="2.5" height="2.5" fill="#fcf8f8"/><rect x="217.7" y="440.8" width="2.7" height="2.7" fill="#fcf8f8"/><rect x="193.3" y="464.2" width="1.9" height="1.9" fill="#fcf8f8"/><rect x="205.1" y="447.9" width="1.8" height="1.8" fill="#fcf8f8"/><rect x="213.3" y="443.6" width="2.4" height="2.4" fill="#fcf8f8"/><rect x="215.3" y="440.5" width="2.0" height="2.0" fill="#fcf8f8"/><rect x="191.5" y="465.4" width="2.2" height="2.2" fill="#fcf8f8"/><rect x="218.7" y="443.2" width="2.0" height="2.0" fill="#fcf8f8"/><rect x="203.6" y="455.3" width="2.5" height="2.5" fill="#fcf8f8"/><rect x="214.2" y="442.7" width="2.6" height="2.6" fill="#fcf8f8"/><rect x="205.0" y="451.9" width="2.5" height="2.5" fill="#fcf8f8"/><rect x="207.2" y="445.6" width="2.7" height="2.7" fill="#fcf8f8"/><rect x="168.8" y="485.1" width="1.9" height="1.9" fill="#fcf8f8"/><rect x="173.4" y="481.0" width="2.0" height="2.0" fill="#fcf8f8"/><rect x="161.7" y="493.9" width="2.6" height="2.6" fill="#fcf8f8"/><rect x="178.7" y="476.2" width="2.0" height="2.0" fill="#fcf8f8"/><rect x="188.5" y="469.4" width="1.9" height="1.9" fill="#fcf8f8"/><rect x="172.5" y="482.5" width="2.1" height="2.1" fill="#fcf8f8"/><rect x="165.2" y="491.7" width="1.8" height="1.8" fill="#fcf8f8"/><rect x="187.1" y="468.8" width="2.8" height="2.8" fill="#fcf8f8"/><rect x="167.2" y="486.1" width="2.7" height="2.7" fill="#fcf8f8"/><rect x="163.7" y="496.1" width="2.2" height="2.2" fill="#fcf8f8"/><rect x="166.9" y="491.5" width="2.1" height="2.1" fill="#fcf8f8"/><rect x="178.2" y="477.8" width="2.4" height="2.4" fill="#fcf8f8"/><rect x="162.6" y="494.1" width="2.7" height="2.7" fill="#fcf8f8"/><rect x="176.1" y="482.6" width="2.2" height="2.2" fill="#fcf8f8"/><rect x="178.0" y="480.1" width="2.7" height="2.7" fill="#fcf8f8"/><rect x="168.8" y="487.7" width="2.5" height="2.5" fill="#fcf8f8"/><rect x="164.3" y="489.9" width="2.6" height="2.6" fill="#fcf8f8"/><rect x="173.1" y="479.4" width="2.4" height="2.4" fill="#fcf8f8"/><rect x="168.9" y="484.2" width="2.3" height="2.3" fill="#fcf8f8"/><rect x="174.2" y="482.3" width="2.4" height="2.4" fill="#fcf8f8"/><rect x="240.3" y="423.6" width="2.3" height="2.3" fill="#fcf8f8"/><rect x="264.5" y="407.1" width="2.4" height="2.4" fill="#fcf8f8"/><rect x="240.2" y="422.2" width="2.4" height="2.4" fill="#fcf8f8"/><rect x="271.7" y="397.8" width="2.4" height="2.4" fill="#fcf8f8"/><rect x="271.0" y="400.4" width="2.1" height="2.1" fill="#fcf8f8"/><rect x="238.5" y="425.3" width="2.2" height="2.2" fill="#fcf8f8"/><rect x="245.3" y="418.7" width="1.9" height="1.9" fill="#fcf8f8"/><rect x="260.8" y="413.4" width="2.5" height="2.5" fill="#fcf8f8"/><rect x="252.8" y="414.5" width="2.5" height="2.5" fill="#fcf8f8"/><rect x="251.5" y="413.3" width="2.2" height="2.2" fill="#fcf8f8"/><rect x="257.6" y="410.8" width="1.8" height="1.8" fill="#fcf8f8"/><rect x="257.5" y="412.0" width="2.5" height="2.5" fill="#fcf8f8"/><rect x="236.0" y="423.0" width="2.6" height="2.6" fill="#fcf8f8"/><rect x="255.1" y="412.7" width="2.1" height="2.1" fill="#fcf8f8"/><rect x="242.5" y="419.8" width="2.7" height="2.7" fill="#fcf8f8"/><rect x="263.7" y="403.8" width="2.2" height="2.2" fill="#fcf8f8"/><rect x="248.0" y="418.3" width="2.7" height="2.7" fill="#fcf8f8"/><rect x="266.4" y="402.5" width="2.3" height="2.3" fill="#fcf8f8"/><rect x="264.1" y="403.2" width="1.9" height="1.9" fill="#fcf8f8"/><rect x="260.6" y="407.3" width="2.1" height="2.1" fill="#fcf8f8"/><rect x="272.7" y="399.9" width="2.1" height="2.1" fill="#fcf8f8"/><rect x="273.0" y="402.3" width="2.7" height="2.7" fill="#fcf8f8"/><rect x="258.2" y="407.0" width="2.8" height="2.8" fill="#fcf8f8"/><rect x="249.4" y="416.4" width="2.6" height="2.6" fill="#fcf8f8"/><rect x="261.6" y="408.2" width="2.3" height="2.3" fill="#fcf8f8"/><rect x="255.6" y="413.4" width="2.1" height="2.1" fill="#fcf8f8"/><rect x="251.5" y="416.9" width="2.2" height="2.2" fill="#fcf8f8"/><rect x="255.7" y="417.0" width="2.2" height="2.2" fill="#fcf8f8"/><rect x="240.4" y="421.9" width="2.5" height="2.5" fill="#fcf8f8"/><rect x="251.1" y="414.6" width="2.7" height="2.7" fill="#fcf8f8"/><rect x="223.8" y="400.1" width="2.0" height="2.0" fill="#fcf8f8"/><rect x="225.1" y="401.4" width="2.1" height="2.1" fill="#fcf8f8"/><rect x="226.0" y="420.9" width="2.6" height="2.6" fill="#fcf8f8"/><rect x="224.6" y="397.3" width="2.3" height="2.3" fill="#fcf8f8"/><rect x="227.2" y="416.7" width="2.6" height="2.6" fill="#fcf8f8"/><rect x="225.0" y="417.6" width="2.5" height="2.5" fill="#fcf8f8"/><rect x="224.3" y="419.7" width="2.0" height="2.0" fill="#fcf8f8"/><rect x="224.9" y="404.7" width="2.7" height="2.7" fill="#fcf8f8"/><rect x="225.8" y="416.8" width="2.2" height="2.2" fill="#fcf8f8"/><rect x="224.7" y="413.6" width="1.9" height="1.9" fill="#fcf8f8"/><rect x="225.4" y="408.3" width="1.9" height="1.9" fill="#fcf8f8"/><rect x="226.6" y="419.3" width="2.5" height="2.5" fill="#fcf8f8"/><path d="M224.2,485.8 L230,478 L236.7,471.7 L248,462 L260,452.5 L271.7,449 L280,452 L288.3,455.8 L292.5,462 L290,468 L281.7,475 L270,482 L260,488.3 L243.3,499.2 L236,497.5 L228,493 Z" fill="#dcdcdc"/><path d="M237,472 L248,462.5 L260,453 L271.7,449.3 L281,452.5 L288.3,456 L292,462 L289.5,468 L281.7,474.5 L270,481.5 L259,488" fill="none" stroke="#f6c160" stroke-width="2.6" stroke-linejoin="round"/><path d="M262,462 L276,456 L285,459 L280,466 L268,474 L258,480" fill="none" stroke="#f6c160" stroke-width="2.2"/><path d="M270.5,449 L272.5,444.5" stroke="#f6c160" stroke-width="2.4"/><line x1="244.0" y1="469.0" x2="256.0" y2="461.0" stroke="#586078" stroke-width="1.1"/><line x1="247.0" y1="471.0" x2="259.0" y2="463.0" stroke="#586078" stroke-width="1.1"/><line x1="250.0" y1="473.0" x2="262.0" y2="465.0" stroke="#586078" stroke-width="1.1"/><line x1="254.0" y1="474.0" x2="266.0" y2="466.0" stroke="#586078" stroke-width="1.1"/><line x1="242.0" y1="466.0" x2="252.0" y2="459.0" stroke="#586078" stroke-width="1.1"/><line x1="234.4" y1="494.6" x2="240.6" y2="489.9" stroke="#dcdcdc" stroke-width="0.8"/><line x1="222.2" y1="492.2" x2="233.0" y2="483.9" stroke="#dcdcdc" stroke-width="0.8"/><line x1="227.1" y1="488.1" x2="233.7" y2="483.1" stroke="#dcdcdc" stroke-width="0.8"/><line x1="236.4" y1="500.3" x2="246.6" y2="492.6" stroke="#dcdcdc" stroke-width="0.8"/><line x1="238.1" y1="503.0" x2="248.6" y2="494.9" stroke="#dcdcdc" stroke-width="0.8"/><line x1="237.9" y1="500.6" x2="249.9" y2="491.6" stroke="#dcdcdc" stroke-width="0.8"/><line x1="230.2" y1="497.2" x2="240.2" y2="489.6" stroke="#dcdcdc" stroke-width="0.8"/><line x1="236.0" y1="500.2" x2="247.3" y2="491.6" stroke="#dcdcdc" stroke-width="0.8"/><line x1="226.1" y1="493.2" x2="237.0" y2="484.8" stroke="#dcdcdc" stroke-width="0.8"/><line x1="228.6" y1="495.3" x2="239.2" y2="487.2" stroke="#dcdcdc" stroke-width="0.8"/><line x1="238.9" y1="500.6" x2="248.3" y2="493.4" stroke="#dcdcdc" stroke-width="0.8"/><line x1="240.2" y1="500.9" x2="251.2" y2="492.5" stroke="#dcdcdc" stroke-width="0.8"/><line x1="238.8" y1="502.1" x2="249.0" y2="494.4" stroke="#dcdcdc" stroke-width="0.8"/><line x1="234.8" y1="499.7" x2="242.4" y2="493.9" stroke="#dcdcdc" stroke-width="0.8"/><line x1="234.4" y1="495.8" x2="241.8" y2="490.2" stroke="#dcdcdc" stroke-width="0.8"/><line x1="235.4" y1="499.5" x2="245.2" y2="492.1" stroke="#dcdcdc" stroke-width="0.8"/><line x1="234.0" y1="498.5" x2="246.2" y2="489.1" stroke="#dcdcdc" stroke-width="0.8"/><line x1="237.9" y1="501.9" x2="245.5" y2="496.2" stroke="#dcdcdc" stroke-width="0.8"/><line x1="230.8" y1="496.4" x2="242.1" y2="487.8" stroke="#dcdcdc" stroke-width="0.8"/><line x1="238.3" y1="501.1" x2="249.8" y2="492.3" stroke="#dcdcdc" stroke-width="0.8"/><line x1="231.5" y1="496.4" x2="242.5" y2="488.1" stroke="#dcdcdc" stroke-width="0.8"/><line x1="228.8" y1="495.4" x2="242.2" y2="485.2" stroke="#dcdcdc" stroke-width="0.8"/><line x1="239.7" y1="499.6" x2="250.3" y2="491.5" stroke="#dcdcdc" stroke-width="0.8"/><line x1="224.9" y1="488.2" x2="231.6" y2="483.1" stroke="#dcdcdc" stroke-width="0.8"/><line x1="227.2" y1="492.5" x2="237.1" y2="485.0" stroke="#dcdcdc" stroke-width="0.8"/><line x1="235.9" y1="499.2" x2="247.0" y2="490.8" stroke="#dcdcdc" stroke-width="0.8"/><line x1="234.1" y1="474.6" x2="240.7" y2="469.5" stroke="#dcdcdc" stroke-width="0.8"/><line x1="225.0" y1="486.0" x2="232.8" y2="480.0" stroke="#dcdcdc" stroke-width="0.8"/><line x1="225.4" y1="483.6" x2="238.0" y2="474.0" stroke="#dcdcdc" stroke-width="0.8"/><line x1="233.9" y1="477.4" x2="247.3" y2="467.2" stroke="#dcdcdc" stroke-width="0.8"/><line x1="222.1" y1="486.8" x2="228.8" y2="481.7" stroke="#dcdcdc" stroke-width="0.8"/><line x1="228.5" y1="479.6" x2="236.5" y2="473.5" stroke="#dcdcdc" stroke-width="0.8"/><line x1="221.5" y1="487.2" x2="229.8" y2="480.9" stroke="#dcdcdc" stroke-width="0.8"/><line x1="226.1" y1="479.8" x2="234.3" y2="473.5" stroke="#dcdcdc" stroke-width="0.8"/><line x1="231.6" y1="478.1" x2="241.3" y2="470.7" stroke="#dcdcdc" stroke-width="0.8"/><line x1="233.2" y1="476.6" x2="243.6" y2="468.7" stroke="#dcdcdc" stroke-width="0.8"/><line x1="228.8" y1="481.0" x2="237.3" y2="474.5" stroke="#dcdcdc" stroke-width="0.8"/><line x1="229.8" y1="478.9" x2="237.2" y2="473.2" stroke="#dcdcdc" stroke-width="0.8"/><line x1="236.0" y1="475.0" x2="242.5" y2="470.0" stroke="#dcdcdc" stroke-width="0.8"/><line x1="227.4" y1="482.5" x2="233.8" y2="477.7" stroke="#dcdcdc" stroke-width="0.8"/><line x1="251.7" y1="473.2" x2="259.6" y2="467.4" stroke="#c4c4c8" stroke-width="0.5" opacity="0.7"/><line x1="255.6" y1="473.6" x2="260.0" y2="470.3" stroke="#c4c4c8" stroke-width="0.5" opacity="0.7"/><line x1="264.2" y1="472.3" x2="271.6" y2="466.7" stroke="#c4c4c8" stroke-width="0.5" opacity="0.7"/><line x1="258.0" y1="467.0" x2="264.6" y2="462.0" stroke="#c4c4c8" stroke-width="0.5" opacity="0.7"/><line x1="253.9" y1="471.5" x2="260.4" y2="466.7" stroke="#c4c4c8" stroke-width="0.5" opacity="0.7"/><line x1="255.1" y1="473.7" x2="261.7" y2="468.8" stroke="#c4c4c8" stroke-width="0.5" opacity="0.7"/><line x1="234.0" y1="487.2" x2="241.0" y2="482.0" stroke="#c4c4c8" stroke-width="0.5" opacity="0.7"/><line x1="253.2" y1="472.3" x2="257.7" y2="468.9" stroke="#c4c4c8" stroke-width="0.5" opacity="0.7"/><line x1="258.0" y1="467.8" x2="262.3" y2="464.6" stroke="#c4c4c8" stroke-width="0.5" opacity="0.7"/><line x1="259.7" y1="477.4" x2="263.9" y2="474.2" stroke="#c4c4c8" stroke-width="0.5" opacity="0.7"/><line x1="242.1" y1="484.1" x2="247.7" y2="479.9" stroke="#c4c4c8" stroke-width="0.5" opacity="0.7"/><line x1="242.9" y1="487.8" x2="247.2" y2="484.5" stroke="#c4c4c8" stroke-width="0.5" opacity="0.7"/><line x1="261.0" y1="476.5" x2="268.0" y2="471.4" stroke="#c4c4c8" stroke-width="0.5" opacity="0.7"/><line x1="231.6" y1="485.6" x2="237.8" y2="481.0" stroke="#c4c4c8" stroke-width="0.5" opacity="0.7"/><line x1="238.0" y1="486.4" x2="242.3" y2="483.2" stroke="#c4c4c8" stroke-width="0.5" opacity="0.7"/><line x1="258.6" y1="466.4" x2="262.9" y2="463.2" stroke="#c4c4c8" stroke-width="0.5" opacity="0.7"/><line x1="248.1" y1="471.6" x2="254.3" y2="467.0" stroke="#c4c4c8" stroke-width="0.5" opacity="0.7"/><line x1="254.6" y1="472.9" x2="261.5" y2="467.8" stroke="#c4c4c8" stroke-width="0.5" opacity="0.7"/><line x1="253.6" y1="468.2" x2="260.2" y2="463.3" stroke="#c4c4c8" stroke-width="0.5" opacity="0.7"/><line x1="229.9" y1="484.0" x2="236.0" y2="479.5" stroke="#c4c4c8" stroke-width="0.5" opacity="0.7"/><line x1="247.7" y1="476.2" x2="255.2" y2="470.6" stroke="#c4c4c8" stroke-width="0.5" opacity="0.7"/><line x1="242.8" y1="481.0" x2="250.5" y2="475.2" stroke="#c4c4c8" stroke-width="0.5" opacity="0.7"/><line x1="255.0" y1="472.4" x2="260.8" y2="468.0" stroke="#c4c4c8" stroke-width="0.5" opacity="0.7"/><line x1="238.5" y1="482.3" x2="246.1" y2="476.6" stroke="#c4c4c8" stroke-width="0.5" opacity="0.7"/><line x1="237.8" y1="486.2" x2="242.8" y2="482.4" stroke="#c4c4c8" stroke-width="0.5" opacity="0.7"/><line x1="234.8" y1="489.9" x2="240.4" y2="485.7" stroke="#c4c4c8" stroke-width="0.5" opacity="0.7"/><line x1="239.8" y1="477.7" x2="246.6" y2="472.7" stroke="#c4c4c8" stroke-width="0.5" opacity="0.7"/><line x1="236.1" y1="490.0" x2="240.8" y2="486.5" stroke="#c4c4c8" stroke-width="0.5" opacity="0.7"/><line x1="240.5" y1="487.0" x2="248.4" y2="481.0" stroke="#c4c4c8" stroke-width="0.5" opacity="0.7"/><line x1="232.5" y1="485.3" x2="240.0" y2="479.7" stroke="#c4c4c8" stroke-width="0.5" opacity="0.7"/><line x1="257.7" y1="467.0" x2="265.2" y2="461.4" stroke="#c4c4c8" stroke-width="0.5" opacity="0.7"/><line x1="255.2" y1="462.2" x2="261.0" y2="457.8" stroke="#c4c4c8" stroke-width="0.5" opacity="0.7"/><line x1="250.4" y1="474.5" x2="255.7" y2="470.6" stroke="#c4c4c8" stroke-width="0.5" opacity="0.7"/><line x1="252.4" y1="476.4" x2="257.2" y2="472.8" stroke="#c4c4c8" stroke-width="0.5" opacity="0.7"/><line x1="263.1" y1="477.1" x2="268.7" y2="473.0" stroke="#c4c4c8" stroke-width="0.5" opacity="0.7"/><line x1="252.2" y1="471.8" x2="259.3" y2="466.5" stroke="#c4c4c8" stroke-width="0.5" opacity="0.7"/><line x1="261.0" y1="469.9" x2="265.4" y2="466.6" stroke="#c4c4c8" stroke-width="0.5" opacity="0.7"/><line x1="249.1" y1="473.9" x2="253.9" y2="470.3" stroke="#c4c4c8" stroke-width="0.5" opacity="0.7"/><line x1="259.3" y1="467.4" x2="264.7" y2="463.3" stroke="#c4c4c8" stroke-width="0.5" opacity="0.7"/><line x1="238.6" y1="479.4" x2="243.9" y2="475.4" stroke="#c4c4c8" stroke-width="0.5" opacity="0.7"/><rect x="251.0" y="459.0" width="2.1" height="2.1" fill="#f6c160"/><rect x="255.6" y="454.9" width="2.3" height="2.3" fill="#f6c160"/><rect x="253.9" y="455.6" width="2.8" height="2.8" fill="#f6c160"/><rect x="251.4" y="457.9" width="2.1" height="2.1" fill="#f6c160"/><rect x="238.0" y="469.2" width="2.7" height="2.7" fill="#f6c160"/><rect x="247.4" y="461.2" width="2.5" height="2.5" fill="#f6c160"/><rect x="242.3" y="465.1" width="2.3" height="2.3" fill="#f6c160"/><rect x="238.6" y="468.0" width="2.5" height="2.5" fill="#f6c160"/><rect x="243.1" y="464.3" width="2.6" height="2.6" fill="#f6c160"/><rect x="243.5" y="466.0" width="2.8" height="2.8" fill="#f6c160"/><rect x="243.9" y="462.6" width="2.9" height="2.9" fill="#f6c160"/><rect x="248.8" y="460.2" width="2.6" height="2.6" fill="#f6c160"/><rect x="253.3" y="456.9" width="2.7" height="2.7" fill="#f6c160"/><rect x="245.5" y="463.7" width="2.0" height="2.0" fill="#f6c160"/><rect x="283.2" y="455.0" width="2.6" height="2.6" fill="#f6c160"/><rect x="284.1" y="454.8" width="2.8" height="2.8" fill="#f6c160"/><rect x="284.7" y="455.4" width="2.7" height="2.7" fill="#f6c160"/><rect x="261.9" y="449.2" width="2.1" height="2.1" fill="#f6c160"/><rect x="280.9" y="452.4" width="2.4" height="2.4" fill="#f6c160"/><rect x="283.0" y="454.2" width="2.4" height="2.4" fill="#f6c160"/><rect x="267.1" y="452.4" width="2.9" height="2.9" fill="#f6c160"/><rect x="260.9" y="450.5" width="2.3" height="2.3" fill="#f6c160"/><rect x="270.5" y="452.2" width="2.0" height="2.0" fill="#f6c160"/><rect x="268.1" y="450.1" width="2.9" height="2.9" fill="#f6c160"/><rect x="263.5" y="450.4" width="2.7" height="2.7" fill="#f6c160"/><rect x="275.3" y="451.7" width="2.7" height="2.7" fill="#f6c160"/><rect x="275.6" y="472.8" width="2.7" height="2.7" fill="#f6c160"/><rect x="262.8" y="482.7" width="2.0" height="2.0" fill="#f6c160"/><rect x="288.3" y="463.5" width="2.5" height="2.5" fill="#f6c160"/><rect x="284.2" y="466.1" width="2.7" height="2.7" fill="#f6c160"/><rect x="282.3" y="466.6" width="2.4" height="2.4" fill="#f6c160"/><rect x="279.2" y="468.7" width="2.9" height="2.9" fill="#f6c160"/><rect x="275.6" y="472.7" width="2.3" height="2.3" fill="#f6c160"/><rect x="284.8" y="468.4" width="3.0" height="3.0" fill="#f6c160"/><rect x="263.9" y="484.6" width="2.8" height="2.8" fill="#f6c160"/><rect x="278.5" y="469.9" width="2.3" height="2.3" fill="#f6c160"/><rect x="288.0" y="462.9" width="2.3" height="2.3" fill="#f6c160"/><rect x="275.2" y="474.4" width="2.2" height="2.2" fill="#f6c160"/><rect x="287.1" y="464.3" width="2.1" height="2.1" fill="#f6c160"/><rect x="277.2" y="474.4" width="2.0" height="2.0" fill="#f6c160"/><rect x="266.9" y="479.7" width="2.2" height="2.2" fill="#f6c160"/><rect x="285.8" y="464.6" width="2.4" height="2.4" fill="#f6c160"/><path d="M260.8,535 L263,524 L265.8,515 L273.3,514.2 L284,521 L296.7,530 L295.5,539 L293.3,546.7 L286.7,550 L279,548 L271.7,545 L263.3,538.3 Z" fill="#f3f2fb"/><path d="M280,499 L283,494.5 L287,493 L300,499 L314,506 L312,513 L306,512 L293,507 L283,503 Z" fill="#f3f2fb"/><rect x="281.3" y="492.5" width="2.2" height="2.2" fill="#fafafe"/><rect x="266.9" y="507.3" width="2.2" height="2.2" fill="#fafafe"/><rect x="291.8" y="484.8" width="2.2" height="2.2" fill="#fafafe"/><rect x="288.9" y="486.8" width="2.2" height="2.2" fill="#fafafe"/><rect x="273.3" y="504.7" width="2.2" height="2.2" fill="#fafafe"/><rect x="281.3" y="493.3" width="2.2" height="2.2" fill="#fafafe"/><rect x="275.7" y="501.7" width="2.2" height="2.2" fill="#fafafe"/><rect x="299.0" y="475.8" width="2.2" height="2.2" fill="#fafafe"/><rect x="271.4" y="504.0" width="2.2" height="2.2" fill="#fafafe"/><rect x="279.5" y="495.6" width="2.2" height="2.2" fill="#fafafe"/><rect x="291.2" y="482.4" width="2.2" height="2.2" fill="#fafafe"/><rect x="273.8" y="502.1" width="2.2" height="2.2" fill="#fafafe"/><rect x="293.1" y="481.3" width="2.2" height="2.2" fill="#fafafe"/><rect x="285.6" y="488.2" width="2.2" height="2.2" fill="#fafafe"/><rect x="278.8" y="496.8" width="2.2" height="2.2" fill="#fafafe"/><rect x="274.0" y="500.7" width="2.2" height="2.2" fill="#fafafe"/><rect x="279.6" y="495.5" width="2.2" height="2.2" fill="#fafafe"/><rect x="297.1" y="478.4" width="2.2" height="2.2" fill="#fafafe"/><rect x="276.5" y="499.0" width="2.2" height="2.2" fill="#fafafe"/><rect x="291.7" y="483.9" width="2.2" height="2.2" fill="#fafafe"/><rect x="268.7" y="508.1" width="2.2" height="2.2" fill="#fafafe"/><rect x="293.8" y="481.4" width="2.2" height="2.2" fill="#fafafe"/><rect x="284.6" y="489.7" width="2.2" height="2.2" fill="#fafafe"/><rect x="273.6" y="503.0" width="2.2" height="2.2" fill="#fafafe"/><rect x="301.1" y="527.5" width="2.4" height="2.4" fill="#fafafe"/><rect x="301.4" y="523.8" width="2.4" height="2.4" fill="#fafafe"/><rect x="301.9" y="525.3" width="2.4" height="2.4" fill="#fafafe"/><rect x="302.4" y="527.4" width="2.4" height="2.4" fill="#fafafe"/><rect x="302.8" y="524.3" width="2.4" height="2.4" fill="#fafafe"/><rect x="301.7" y="516.3" width="2.4" height="2.4" fill="#fafafe"/><rect x="301.8" y="519.1" width="2.4" height="2.4" fill="#fafafe"/><rect x="303.1" y="517.9" width="2.4" height="2.4" fill="#fafafe"/><rect x="304.0" y="521.8" width="2.4" height="2.4" fill="#fafafe"/><rect x="303.8" y="519.9" width="2.4" height="2.4" fill="#fafafe"/><rect x="302.5" y="523.3" width="2.4" height="2.4" fill="#fafafe"/><rect x="303.7" y="518.9" width="2.4" height="2.4" fill="#fafafe"/><rect x="285.1" y="514.2" width="2.2" height="2.2" fill="#fafafe"/><rect x="287.2" y="515.6" width="2.2" height="2.2" fill="#fafafe"/><rect x="290.2" y="519.1" width="2.2" height="2.2" fill="#fafafe"/><rect x="292.8" y="517.7" width="2.2" height="2.2" fill="#fafafe"/><rect x="292.9" y="517.5" width="2.2" height="2.2" fill="#fafafe"/><rect x="282.0" y="513.8" width="2.2" height="2.2" fill="#fafafe"/><rect x="280.7" y="509.5" width="2.2" height="2.2" fill="#fafafe"/><rect x="288.3" y="516.6" width="2.2" height="2.2" fill="#fafafe"/><rect x="291.1" y="519.4" width="2.2" height="2.2" fill="#fafafe"/><rect x="285.8" y="513.3" width="2.2" height="2.2" fill="#fafafe"/><rect x="307.3" y="461.8" width="2.4" height="2.4" fill="#fafafe"/><rect x="308.3" y="459.3" width="2.4" height="2.4" fill="#fafafe"/><rect x="305.8" y="464.8" width="2.4" height="2.4" fill="#fafafe"/><rect x="302.8" y="474.3" width="2.4" height="2.4" fill="#fafafe"/><rect x="300.3" y="472.8" width="2.4" height="2.4" fill="#fafafe"/><rect x="320.8" y="478.8" width="2.4" height="2.4" fill="#fafafe"/><rect x="323.8" y="477.3" width="2.4" height="2.4" fill="#fafafe"/><rect x="326.8" y="479.8" width="2.4" height="2.4" fill="#fafafe"/><rect x="328.8" y="477.8" width="2.4" height="2.4" fill="#fafafe"/><rect x="317.3" y="482.8" width="2.4" height="2.4" fill="#fafafe"/><rect x="324.8" y="482.8" width="2.4" height="2.4" fill="#fafafe"/><rect x="300.8" y="495.8" width="2.4" height="2.4" fill="#fafafe"/><rect x="305.8" y="496.8" width="2.4" height="2.4" fill="#fafafe"/><rect x="313.3" y="509.3" width="2.4" height="2.4" fill="#fafafe"/><rect x="304.8" y="517.8" width="2.4" height="2.4" fill="#fafafe"/><rect x="296.0" y="477.5" width="2.0" height="2.0" fill="#b0a0f0"/><rect x="317.4" y="482.4" width="2.2" height="2.2" fill="#c0b8f4"/><rect x="283.5" y="494.0" width="2.0" height="2.0" fill="#a898f0"/><rect x="282.5" y="506.5" width="2.0" height="2.0" fill="#f0b860"/><rect x="303.5" y="479.5" width="2.0" height="2.0" fill="#f4d0a0"/><rect x="256.9" y="545.9" width="2.2" height="2.2" fill="#fafafe"/><rect x="258.9" y="548.4" width="2.2" height="2.2" fill="#fafafe"/><rect x="260.9" y="550.9" width="2.2" height="2.2" fill="#fafafe"/><rect x="260.4" y="555.4" width="2.2" height="2.2" fill="#fafafe"/><rect x="260.9" y="559.9" width="2.2" height="2.2" fill="#fafafe"/><line x1="266.0" y1="561.5" x2="272.5" y2="563.5" stroke="#e0d8e8" stroke-width="0.6"/><rect x="271.4" y="562.4" width="2.2" height="2.2" fill="#f0b0dc"/><rect x="263.5" y="552.5" width="2.0" height="2.0" fill="#f0b0dc"/><path d="M333,583 L333.5,574 L337,569 L344,561 L352,553 L358,546 L362,541 L367,532 L374,524 L374,549 L362,563 L348.5,583 Z" fill="#fcf8f8"/><path d="M338.3,530 L341,524 L350,521.5 L361.7,518.3 L374,515 L374,541 L366,540 L358.3,536.7 L348,534 Z" fill="#fcf8f8" opacity="0.95"/><rect x="344.9" y="525.4" width="2.2" height="2.2" fill="#4b556a"/><rect x="349.9" y="526.9" width="2.2" height="2.2" fill="#4b556a"/><rect x="354.9" y="523.4" width="2.2" height="2.2" fill="#4b556a"/><rect x="359.9" y="528.9" width="2.2" height="2.2" fill="#4b556a"/><rect x="351.9" y="530.9" width="2.2" height="2.2" fill="#4b556a"/><rect x="364.9" y="525.9" width="2.2" height="2.2" fill="#4b556a"/><rect x="356.0" y="552.0" width="2.4" height="2.4" fill="#fafafe"/><rect x="351.3" y="546.7" width="2.4" height="2.4" fill="#fafafe"/><rect x="354.5" y="548.6" width="2.4" height="2.4" fill="#fafafe"/><rect x="357.6" y="554.0" width="2.4" height="2.4" fill="#fafafe"/><rect x="347.7" y="556.5" width="2.4" height="2.4" fill="#fafafe"/><rect x="344.4" y="557.3" width="2.4" height="2.4" fill="#fafafe"/><rect x="344.0" y="558.0" width="2.4" height="2.4" fill="#fafafe"/><rect x="347.7" y="548.8" width="2.4" height="2.4" fill="#fafafe"/><rect x="343.3" y="556.9" width="2.4" height="2.4" fill="#fafafe"/><rect x="352.9" y="544.4" width="2.4" height="2.4" fill="#fafafe"/><rect x="334.8" y="553.4" width="2.4" height="2.4" fill="#fafafe"/><rect x="346.5" y="555.9" width="2.4" height="2.4" fill="#fafafe"/><rect x="346.4" y="549.3" width="2.4" height="2.4" fill="#fafafe"/><rect x="342.9" y="551.4" width="2.4" height="2.4" fill="#fafafe"/><rect x="346.0" y="553.5" width="2.4" height="2.4" fill="#fafafe"/><rect x="341.8" y="555.1" width="2.4" height="2.4" fill="#fafafe"/><rect x="349.8" y="547.6" width="2.4" height="2.4" fill="#fafafe"/><rect x="347.5" y="549.1" width="2.4" height="2.4" fill="#fafafe"/><rect x="340.4" y="550.4" width="2.4" height="2.4" fill="#fafafe"/><rect x="336.3" y="556.0" width="2.4" height="2.4" fill="#fafafe"/><rect x="344.9" y="551.2" width="2.4" height="2.4" fill="#fafafe"/><rect x="338.9" y="556.6" width="2.4" height="2.4" fill="#fafafe"/><rect x="352.1" y="553.9" width="2.4" height="2.4" fill="#fafafe"/><rect x="343.4" y="557.0" width="2.4" height="2.4" fill="#fafafe"/><rect x="336.4" y="553.9" width="2.4" height="2.4" fill="#fafafe"/><rect x="334.0" y="554.4" width="2.4" height="2.4" fill="#fafafe"/><rect x="350.7" y="551.5" width="2.4" height="2.4" fill="#fafafe"/><rect x="337.3" y="561.1" width="2.4" height="2.4" fill="#fafafe"/><rect x="341.9" y="552.1" width="2.4" height="2.4" fill="#fafafe"/><rect x="348.6" y="557.3" width="2.4" height="2.4" fill="#fafafe"/><rect x="369.9" y="489.2" width="2.4" height="2.4" fill="#fafafe"/><rect x="362.6" y="508.6" width="2.4" height="2.4" fill="#fafafe"/><rect x="364.5" y="506.7" width="2.4" height="2.4" fill="#fafafe"/><rect x="370.2" y="487.5" width="2.4" height="2.4" fill="#fafafe"/><rect x="360.7" y="509.7" width="2.4" height="2.4" fill="#fafafe"/><rect x="363.6" y="509.0" width="2.4" height="2.4" fill="#fafafe"/><rect x="366.7" y="498.8" width="2.4" height="2.4" fill="#fafafe"/><rect x="361.5" y="508.6" width="2.4" height="2.4" fill="#fafafe"/><rect x="369.8" y="491.8" width="2.4" height="2.4" fill="#fafafe"/><rect x="367.5" y="487.3" width="2.4" height="2.4" fill="#fafafe"/><rect x="367.9" y="505.2" width="2.4" height="2.4" fill="#fafafe"/><rect x="364.8" y="504.1" width="2.4" height="2.4" fill="#fafafe"/><rect x="370.8" y="485.6" width="2.4" height="2.4" fill="#fafafe"/><rect x="364.1" y="507.8" width="2.4" height="2.4" fill="#fafafe"/><rect x="365.1" y="497.3" width="2.4" height="2.4" fill="#fafafe"/><rect x="358.6" y="505.6" width="2.4" height="2.4" fill="#fafafe"/><rect x="365.5" y="488.7" width="2.4" height="2.4" fill="#fafafe"/><rect x="369.6" y="491.6" width="2.4" height="2.4" fill="#fafafe"/><rect x="362.8" y="502.5" width="2.4" height="2.4" fill="#fafafe"/><rect x="361.7" y="510.3" width="2.4" height="2.4" fill="#fafafe"/><rect x="366.7" y="498.8" width="2.4" height="2.4" fill="#fafafe"/><rect x="364.3" y="509.8" width="2.4" height="2.4" fill="#fafafe"/><rect x="368.6" y="500.0" width="2.4" height="2.4" fill="#fafafe"/><rect x="367.1" y="499.0" width="2.4" height="2.4" fill="#fafafe"/><rect x="366.8" y="488.5" width="2.4" height="2.4" fill="#fafafe"/><rect x="365.8" y="498.4" width="2.4" height="2.4" fill="#fafafe"/><rect x="371.5" y="500.3" width="2.2" height="2.2" fill="#f0ecfa"/><rect x="367.2" y="514.9" width="2.2" height="2.2" fill="#f0ecfa"/><rect x="368.8" y="503.4" width="2.2" height="2.2" fill="#f0ecfa"/><rect x="367.1" y="508.4" width="2.2" height="2.2" fill="#f0ecfa"/><rect x="365.1" y="517.7" width="2.2" height="2.2" fill="#f0ecfa"/><rect x="368.2" y="514.9" width="2.2" height="2.2" fill="#f0ecfa"/><rect x="366.6" y="514.8" width="2.2" height="2.2" fill="#f0ecfa"/><rect x="369.0" y="504.2" width="2.2" height="2.2" fill="#f0ecfa"/><rect x="366.5" y="515.3" width="2.2" height="2.2" fill="#f0ecfa"/><rect x="374.8" y="500.2" width="2.2" height="2.2" fill="#f0ecfa"/><rect x="365.7" y="516.2" width="2.2" height="2.2" fill="#f0ecfa"/><rect x="364.1" y="517.2" width="2.2" height="2.2" fill="#f0ecfa"/><rect x="370.1" y="504.9" width="2.2" height="2.2" fill="#f0ecfa"/><rect x="368.9" y="505.0" width="2.2" height="2.2" fill="#f0ecfa"/></g>
<g fill="#000" stroke="none">
<rect x="578.0" y="418.6" width="2.6" height="1.0"/>
<rect x="586.2" y="418.6" width="4.6" height="1.0"/>
<rect x="597.5" y="418.6" width="6.8" height="1.0"/>
<rect x="609.0" y="418.6" width="3.0" height="1.0"/>
<rect x="615.9" y="418.6" width="5.3" height="1.0"/>
<rect x="627.9" y="418.6" width="3.0" height="1.0"/>
<rect x="632.7" y="418.6" width="7.3" height="1.0"/>
<rect x="578.0" y="424.5" width="5.5" height="1.0"/>
<rect x="587.1" y="424.5" width="4.7" height="1.0"/>
<rect x="599.6" y="424.5" width="3.9" height="1.0"/>
<rect x="617.0" y="424.5" width="5.1" height="1.0"/>
<rect x="626.8" y="424.5" width="2.7" height="1.0"/>
<rect x="636.6" y="424.5" width="3.0" height="1.0"/>
<rect x="592.2" y="430.3" width="6.5" height="1.0"/>
<rect x="604.9" y="430.3" width="2.3" height="1.0"/>
<rect x="624.2" y="430.3" width="4.2" height="1.0"/>
<rect x="578.0" y="436.0" width="1.7" height="1.0"/>
<rect x="585.8" y="436.0" width="8.0" height="1.0"/>
<rect x="598.5" y="436.0" width="5.1" height="1.0"/>
<rect x="606.5" y="436.0" width="5.5" height="1.0"/>
<rect x="617.5" y="436.0" width="2.7" height="1.0"/>
<rect x="624.0" y="436.0" width="7.5" height="1.0"/>
<rect x="636.9" y="436.0" width="3.1" height="1.0"/>
<rect x="578.0" y="442.3" width="6.8" height="1.0"/>
<rect x="588.7" y="442.3" width="5.9" height="1.0"/>
<rect x="602.0" y="442.3" width="7.7" height="1.0"/>
<rect x="617.7" y="442.3" width="7.7" height="1.0"/>
<rect x="632.7" y="442.3" width="4.7" height="1.0"/>
<rect x="619.2" y="425.0" width="1.2" height="1.4"/>
<rect x="614.4" y="435.0" width="2.3" height="0.7"/>
<rect x="590.1" y="429.0" width="1.7" height="0.9"/>
<rect x="581.3" y="430.5" width="2.4" height="1.6"/>
<rect x="613.1" y="434.8" width="1.5" height="1.6"/>
<rect x="602.7" y="442.6" width="1.2" height="0.9"/>
<rect x="617.4" y="444.7" width="2.4" height="1.2"/>
<rect x="598.0" y="438.0" width="2.3" height="1.0"/>
<rect x="603.1" y="428.6" width="2.2" height="0.7"/>
<rect x="610.2" y="449.6" width="1.2" height="1.2"/>
<rect x="608.3" y="446.4" width="2.0" height="0.9"/>
<rect x="597.1" y="449.7" width="2.4" height="0.8"/>
<rect x="582.5" y="422.9" width="1.2" height="1.1"/>
<rect x="584.6" y="446.9" width="2.1" height="0.8"/>
<rect x="603.3" y="430.1" width="1.8" height="0.9"/>
<rect x="585.8" y="425.7" width="1.7" height="1.3"/>
<rect x="603.9" y="421.4" width="2.1" height="1.5"/>
<rect x="614.4" y="444.5" width="1.1" height="1.1"/>
<rect x="581.0" y="443.7" width="1.4" height="1.3"/>
<rect x="589.9" y="441.6" width="1.6" height="0.7"/>
<rect x="596.3" y="429.6" width="2.4" height="1.0"/>
<rect x="601.6" y="437.0" width="2.5" height="0.8"/>
<rect x="606.3" y="435.8" width="2.2" height="1.6"/>
<rect x="592.6" y="441.7" width="1.9" height="1.2"/>
<rect x="581.0" y="445.3" width="2.5" height="1.0"/>
<rect x="593.0" y="450.8" width="1.3" height="0.8"/>
<rect x="581.4" y="445.2" width="2.2" height="1.1"/>
<rect x="607.2" y="420.6" width="2.0" height="1.1"/>
<rect x="602.3" y="432.1" width="1.7" height="0.9"/>
<rect x="580.3" y="433.5" width="1.5" height="1.3"/>
<rect x="616.4" y="442.4" width="1.8" height="0.9"/>
<rect x="596.1" y="435.1" width="2.0" height="1.6"/>
<rect x="582.0" y="434.9" width="1.8" height="1.3"/>
<rect x="619.9" y="444.2" width="2.0" height="1.4"/>
<rect x="609.4" y="446.6" width="2.1" height="1.3"/>
<rect x="589.5" y="448.4" width="1.7" height="1.3"/>
<rect x="616.8" y="449.9" width="2.5" height="0.7"/>
<rect x="592.7" y="429.7" width="1.7" height="0.8"/>
<rect x="604.0" y="422.5" width="1.6" height="1.5"/>
<rect x="612.9" y="434.3" width="1.3" height="1.6"/>
<rect x="611.1" y="426.4" width="1.6" height="1.3"/>
<rect x="610.0" y="428.1" width="2.5" height="1.0"/>
<rect x="589.9" y="446.2" width="1.3" height="1.3"/>
<rect x="587.4" y="438.5" width="1.5" height="1.0"/>
<rect x="622.2" y="434.5" width="1.7" height="1.3"/>
<rect x="591.2" y="425.4" width="1.7" height="0.9"/>
<rect x="586.9" y="449.8" width="1.2" height="1.4"/>
<rect x="621.9" y="441.8" width="1.1" height="1.2"/>
<rect x="579.8" y="438.8" width="2.1" height="0.9"/>
<rect x="578.4" y="436.9" width="1.3" height="1.0"/>
<rect x="599.3" y="447.7" width="1.7" height="0.8"/>
<rect x="615.2" y="445.5" width="1.9" height="0.7"/>
<rect x="586.8" y="432.5" width="1.9" height="0.9"/>
<rect x="615.7" y="446.1" width="2.5" height="1.5"/>
<rect x="578.8" y="438.0" width="1.2" height="1.5"/>
<rect x="740.0" y="418.6" width="40.9" height="1.7"/>
<rect x="784.0" y="418.6" width="16.1" height="1.7"/>
<rect x="805.8" y="418.6" width="16.2" height="1.7"/>
<rect x="740.0" y="424.5" width="26.2" height="1.7"/>
<rect x="770.3" y="424.5" width="24.7" height="1.7"/>
<rect x="802.4" y="424.5" width="16.6" height="1.7"/>
<rect x="740.0" y="430.3" width="38.4" height="1.7"/>
<rect x="782.0" y="430.3" width="16.1" height="1.7"/>
<rect x="803.1" y="430.3" width="18.9" height="1.7"/>
<rect x="758.3" y="436.0" width="13.4" height="1.1"/>
<rect x="784.4" y="436.0" width="15.4" height="1.1"/>
<rect x="813.8" y="436.0" width="8.2" height="1.1"/>
<rect x="740.0" y="442.3" width="15.6" height="1.1"/>
<rect x="761.7" y="442.3" width="18.8" height="1.1"/>
<rect x="930.0" y="418.6" width="11.8" height="1.1"/>
<rect x="956.7" y="418.6" width="14.7" height="1.1"/>
<rect x="988.2" y="418.6" width="1.8" height="1.1"/>
<rect x="990.0" y="418.6" width="24.6" height="1.5"/>
<rect x="1015.7" y="418.6" width="11.7" height="1.5"/>
<rect x="1032.1" y="418.6" width="20.6" height="1.5"/>
<rect x="1054.7" y="418.6" width="3.3" height="1.5"/>
<rect x="1022.4" y="421.2" width="4.9" height="1.0"/>
<rect x="1032.5" y="421.2" width="3.4" height="1.0"/>
<rect x="1044.4" y="421.2" width="4.9" height="1.0"/>
<rect x="1051.6" y="421.2" width="4.4" height="1.0"/>
<rect x="930.0" y="424.5" width="11.7" height="1.1"/>
<rect x="947.1" y="424.5" width="15.1" height="1.1"/>
<rect x="978.7" y="424.5" width="9.7" height="1.1"/>
<rect x="990.0" y="424.5" width="13.3" height="1.5"/>
<rect x="1009.0" y="424.5" width="20.5" height="1.5"/>
<rect x="1032.0" y="424.5" width="13.5" height="1.5"/>
<rect x="1049.4" y="424.5" width="8.6" height="1.5"/>
<rect x="1020.2" y="427.1" width="9.9" height="1.0"/>
<rect x="930.0" y="430.3" width="9.3" height="1.1"/>
<rect x="948.5" y="430.3" width="13.7" height="1.1"/>
<rect x="990.0" y="430.3" width="19.2" height="1.5"/>
<rect x="1014.8" y="430.3" width="12.2" height="1.5"/>
<rect x="1032.7" y="430.3" width="21.4" height="1.5"/>
<rect x="1056.3" y="430.3" width="1.7" height="1.5"/>
<rect x="1002.6" y="432.9" width="8.6" height="1.0"/>
<rect x="1018.7" y="432.9" width="4.4" height="1.0"/>
<rect x="1036.5" y="432.9" width="7.5" height="1.0"/>
<rect x="1051.2" y="432.9" width="4.8" height="1.0"/>
<rect x="976.9" y="436.0" width="8.8" height="1.1"/>
<rect x="990.0" y="436.0" width="12.2" height="1.5"/>
<rect x="1007.0" y="436.0" width="12.0" height="1.5"/>
<rect x="1024.6" y="436.0" width="18.0" height="1.5"/>
<rect x="1046.7" y="436.0" width="8.9" height="1.5"/>
<rect x="1056.7" y="436.0" width="1.3" height="1.5"/>
<rect x="995.0" y="438.6" width="6.7" height="1.0"/>
<rect x="1004.4" y="438.6" width="5.9" height="1.0"/>
<rect x="1018.7" y="438.6" width="4.6" height="1.0"/>
<rect x="1027.0" y="438.6" width="2.4" height="1.0"/>
<rect x="1043.4" y="438.6" width="2.9" height="1.0"/>
<rect x="930.0" y="442.3" width="12.1" height="1.1"/>
<rect x="990.0" y="442.3" width="10.7" height="1.5"/>
<rect x="1007.1" y="442.3" width="11.9" height="1.5"/>
<rect x="1020.2" y="442.3" width="15.0" height="1.5"/>
<rect x="1040.8" y="442.3" width="16.8" height="1.5"/>
<rect x="1005.8" y="444.9" width="7.8" height="1.0"/>
<rect x="1036.4" y="444.9" width="4.3" height="1.0"/>
<rect x="930.0" y="448.0" width="7.0" height="1.1"/>
<rect x="950.3" y="448.0" width="8.8" height="1.1"/>
<rect x="968.3" y="448.0" width="14.2" height="1.1"/>
<rect x="990.0" y="448.0" width="17.8" height="1.5"/>
<rect x="1012.1" y="448.0" width="12.0" height="1.5"/>
<rect x="1028.1" y="448.0" width="10.7" height="1.5"/>
<rect x="1040.9" y="448.0" width="17.1" height="1.5"/>
<rect x="995.0" y="450.6" width="2.3" height="1.0"/>
<rect x="1014.7" y="450.6" width="7.2" height="1.0"/>
<rect x="1029.8" y="450.6" width="6.2" height="1.0"/>
<rect x="1054.6" y="450.6" width="1.4" height="1.0"/>
<rect x="1047.5" y="420.4" width="3.0" height="1.6"/>
<rect x="1036.0" y="450.7" width="3.4" height="1.0"/>
<rect x="1057.8" y="427.1" width="2.4" height="1.8"/>
<rect x="1001.4" y="429.6" width="2.9" height="1.1"/>
<rect x="1008.2" y="444.4" width="2.8" height="1.5"/>
<rect x="1043.7" y="447.3" width="3.4" height="1.6"/>
<rect x="1056.5" y="433.5" width="3.0" height="1.3"/>
<rect x="1055.9" y="439.2" width="2.5" height="1.5"/>
<rect x="1010.1" y="419.8" width="2.4" height="0.9"/>
<rect x="990.3" y="418.4" width="2.5" height="1.6"/>
<rect x="993.3" y="438.6" width="1.8" height="1.3"/>
<rect x="1010.1" y="431.5" width="3.0" height="1.2"/>
<rect x="1016.6" y="442.0" width="1.8" height="1.1"/>
<rect x="1037.7" y="445.9" width="3.6" height="1.1"/>
<rect x="1032.5" y="426.6" width="3.0" height="1.6"/>
<rect x="999.2" y="427.8" width="3.5" height="1.2"/>
<rect x="1033.0" y="445.3" width="2.2" height="1.6"/>
<rect x="990.2" y="427.6" width="1.9" height="1.1"/>
<rect x="1004.5" y="415.9" width="3.2" height="1.0"/>
<rect x="1029.0" y="435.5" width="3.3" height="1.6"/>
<rect x="1032.3" y="421.2" width="3.1" height="0.9"/>
<rect x="1053.1" y="426.4" width="2.1" height="1.0"/>
<rect x="1016.9" y="444.3" width="3.3" height="1.5"/>
<rect x="1039.6" y="424.0" width="2.2" height="1.1"/>
<rect x="1019.5" y="447.4" width="3.6" height="0.9"/>
<rect x="1055.6" y="449.0" width="2.5" height="1.5"/>
<rect x="1043.3" y="421.9" width="2.8" height="1.8"/>
<rect x="1049.9" y="448.7" width="1.8" height="1.5"/>
<rect x="1023.1" y="448.6" width="1.9" height="1.3"/>
<rect x="998.2" y="444.8" width="3.0" height="0.8"/>
<rect x="1011.1" y="420.2" width="2.9" height="1.4"/>
<rect x="994.3" y="450.2" width="3.5" height="1.2"/>
<rect x="1029.0" y="428.4" width="2.8" height="1.2"/>
<rect x="1020.0" y="442.7" width="2.0" height="1.1"/>
<rect x="1041.9" y="423.3" width="1.7" height="1.7"/>
<rect x="1000.8" y="430.2" width="2.2" height="1.1"/>
<rect x="1014.0" y="434.9" width="1.8" height="1.3"/>
<rect x="993.5" y="417.9" width="2.0" height="1.0"/>
<rect x="1013.2" y="425.8" width="3.3" height="1.5"/>
<rect x="1022.2" y="443.5" width="3.0" height="1.1"/>
<rect x="1031.9" y="442.6" width="2.7" height="1.6"/>
<rect x="1033.0" y="449.3" width="2.1" height="1.5"/>
<rect x="1056.4" y="434.5" width="3.4" height="0.9"/>
<rect x="1039.2" y="424.8" width="3.1" height="1.2"/>
<rect x="1026.4" y="424.2" width="2.1" height="1.7"/>
<rect x="1033.7" y="438.3" width="1.8" height="1.1"/>
<rect x="1055.8" y="422.5" width="2.7" height="1.5"/>
<rect x="1024.7" y="435.5" width="3.5" height="1.6"/>
<rect x="1006.1" y="430.9" width="2.4" height="1.5"/>
<rect x="1035.9" y="424.7" width="3.0" height="1.2"/>
<rect x="991.0" y="425.8" width="2.4" height="1.0"/>
<rect x="1035.6" y="451.7" width="3.5" height="1.4"/>
<rect x="1048.3" y="433.2" width="2.8" height="1.7"/>
<rect x="994.1" y="428.4" width="2.3" height="1.1"/>
<rect x="1019.1" y="417.1" width="3.0" height="1.8"/>
<rect x="1005.9" y="421.9" width="2.3" height="1.6"/>
<rect x="1005.4" y="443.5" width="1.9" height="1.4"/>
<rect x="1039.0" y="439.9" width="1.8" height="1.8"/>
<rect x="1047.7" y="432.8" width="3.3" height="1.4"/>
<rect x="1001.5" y="429.7" width="3.2" height="1.3"/>
<rect x="992.8" y="421.1" width="2.0" height="1.4"/>
<rect x="1033.8" y="431.6" width="2.4" height="1.8"/>
<rect x="1013.3" y="439.9" width="2.0" height="1.3"/>
<rect x="1002.2" y="419.2" width="2.3" height="0.9"/>
<rect x="1015.9" y="439.2" width="2.7" height="1.6"/>
<rect x="1022.5" y="418.1" width="3.1" height="1.2"/>
<rect x="1041.1" y="451.1" width="2.6" height="1.1"/>
<rect x="1014.3" y="433.4" width="2.2" height="0.9"/>
<rect x="1017.1" y="439.3" width="3.2" height="1.6"/>
<rect x="1050.1" y="444.6" width="2.4" height="1.4"/>
<rect x="993.7" y="444.4" width="3.0" height="1.1"/>
<rect x="1022.1" y="425.1" width="3.2" height="1.2"/>
<rect x="1043.1" y="449.2" width="3.2" height="1.2"/>
<rect x="1013.3" y="450.0" width="3.4" height="1.0"/>
<rect x="1014.6" y="444.2" width="3.1" height="1.1"/>
<rect x="1020.3" y="450.6" width="1.8" height="1.1"/>
<rect x="1035.2" y="448.6" width="3.5" height="1.3"/>
<rect x="1043.7" y="451.0" width="2.3" height="1.0"/>
<rect x="1007.7" y="444.0" width="1.9" height="1.3"/>
<rect x="1053.2" y="422.4" width="2.9" height="1.3"/>
<rect x="1055.7" y="434.0" width="2.6" height="1.7"/>
<rect x="1041.2" y="420.4" width="3.2" height="1.2"/>
<rect x="1055.9" y="450.6" width="2.6" height="1.2"/>
<rect x="1005.4" y="425.2" width="2.0" height="1.0"/>
<rect x="1039.7" y="416.9" width="2.8" height="1.4"/>
<rect x="1040.0" y="436.0" width="3.5" height="1.1"/>
<rect x="996.3" y="436.6" width="2.1" height="1.8"/>
<rect x="1052.7" y="440.4" width="3.3" height="1.0"/>
<rect x="1023.0" y="429.2" width="2.3" height="1.2"/>
<rect x="1022.5" y="439.2" width="1.7" height="1.3"/>
<rect x="998.7" y="450.8" width="2.7" height="1.4"/>
<rect x="1011.4" y="441.1" width="3.0" height="1.7"/>
<rect x="1029.5" y="425.0" width="2.9" height="0.9"/>
<rect x="1040.6" y="426.3" width="3.0" height="0.9"/>
<rect x="1030.6" y="421.3" width="1.7" height="1.1"/>
<rect x="1047.7" y="429.4" width="2.6" height="1.6"/>
<rect x="1056.5" y="424.6" width="3.0" height="1.6"/>
<rect x="1044.0" y="427.8" width="2.5" height="1.6"/>
<rect x="1007.1" y="433.0" width="2.9" height="1.7"/>
<rect x="1006.6" y="439.6" width="2.0" height="1.0"/>
<rect x="1022.4" y="439.0" width="2.9" height="1.7"/>
<rect x="1001.2" y="434.6" width="2.6" height="1.1"/>
<rect x="1052.4" y="420.3" width="2.1" height="0.8"/>
<rect x="1033.8" y="439.3" width="2.0" height="1.7"/>
<rect x="1033.2" y="422.5" width="3.5" height="1.7"/>
<rect x="1011.3" y="447.0" width="1.9" height="1.1"/>
<rect x="1018.5" y="450.3" width="2.2" height="1.2"/>
<rect x="1004.1" y="445.3" width="2.0" height="1.6"/>
<rect x="1013.2" y="435.3" width="3.4" height="1.1"/>
<rect x="1025.9" y="438.5" width="2.8" height="1.2"/>
<rect x="1033.9" y="426.6" width="1.9" height="0.8"/>
<rect x="1031.2" y="436.2" width="3.2" height="1.0"/>
<rect x="1035.8" y="431.8" width="2.7" height="1.6"/>
<rect x="1025.3" y="431.1" width="2.9" height="0.9"/>
<rect x="1049.3" y="434.1" width="1.7" height="1.3"/>
<rect x="1054.3" y="451.2" width="2.5" height="1.1"/>
<rect x="1053.7" y="425.5" width="1.6" height="1.0"/>
<rect x="1022.0" y="439.9" width="1.7" height="1.1"/>
<rect x="1039.5" y="427.7" width="2.0" height="1.5"/>
<rect x="1019.7" y="440.7" width="2.6" height="1.6"/>
<rect x="1024.8" y="451.1" width="3.2" height="1.5"/>
<rect x="1023.3" y="437.6" width="2.4" height="0.9"/>
<rect x="1050.2" y="444.9" width="3.1" height="1.7"/>
<rect x="1027.5" y="451.8" width="2.5" height="1.8"/>
<rect x="995.5" y="429.0" width="2.7" height="1.6"/>
<rect x="1025.4" y="444.2" width="2.3" height="1.5"/>
<rect x="1044.2" y="437.2" width="1.6" height="1.5"/>
<rect x="990.0" y="426.2" width="1.8" height="1.6"/>
<rect x="1001.4" y="441.6" width="1.7" height="1.0"/>
<rect x="1037.3" y="449.2" width="1.7" height="1.4"/>
<rect x="1017.0" y="438.0" width="1.8" height="0.8"/>
<rect x="995.4" y="448.0" width="2.6" height="1.4"/>
<rect x="999.1" y="440.4" width="3.4" height="1.0"/>
<rect x="1043.1" y="446.4" width="3.6" height="1.4"/>
<rect x="1033.9" y="427.8" width="3.2" height="1.1"/>
<rect x="1032.4" y="438.2" width="3.6" height="1.6"/>
<rect x="996.5" y="421.6" width="2.3" height="1.2"/>
<rect x="1038.7" y="424.6" width="2.7" height="1.3"/>
<rect x="1010.8" y="438.8" width="2.5" height="1.8"/>
<rect x="998.8" y="448.3" width="2.9" height="1.3"/>
<rect x="995.3" y="438.9" width="3.2" height="1.1"/>
<rect x="1038.5" y="434.7" width="1.8" height="1.7"/>
<rect x="1011.2" y="432.8" width="3.1" height="1.7"/>
<rect x="1048.1" y="428.6" width="3.3" height="1.0"/>
<rect x="1027.5" y="431.0" width="3.3" height="1.5"/>
<rect x="1034.8" y="445.0" width="2.3" height="1.2"/>
<rect x="997.0" y="428.0" width="2.0" height="1.5"/>
<rect x="998.8" y="448.9" width="2.8" height="1.2"/>
<rect x="998.1" y="431.5" width="2.7" height="0.9"/>
<rect x="1056.4" y="428.4" width="2.5" height="1.1"/>
<rect x="1015.4" y="425.2" width="3.3" height="0.9"/>
<rect x="1014.8" y="437.1" width="2.6" height="1.1"/>
<rect x="1022.9" y="417.3" width="2.2" height="1.2"/>
<rect x="1042.1" y="430.9" width="2.4" height="1.5"/>
<rect x="1008.8" y="435.4" width="2.0" height="1.4"/>
<rect x="1026.7" y="439.2" width="3.3" height="1.6"/>
<rect x="1057.2" y="423.6" width="3.5" height="1.2"/>
<rect x="1014.9" y="431.8" width="3.4" height="1.8"/>
<rect x="1044.7" y="426.1" width="1.8" height="1.0"/>
<rect x="1035.7" y="441.0" width="1.7" height="0.8"/>
<rect x="1057.7" y="427.5" width="1.7" height="1.3"/>
<rect x="996.6" y="445.2" width="2.7" height="1.4"/>
<rect x="1053.0" y="419.6" width="2.0" height="1.6"/>
<rect x="1031.3" y="431.2" width="2.3" height="1.4"/>
<rect x="1054.2" y="450.1" width="3.4" height="1.8"/>
<rect x="999.0" y="416.0" width="3.3" height="1.0"/>
<rect x="1025.5" y="432.3" width="3.5" height="1.2"/>
<rect x="999.2" y="422.6" width="3.4" height="1.6"/>
<rect x="999.5" y="450.6" width="2.3" height="1.5"/>
<rect x="1028.4" y="446.7" width="2.6" height="0.8"/>
<rect x="1003.9" y="399.9" width="1.1" height="1.4"/>
<rect x="1014.2" y="405.9" width="1.0" height="0.9"/>
<rect x="996.2" y="403.9" width="1.2" height="1.4"/>
<rect x="1028.5" y="409.2" width="1.2" height="1.0"/>
<rect x="1046.1" y="404.7" width="0.8" height="1.3"/>
<rect x="1033.0" y="403.4" width="0.9" height="1.0"/>
<rect x="994.3" y="399.6" width="0.8" height="0.9"/>
<rect x="1031.0" y="401.1" width="1.3" height="1.3"/>
<rect x="1026.6" y="404.0" width="1.4" height="1.5"/>
<rect x="1019.8" y="397.7" width="0.8" height="1.2"/>
<rect x="1031.5" y="407.4" width="0.7" height="1.2"/>
<rect x="1015.2" y="405.0" width="0.9" height="0.8"/>
<rect x="1029.6" y="404.5" width="1.6" height="0.7"/>
<rect x="1021.5" y="397.5" width="1.2" height="1.0"/>
<rect x="1043.8" y="402.7" width="1.1" height="1.1"/>
<rect x="1029.6" y="402.3" width="1.5" height="1.3"/>
<rect x="1011.6" y="401.0" width="1.2" height="0.8"/>
<rect x="1024.1" y="409.6" width="0.9" height="0.8"/>
<rect x="1021.3" y="397.9" width="1.4" height="1.1"/>
<rect x="1031.7" y="402.4" width="1.2" height="1.1"/>
<rect x="1025.5" y="400.9" width="1.2" height="1.1"/>
<rect x="1018.3" y="400.9" width="1.2" height="1.6"/>
<rect x="1047.4" y="413.6" width="1.6" height="1.1"/>
<rect x="1035.3" y="407.4" width="1.6" height="0.7"/>
<rect x="1024.3" y="393.6" width="0.8" height="1.2"/>
<rect x="1027.0" y="406.2" width="1.2" height="1.0"/>
<rect x="1016.7" y="397.8" width="0.9" height="1.5"/>
<rect x="1043.8" y="404.4" width="1.0" height="1.5"/>
<rect x="1014.5" y="399.9" width="0.9" height="1.5"/>
<rect x="1041.5" y="392.1" width="1.2" height="1.5"/>
<rect x="1036.9" y="398.5" width="1.0" height="1.2"/>
<rect x="1012.9" y="413.2" width="1.2" height="1.5"/>
<rect x="1038.3" y="397.7" width="0.9" height="1.0"/>
<rect x="1032.5" y="406.8" width="0.8" height="1.0"/>
<rect x="1025.5" y="401.1" width="1.5" height="1.5"/>
<rect x="1025.1" y="399.6" width="1.0" height="1.1"/>
<rect x="1005.6" y="394.7" width="0.7" height="0.8"/>
<rect x="1025.0" y="402.8" width="1.5" height="0.9"/>
<rect x="1036.3" y="403.0" width="1.2" height="1.4"/>
<rect x="1029.1" y="398.4" width="1.1" height="1.4"/>
<rect x="1023.6" y="409.1" width="1.5" height="1.5"/>
<rect x="1028.7" y="399.1" width="1.0" height="0.8"/>
<rect x="1025.7" y="402.4" width="0.9" height="0.7"/>
<rect x="989.1" y="409.2" width="0.8" height="0.9"/>
<rect x="1022.0" y="413.3" width="1.0" height="0.9"/>
<rect x="1015.5" y="392.0" width="0.8" height="0.8"/>
<rect x="1002.5" y="411.7" width="0.8" height="0.8"/>
<rect x="1012.6" y="396.0" width="1.1" height="0.7"/>
<rect x="1019.2" y="403.1" width="0.8" height="0.8"/>
<rect x="1028.7" y="402.9" width="1.1" height="1.4"/>
<rect x="1027.3" y="409.7" width="1.4" height="1.2"/>
<rect x="1028.7" y="411.0" width="1.6" height="1.4"/>
<rect x="1026.3" y="403.7" width="0.8" height="1.2"/>
<rect x="1052.1" y="405.2" width="1.0" height="1.2"/>
<rect x="1032.3" y="399.6" width="1.4" height="0.8"/>
<rect x="1007.3" y="407.3" width="1.1" height="0.9"/>
<rect x="1030.5" y="399.6" width="1.5" height="1.0"/>
<rect x="1026.6" y="401.3" width="1.3" height="1.6"/>
<rect x="1016.1" y="399.5" width="1.6" height="1.6"/>
<rect x="1027.4" y="400.2" width="0.8" height="1.3"/>
<rect x="1026.6" y="405.6" width="1.2" height="1.5"/>
<rect x="1021.3" y="415.0" width="1.6" height="1.5"/>
<rect x="1029.2" y="405.6" width="1.6" height="1.6"/>
<rect x="1027.3" y="407.3" width="1.3" height="0.8"/>
<rect x="1029.2" y="406.2" width="1.2" height="1.0"/>
<rect x="1027.5" y="401.1" width="1.5" height="1.4"/>
<rect x="1013.4" y="409.8" width="1.3" height="0.8"/>
<rect x="1034.8" y="401.3" width="1.2" height="1.5"/>
<rect x="1032.6" y="404.6" width="0.7" height="1.4"/>
<rect x="1027.4" y="413.4" width="1.3" height="1.6"/>
<rect x="1025.0" y="403.0" width="8.0" height="2.2"/>
<rect x="1027.0" y="405.2" width="5.0" height="1.6"/>
<rect x="940.8" y="430.9" width="2.4" height="1.1"/>
<rect x="940.5" y="440.3" width="2.4" height="1.1"/>
<rect x="952.9" y="420.8" width="2.0" height="1.4"/>
<rect x="951.3" y="450.3" width="1.9" height="1.1"/>
<rect x="976.7" y="448.8" width="2.5" height="1.1"/>
<rect x="957.1" y="420.7" width="2.1" height="1.4"/>
<rect x="941.4" y="427.4" width="1.5" height="1.1"/>
<rect x="958.9" y="451.6" width="2.3" height="1.4"/>
<rect x="942.0" y="431.8" width="2.3" height="0.9"/>
<rect x="964.3" y="438.5" width="1.5" height="0.9"/>
<rect x="977.0" y="421.8" width="2.2" height="1.1"/>
<rect x="953.4" y="447.5" width="1.9" height="1.4"/>
<rect x="979.2" y="436.0" width="1.6" height="1.0"/>
<rect x="987.3" y="425.5" width="2.2" height="0.9"/>
<rect x="973.9" y="440.8" width="2.6" height="1.2"/>
<rect x="936.6" y="444.7" width="2.2" height="1.5"/>
<rect x="961.2" y="427.7" width="2.0" height="1.2"/>
<rect x="971.9" y="438.8" width="2.5" height="1.2"/>
<rect x="942.3" y="446.9" width="2.3" height="0.9"/>
<rect x="957.6" y="446.6" width="2.2" height="0.9"/>
<rect x="981.9" y="442.3" width="1.7" height="1.3"/>
<rect x="981.8" y="436.7" width="2.6" height="1.2"/>
<rect x="930.7" y="439.7" width="2.5" height="1.4"/>
<rect x="975.3" y="449.9" width="2.5" height="1.1"/>
<rect x="933.6" y="422.0" width="1.5" height="1.4"/>
<rect x="978.4" y="448.6" width="2.4" height="1.1"/>
<rect x="963.8" y="416.9" width="1.6" height="1.1"/>
<rect x="933.2" y="427.5" width="2.1" height="0.9"/>
<rect x="940.7" y="419.1" width="2.0" height="1.4"/>
<rect x="956.8" y="441.4" width="2.3" height="1.4"/>
<rect x="977.8" y="434.0" width="1.5" height="0.9"/>
<rect x="946.7" y="428.1" width="2.2" height="1.1"/>
<rect x="947.3" y="422.0" width="2.4" height="1.5"/>
<rect x="972.1" y="421.1" width="2.3" height="1.4"/>
<rect x="962.3" y="438.8" width="2.5" height="1.1"/>
<rect x="972.4" y="422.1" width="2.5" height="1.2"/>
<rect x="941.5" y="438.5" width="2.5" height="1.1"/>
<rect x="948.7" y="441.6" width="2.7" height="1.5"/>
<rect x="933.0" y="427.5" width="17.0" height="2.6"/>
<rect x="981.0" y="416.5" width="6.0" height="2.4"/>
<rect x="998.0" y="417.5" width="8.0" height="2.0"/>
<rect x="945.8" y="410.8" width="1.1" height="0.9"/>
<rect x="960.9" y="408.0" width="1.1" height="1.4"/>
<rect x="961.6" y="417.9" width="0.9" height="0.9"/>
<rect x="930.1" y="413.9" width="1.0" height="1.0"/>
<rect x="966.8" y="417.8" width="1.3" height="1.5"/>
<rect x="985.6" y="411.4" width="1.0" height="1.3"/>
<rect x="939.9" y="405.0" width="1.1" height="1.3"/>
<rect x="966.5" y="409.7" width="0.9" height="0.9"/>
<rect x="964.4" y="410.9" width="1.2" height="1.3"/>
<rect x="962.7" y="416.2" width="1.4" height="1.2"/>
<rect x="577.0" y="451.0" width="482.5" height="3.4"/>
<rect x="603.0" y="448.5" width="135.0" height="3.0"/>
<rect x="736.0" y="446.5" width="92.0" height="5.0"/>
<rect x="755.0" y="445.0" width="72.0" height="3.0"/>
<rect x="826.0" y="449.0" width="105.0" height="3.0"/>
<path d="M674,409 L680,406 L690,404 L703,402.5 L715,402 L727,403 L731,407 L730,411 L723,415 L712,417 L700,418.5 L688,417 L678,414 Z" />
<rect x="660.0" y="417.0" width="62.0" height="3.0"/>
<rect x="650.0" y="420.0" width="70.0" height="3.2"/>
<rect x="640.0" y="423.5" width="78.0" height="3.0"/>
<rect x="646.0" y="426.5" width="70.0" height="3.0"/>
<rect x="628.0" y="430.0" width="90.0" height="3.0"/>
<rect x="636.0" y="433.0" width="82.0" height="2.8"/>
<rect x="622.0" y="436.5" width="98.0" height="3.0"/>
<rect x="630.0" y="439.5" width="92.0" height="3.0"/>
<rect x="614.0" y="442.5" width="108.0" height="3.0"/>
<rect x="618.0" y="445.5" width="106.0" height="3.0"/>
<rect x="604.0" y="448.0" width="130.0" height="3.5"/>
<path d="M664,418 L708,416.5 L712,428 L716,440 L720,452 L632,452 L646,436 Z" />
<rect x="708.0" y="418.3" width="40.0" height="1.8"/>
<rect x="712.0" y="424.2" width="26.0" height="2.0"/>
<rect x="714.0" y="430.0" width="34.0" height="1.8"/>
<rect x="716.0" y="435.8" width="22.0" height="2.0"/>
<rect x="718.0" y="441.8" width="30.0" height="2.0"/>
<rect x="716.0" y="421.0" width="10.0" height="2.2"/>
<rect x="718.0" y="433.0" width="8.0" height="2.0"/>
<rect x="720.0" y="445.0" width="18.0" height="2.4"/>
<rect x="714.4" y="432.1" width="1.8" height="1.0"/>
<rect x="728.8" y="429.9" width="1.3" height="1.3"/>
<rect x="712.9" y="416.2" width="1.3" height="1.5"/>
<rect x="732.2" y="444.2" width="2.4" height="1.1"/>
<rect x="725.5" y="423.7" width="1.7" height="1.2"/>
<rect x="705.4" y="418.0" width="3.2" height="0.9"/>
<rect x="738.8" y="438.9" width="2.7" height="0.9"/>
<rect x="727.2" y="421.2" width="2.3" height="1.3"/>
<rect x="736.1" y="417.6" width="1.3" height="1.5"/>
<rect x="721.0" y="437.3" width="1.4" height="1.2"/>
<rect x="728.5" y="435.3" width="1.9" height="0.8"/>
<rect x="701.8" y="446.1" width="1.8" height="0.9"/>
<rect x="711.7" y="421.6" width="2.3" height="0.9"/>
<rect x="721.6" y="437.3" width="2.3" height="1.5"/>
<rect x="709.7" y="428.1" width="2.7" height="1.1"/>
<rect x="733.0" y="420.8" width="2.2" height="1.9"/>
<rect x="726.5" y="423.9" width="2.0" height="1.1"/>
<rect x="730.1" y="427.1" width="2.9" height="1.6"/>
<rect x="733.2" y="433.1" width="1.8" height="1.6"/>
<rect x="717.4" y="415.8" width="2.1" height="1.0"/>
<rect x="702.9" y="423.6" width="3.1" height="1.6"/>
<rect x="717.4" y="435.0" width="2.0" height="1.5"/>
<rect x="710.4" y="444.8" width="2.8" height="1.3"/>
<rect x="722.2" y="427.4" width="2.8" height="1.8"/>
<rect x="737.0" y="417.9" width="3.0" height="1.1"/>
<rect x="704.4" y="428.9" width="2.5" height="0.9"/>
<rect x="725.8" y="448.8" width="2.8" height="1.8"/>
<rect x="706.3" y="426.1" width="1.8" height="1.2"/>
<rect x="735.4" y="449.9" width="1.8" height="1.5"/>
<rect x="724.3" y="449.0" width="2.1" height="0.9"/>
<rect x="704.0" y="419.2" width="2.2" height="0.9"/>
<rect x="727.7" y="421.0" width="1.4" height="1.7"/>
<rect x="718.5" y="441.2" width="2.4" height="1.3"/>
<rect x="702.8" y="444.7" width="2.6" height="1.1"/>
<rect x="703.3" y="436.7" width="3.1" height="1.7"/>
<rect x="736.9" y="449.8" width="1.5" height="1.0"/>
<rect x="718.6" y="418.0" width="2.2" height="1.8"/>
<rect x="710.4" y="443.4" width="1.8" height="1.8"/>
<rect x="703.0" y="418.3" width="1.4" height="1.5"/>
<rect x="700.9" y="439.0" width="2.1" height="1.9"/>
<rect x="640.0" y="428.6" width="16.0" height="1.2" fill="#fff"/>
<rect x="626.0" y="438.4" width="52.0" height="1.3" fill="#fff"/>
<rect x="645.0" y="433.8" width="30.0" height="1.0" fill="#fff"/>
<rect x="690.0" y="421.0" width="12.0" height="1.2" fill="#fff"/>
<rect x="700.0" y="425.0" width="16.0" height="1.1" fill="#fff"/>
<rect x="655.0" y="444.6" width="26.0" height="1.2" fill="#fff"/>
<rect x="683.0" y="437.0" width="10.0" height="1.1" fill="#fff"/>
<rect x="610.0" y="446.5" width="30.0" height="1.1" fill="#fff"/>
<rect x="668.0" y="447.5" width="9.0" height="2.0" fill="#fff"/>
<rect x="650.0" y="448.5" width="7.0" height="1.6" fill="#fff"/>
<rect x="690.0" y="448.0" width="8.0" height="1.6" fill="#fff"/>
<rect x="659.4" y="446.4" width="3.0" height="1.3"/>
<rect x="707.8" y="438.4" width="2.6" height="1.4"/>
<rect x="630.9" y="435.8" width="2.4" height="1.4"/>
<rect x="732.9" y="423.8" width="3.3" height="1.6"/>
<rect x="624.1" y="437.1" width="1.7" height="1.5"/>
<rect x="671.0" y="444.3" width="3.3" height="0.9"/>
<rect x="719.8" y="449.9" width="1.6" height="0.9"/>
<rect x="669.1" y="419.1" width="1.6" height="1.5"/>
<rect x="637.7" y="438.4" width="1.7" height="1.7"/>
<rect x="688.8" y="420.6" width="2.8" height="2.1"/>
<rect x="734.3" y="419.4" width="2.8" height="1.2"/>
<rect x="663.3" y="433.6" width="1.4" height="1.7"/>
<rect x="628.0" y="447.1" width="1.5" height="1.7"/>
<rect x="680.1" y="419.1" width="1.5" height="1.5"/>
<rect x="660.0" y="423.3" width="1.5" height="1.1"/>
<rect x="712.1" y="422.7" width="3.0" height="1.0"/>
<rect x="712.5" y="444.2" width="3.3" height="1.3"/>
<rect x="731.9" y="432.1" width="2.7" height="2.0"/>
<rect x="630.6" y="419.5" width="2.8" height="1.1"/>
<rect x="639.0" y="434.8" width="1.7" height="1.2"/>
<rect x="636.9" y="421.1" width="3.1" height="2.0"/>
<rect x="702.0" y="432.9" width="3.3" height="1.6"/>
<rect x="680.2" y="418.7" width="2.1" height="1.1"/>
<rect x="692.9" y="450.7" width="2.7" height="1.2"/>
<rect x="714.4" y="420.7" width="3.1" height="0.9"/>
<rect x="730.7" y="443.7" width="3.5" height="1.5"/>
<rect x="692.9" y="431.6" width="3.0" height="1.6"/>
<rect x="668.1" y="445.3" width="3.4" height="1.2"/>
<rect x="643.7" y="451.8" width="2.0" height="1.3"/>
<rect x="679.3" y="427.8" width="2.3" height="1.2"/>
<rect x="666.4" y="445.1" width="3.0" height="2.1"/>
<rect x="726.8" y="427.1" width="3.0" height="1.8"/>
<rect x="689.0" y="434.6" width="3.3" height="1.6"/>
<rect x="727.4" y="421.6" width="2.1" height="1.0"/>
<rect x="700.6" y="433.6" width="2.0" height="1.3"/>
<rect x="671.6" y="428.4" width="2.4" height="1.7"/>
<rect x="614.5" y="425.5" width="2.5" height="1.7"/>
<rect x="684.9" y="442.9" width="2.3" height="2.1"/>
<rect x="706.4" y="435.2" width="2.6" height="1.9"/>
<rect x="646.5" y="427.6" width="2.4" height="1.5"/>
<rect x="618.4" y="435.1" width="3.3" height="2.0"/>
<rect x="678.4" y="441.8" width="2.1" height="0.9"/>
<rect x="713.2" y="436.3" width="2.6" height="1.7"/>
<rect x="731.9" y="428.3" width="2.6" height="1.8"/>
<rect x="696.5" y="449.0" width="1.4" height="1.9"/>
<rect x="616.6" y="428.8" width="2.1" height="1.9"/>
<rect x="721.3" y="436.8" width="2.5" height="1.7"/>
<rect x="615.2" y="430.6" width="2.3" height="0.9"/>
<rect x="650.0" y="427.5" width="1.6" height="1.1"/>
<rect x="657.6" y="440.5" width="3.2" height="1.2"/>
<rect x="708.7" y="442.2" width="1.5" height="1.1"/>
<rect x="720.0" y="422.8" width="2.7" height="1.6"/>
<rect x="711.2" y="444.4" width="3.1" height="1.0"/>
<rect x="700.9" y="448.5" width="2.8" height="2.1"/>
<rect x="622.1" y="433.8" width="3.4" height="1.2"/>
<rect x="654.4" y="428.0" width="2.1" height="1.4"/>
<rect x="674.2" y="426.7" width="2.4" height="2.1"/>
<rect x="654.9" y="426.5" width="3.3" height="1.8"/>
<rect x="709.4" y="449.1" width="3.5" height="1.2"/>
<rect x="612.1" y="443.1" width="2.8" height="1.3"/>
<rect x="723.3" y="445.3" width="2.6" height="1.7"/>
<rect x="663.5" y="424.2" width="1.9" height="1.8"/>
<rect x="672.8" y="435.7" width="2.7" height="2.1"/>
<rect x="626.6" y="421.2" width="3.0" height="1.1"/>
<rect x="682.0" y="435.2" width="2.8" height="1.7"/>
<rect x="661.1" y="438.6" width="3.4" height="2.0"/>
<rect x="668.1" y="442.9" width="1.9" height="2.1"/>
<rect x="612.4" y="437.3" width="3.0" height="2.1"/>
<rect x="678.6" y="435.4" width="2.6" height="1.9"/>
<rect x="657.8" y="439.6" width="1.8" height="0.9"/>
<rect x="621.5" y="424.1" width="2.2" height="1.0"/>
<rect x="708.1" y="441.3" width="2.1" height="1.1"/>
<rect x="663.1" y="447.7" width="3.2" height="1.8"/>
<rect x="659.3" y="446.4" width="2.4" height="1.3"/>
<rect x="722.7" y="440.8" width="1.4" height="0.9"/>
<rect x="670.3" y="444.4" width="2.3" height="1.5"/>
<rect x="628.8" y="438.6" width="2.2" height="1.3"/>
<rect x="638.0" y="438.1" width="3.1" height="1.5"/>
<rect x="686.6" y="436.9" width="2.9" height="1.8"/>
<rect x="613.3" y="450.8" width="2.4" height="0.9"/>
<rect x="701.0" y="443.8" width="2.1" height="1.6"/>
<rect x="616.9" y="443.1" width="2.8" height="1.9"/>
<rect x="670.3" y="449.3" width="2.2" height="0.8"/>
<rect x="623.0" y="429.0" width="1.8" height="1.1"/>
<rect x="623.2" y="440.1" width="3.3" height="2.1"/>
<rect x="655.5" y="435.0" width="2.5" height="1.6"/>
<rect x="701.6" y="432.7" width="1.3" height="1.2"/>
<rect x="613.4" y="441.2" width="3.4" height="1.6"/>
<rect x="697.0" y="437.3" width="3.5" height="1.0"/>
<rect x="682.3" y="429.3" width="2.3" height="1.1"/>
<rect x="708.1" y="429.3" width="1.9" height="2.0"/>
<rect x="614.2" y="424.3" width="3.4" height="1.7"/>
<rect x="636.8" y="422.5" width="2.8" height="2.0"/>
<rect x="734.7" y="450.0" width="3.0" height="0.9"/>
<rect x="708.9" y="432.9" width="2.5" height="0.8"/>
<rect x="613.7" y="435.6" width="2.7" height="1.2"/>
<rect x="730.9" y="420.3" width="3.2" height="2.1"/>
<rect x="622.9" y="446.2" width="2.7" height="1.4"/>
<rect x="665.7" y="436.6" width="3.4" height="1.9"/>
<rect x="670.2" y="433.6" width="1.7" height="1.6"/>
<rect x="717.8" y="439.6" width="2.6" height="1.4"/>
<rect x="733.1" y="446.9" width="2.4" height="1.7"/>
<rect x="711.2" y="426.7" width="2.7" height="1.2"/>
<rect x="706.0" y="428.4" width="3.4" height="1.8"/>
<rect x="677.0" y="437.3" width="2.6" height="1.2"/>
<rect x="615.0" y="433.4" width="1.9" height="1.5"/>
<rect x="637.9" y="425.0" width="3.5" height="1.3"/>
<rect x="704.1" y="422.8" width="1.5" height="1.8"/>
<rect x="665.7" y="445.2" width="1.3" height="1.5"/>
<rect x="685.5" y="425.5" width="2.9" height="1.1"/>
<rect x="625.3" y="423.3" width="1.4" height="1.4"/>
<rect x="708.4" y="423.9" width="1.9" height="1.3"/>
<rect x="639.2" y="447.6" width="3.1" height="1.0"/>
<rect x="693.1" y="448.8" width="1.3" height="1.4"/>
<rect x="615.3" y="428.8" width="1.6" height="1.4"/>
<rect x="637.1" y="443.0" width="2.1" height="0.9"/>
<rect x="680.0" y="433.6" width="2.9" height="1.8"/>
<rect x="642.4" y="431.1" width="2.9" height="2.2"/>
<rect x="679.9" y="438.8" width="2.0" height="1.4"/>
<rect x="651.0" y="434.9" width="1.9" height="1.3"/>
<rect x="615.5" y="421.0" width="3.2" height="1.3"/>
<rect x="730.5" y="426.3" width="2.1" height="2.1"/>
<rect x="666.7" y="441.0" width="3.0" height="1.3"/>
<rect x="636.8" y="418.3" width="3.2" height="1.6"/>
<rect x="708.2" y="451.4" width="3.2" height="1.6"/>
<rect x="625.7" y="437.6" width="2.4" height="0.9"/>
<rect x="614.3" y="429.8" width="2.1" height="2.0"/>
<rect x="734.2" y="449.3" width="2.0" height="2.0"/>
<rect x="658.9" y="430.4" width="2.6" height="0.9"/>
<rect x="694.9" y="420.1" width="2.6" height="1.8"/>
<rect x="619.4" y="440.0" width="2.4" height="1.3"/>
<rect x="708.2" y="428.7" width="1.7" height="1.4"/>
<rect x="657.0" y="445.9" width="1.7" height="1.4"/>
<rect x="707.9" y="433.7" width="2.0" height="1.0"/>
<rect x="655.2" y="436.0" width="3.0" height="2.2"/>
<rect x="677.7" y="434.9" width="3.0" height="1.5"/>
<rect x="643.3" y="441.7" width="3.1" height="1.1"/>
<rect x="717.8" y="420.1" width="1.7" height="1.3"/>
<rect x="723.3" y="434.4" width="2.1" height="1.1"/>
<rect x="669.5" y="437.0" width="2.6" height="2.1"/>
<rect x="627.2" y="442.3" width="3.4" height="1.7"/>
<rect x="699.3" y="445.4" width="3.3" height="1.2"/>
<rect x="667.7" y="446.6" width="1.6" height="1.4"/>
<rect x="730.8" y="431.5" width="2.3" height="1.4"/>
<rect x="671.1" y="444.1" width="1.5" height="1.4"/>
<rect x="664.5" y="450.6" width="3.2" height="1.2"/>
<rect x="651.2" y="451.7" width="1.3" height="1.8"/>
<rect x="614.0" y="427.9" width="2.7" height="1.7"/>
<rect x="690.3" y="425.6" width="2.2" height="2.0"/>
<rect x="646.1" y="436.2" width="2.5" height="2.0"/>
<rect x="703.0" y="442.9" width="2.3" height="1.4" fill="#fff"/>
<rect x="711.7" y="418.6" width="3.9" height="1.2" fill="#fff"/>
<rect x="662.4" y="437.8" width="4.2" height="1.5" fill="#fff"/>
<rect x="702.3" y="447.7" width="4.5" height="1.2" fill="#fff"/>
<rect x="692.1" y="447.1" width="3.4" height="0.9" fill="#fff"/>
<rect x="663.8" y="439.2" width="1.1" height="0.9" fill="#fff"/>
<rect x="706.8" y="439.3" width="1.1" height="1.4" fill="#fff"/>
<rect x="684.3" y="429.0" width="3.6" height="0.9" fill="#fff"/>
<rect x="638.6" y="439.3" width="3.7" height="1.3" fill="#fff"/>
<rect x="667.3" y="422.7" width="1.5" height="1.5" fill="#fff"/>
<rect x="653.1" y="430.2" width="3.0" height="0.8" fill="#fff"/>
<rect x="656.2" y="422.7" width="1.4" height="1.5" fill="#fff"/>
<rect x="642.0" y="426.0" width="2.1" height="1.4" fill="#fff"/>
<rect x="709.2" y="437.7" width="3.5" height="1.3" fill="#fff"/>
<rect x="627.9" y="438.6" width="4.8" height="1.5" fill="#fff"/>
<rect x="713.5" y="420.3" width="3.9" height="1.6" fill="#fff"/>
<rect x="648.7" y="425.8" width="4.9" height="1.0" fill="#fff"/>
<rect x="639.8" y="439.1" width="2.3" height="1.3" fill="#fff"/>
<rect x="649.6" y="423.8" width="3.4" height="1.1" fill="#fff"/>
<rect x="689.8" y="434.9" width="2.0" height="1.0" fill="#fff"/>
<rect x="632.7" y="418.6" width="3.8" height="1.1" fill="#fff"/>
<rect x="625.3" y="417.0" width="4.4" height="1.3" fill="#fff"/>
<rect x="645.7" y="442.8" width="4.6" height="0.8" fill="#fff"/>
<rect x="642.8" y="439.0" width="4.1" height="1.0" fill="#fff"/>
<rect x="671.7" y="427.4" width="2.5" height="1.5" fill="#fff"/>
<rect x="680.9" y="437.5" width="4.6" height="1.5" fill="#fff"/>
<rect x="690.0" y="417.2" width="2.5" height="1.6" fill="#fff"/>
<rect x="671.1" y="417.1" width="3.7" height="1.2" fill="#fff"/>
<rect x="695.5" y="434.9" width="2.1" height="1.1" fill="#fff"/>
<rect x="637.8" y="430.2" width="3.0" height="0.9" fill="#fff"/>
<rect x="630.0" y="437.5" width="3.6" height="1.4" fill="#fff"/>
<rect x="670.2" y="419.0" width="3.1" height="1.0" fill="#fff"/>
<rect x="712.9" y="423.4" width="4.2" height="1.3" fill="#fff"/>
<rect x="653.7" y="436.3" width="1.3" height="1.0" fill="#fff"/>
<rect x="693.5" y="417.4" width="3.2" height="1.5" fill="#fff"/>
<rect x="718.4" y="442.2" width="4.3" height="1.1" fill="#fff"/>
<rect x="659.8" y="424.9" width="1.3" height="0.9" fill="#fff"/>
<rect x="630.4" y="423.4" width="2.3" height="1.1" fill="#fff"/>
<rect x="671.7" y="444.4" width="2.5" height="1.2" fill="#fff"/>
<rect x="703.0" y="431.3" width="3.9" height="1.6" fill="#fff"/>
<rect x="712.0" y="425.5" width="4.4" height="1.5" fill="#fff"/>
<rect x="647.7" y="421.0" width="3.9" height="1.3" fill="#fff"/>
<rect x="644.9" y="449.4" width="2.9" height="1.6" fill="#fff"/>
<rect x="673.5" y="440.5" width="1.5" height="1.4" fill="#fff"/>
<rect x="667.9" y="423.5" width="2.7" height="1.3" fill="#fff"/>
<rect x="711.1" y="441.9" width="4.7" height="1.4" fill="#fff"/>
<rect x="661.3" y="421.9" width="4.6" height="1.1" fill="#fff"/>
<rect x="717.8" y="438.9" width="4.2" height="1.3" fill="#fff"/>
<rect x="644.4" y="432.5" width="3.7" height="0.9" fill="#fff"/>
<rect x="661.1" y="443.1" width="1.9" height="0.8" fill="#fff"/>
<rect x="646.6" y="430.8" width="2.1" height="1.2" fill="#fff"/>
<rect x="651.2" y="430.7" width="4.7" height="1.5" fill="#fff"/>
<rect x="698.6" y="431.0" width="3.2" height="1.4" fill="#fff"/>
<rect x="645.1" y="428.1" width="1.5" height="1.2" fill="#fff"/>
<rect x="655.0" y="438.9" width="2.5" height="1.3" fill="#fff"/>
<path d="M767.5,400 L771,398.5 L777.5,397.3 L777,400 L772,401.5 L768,401.8 Z" />
<path d="M785.8,396 L800.8,395.8 L798,399 L794,400.8 L789,400 Z" />
<path d="M809,406 L812,405 L813,411 L810,411.5 Z" />
<path d="M818.3,405.5 L828,404.5 L835,405.5 L834,411 L822,411.5 Z" />
<path d="M828,409 L838,407 L852,405.5 L868,405.8 L880,409 L888,412 L900,412 L912,409 L921,408.5 L926,412 L927,420 L924,426 L915,428 L900,428.5 L890,428.5 L880,427 L868,428.5 L850,426 L840,421 L832,415 Z" />
<path d="M856,426 L891,426 L892,452 L852,452 Z" />
<rect x="842.2" y="434.8" width="1.6" height="1.2"/>
<rect x="823.3" y="437.2" width="1.5" height="1.0"/>
<rect x="855.7" y="427.5" width="1.1" height="1.4"/>
<rect x="834.8" y="426.2" width="1.9" height="1.3"/>
<rect x="855.7" y="422.6" width="2.2" height="1.6"/>
<rect x="828.8" y="410.7" width="1.2" height="1.3"/>
<rect x="854.4" y="429.6" width="1.3" height="1.3"/>
<rect x="851.2" y="448.9" width="1.8" height="0.9"/>
<rect x="841.3" y="431.0" width="1.3" height="0.8"/>
<rect x="854.7" y="421.9" width="2.3" height="1.3"/>
<rect x="818.1" y="447.9" width="2.5" height="0.9"/>
<rect x="847.1" y="411.8" width="2.4" height="0.9"/>
<rect x="843.9" y="441.4" width="1.9" height="1.7"/>
<rect x="825.5" y="450.9" width="2.0" height="0.8"/>
<rect x="819.6" y="418.9" width="1.2" height="1.1"/>
<rect x="823.2" y="422.4" width="2.3" height="1.5"/>
<rect x="829.9" y="415.0" width="1.1" height="1.0"/>
<rect x="820.7" y="415.9" width="2.5" height="1.1"/>
<rect x="852.9" y="412.3" width="1.2" height="0.8"/>
<rect x="840.4" y="446.7" width="2.3" height="1.1"/>
<rect x="851.5" y="426.4" width="1.8" height="1.0"/>
<rect x="831.9" y="436.9" width="1.6" height="0.9"/>
<rect x="832.1" y="411.7" width="1.6" height="1.7"/>
<rect x="841.5" y="421.3" width="1.7" height="1.3"/>
<rect x="824.1" y="432.8" width="1.4" height="0.8"/>
<rect x="827.5" y="424.3" width="2.1" height="0.8"/>
<rect x="838.3" y="434.3" width="2.3" height="0.9"/>
<rect x="850.8" y="424.2" width="1.2" height="1.4"/>
<rect x="847.9" y="451.7" width="1.4" height="1.5"/>
<rect x="857.5" y="432.3" width="2.0" height="0.8"/>
<rect x="830.2" y="426.6" width="1.3" height="0.8"/>
<rect x="833.4" y="437.0" width="1.8" height="1.3"/>
<rect x="839.7" y="441.5" width="2.1" height="1.1"/>
<rect x="822.4" y="415.8" width="1.5" height="1.2"/>
<rect x="847.3" y="414.2" width="1.3" height="1.5"/>
<rect x="853.7" y="421.1" width="1.8" height="1.3"/>
<rect x="828.7" y="430.8" width="1.1" height="1.7"/>
<rect x="828.3" y="448.1" width="2.4" height="1.2"/>
<rect x="825.0" y="422.1" width="2.4" height="0.8"/>
<rect x="829.1" y="421.1" width="1.5" height="1.8"/>
<rect x="836.5" y="448.6" width="2.0" height="0.7"/>
<rect x="833.0" y="424.0" width="1.3" height="1.0"/>
<rect x="827.2" y="447.2" width="1.8" height="1.2"/>
<rect x="830.4" y="436.4" width="1.5" height="0.7"/>
<rect x="824.9" y="443.9" width="2.0" height="1.5"/>
<rect x="836.1" y="436.0" width="1.0" height="1.4"/>
<rect x="853.1" y="436.0" width="1.8" height="1.5"/>
<rect x="850.9" y="427.3" width="1.2" height="1.4"/>
<rect x="845.1" y="449.5" width="1.0" height="1.3"/>
<rect x="856.1" y="411.9" width="2.0" height="1.4"/>
<rect x="852.7" y="432.7" width="2.0" height="1.6"/>
<rect x="827.1" y="410.5" width="2.1" height="0.9"/>
<rect x="823.0" y="414.6" width="2.4" height="1.7"/>
<rect x="838.0" y="440.7" width="1.4" height="0.8"/>
<rect x="843.8" y="421.5" width="1.1" height="1.5"/>
<rect x="818.1" y="437.7" width="1.3" height="1.0"/>
<rect x="833.2" y="441.2" width="2.0" height="0.8"/>
<rect x="831.3" y="432.7" width="2.5" height="1.2"/>
<rect x="852.1" y="444.4" width="2.1" height="1.0"/>
<rect x="824.1" y="443.3" width="1.3" height="1.2"/>
<rect x="835.6" y="435.6" width="2.4" height="0.9"/>
<rect x="821.0" y="442.5" width="1.3" height="1.3"/>
<rect x="829.3" y="446.2" width="2.0" height="1.6"/>
<rect x="832.9" y="418.4" width="2.0" height="0.9"/>
<rect x="820.7" y="451.5" width="2.3" height="0.8"/>
<rect x="835.4" y="413.4" width="1.1" height="1.4"/>
<rect x="851.4" y="450.3" width="2.4" height="1.1"/>
<rect x="819.4" y="437.9" width="1.7" height="0.8"/>
<rect x="828.0" y="416.9" width="2.4" height="1.1"/>
<rect x="859.0" y="434.0" width="2.1" height="1.6"/>
<rect x="827.5" y="445.5" width="2.4" height="0.8"/>
<rect x="831.2" y="421.1" width="1.9" height="1.6"/>
<rect x="854.6" y="430.1" width="2.5" height="1.4"/>
<rect x="848.4" y="428.7" width="1.9" height="1.3"/>
<rect x="851.6" y="431.6" width="1.5" height="1.0"/>
<rect x="832.9" y="421.4" width="1.8" height="1.8"/>
<rect x="859.7" y="421.0" width="1.6" height="1.3"/>
<rect x="832.3" y="413.0" width="1.3" height="1.7"/>
<rect x="837.0" y="412.1" width="1.9" height="1.0"/>
<rect x="855.6" y="440.7" width="1.0" height="1.0"/>
<rect x="821.8" y="422.4" width="2.2" height="1.6"/>
<rect x="855.2" y="429.7" width="1.9" height="1.3"/>
<rect x="829.3" y="450.1" width="1.2" height="1.7"/>
<rect x="826.8" y="442.8" width="1.7" height="0.8"/>
<rect x="851.1" y="433.8" width="1.1" height="1.8"/>
<rect x="854.1" y="436.4" width="1.1" height="1.7"/>
<rect x="819.8" y="450.1" width="2.2" height="1.6"/>
<rect x="856.4" y="437.2" width="1.6" height="1.2"/>
<rect x="834.8" y="431.6" width="2.0" height="1.4"/>
<rect x="838.5" y="441.9" width="1.0" height="1.7"/>
<rect x="828.4" y="422.9" width="2.1" height="1.2"/>
<rect x="833.0" y="413.9" width="2.1" height="1.2"/>
<rect x="831.1" y="427.0" width="1.9" height="1.8"/>
<rect x="844.5" y="423.5" width="1.2" height="1.0"/>
<rect x="825.7" y="418.1" width="2.1" height="1.1"/>
<rect x="831.4" y="416.8" width="2.1" height="1.7"/>
<rect x="847.4" y="420.9" width="1.7" height="0.8"/>
<rect x="830.1" y="415.3" width="1.7" height="1.4"/>
<rect x="840.0" y="441.8" width="2.3" height="1.6"/>
<rect x="835.9" y="436.8" width="1.9" height="1.5"/>
<rect x="920.4" y="448.1" width="1.8" height="1.6"/>
<rect x="907.0" y="448.3" width="1.7" height="1.7"/>
<rect x="893.5" y="450.8" width="1.2" height="1.8"/>
<rect x="919.5" y="430.3" width="1.5" height="1.1"/>
<rect x="906.2" y="433.5" width="1.4" height="1.3"/>
<rect x="918.5" y="436.2" width="1.2" height="0.9"/>
<rect x="888.6" y="451.4" width="2.1" height="1.0"/>
<rect x="925.6" y="428.3" width="2.4" height="0.8"/>
<rect x="896.3" y="429.7" width="2.2" height="1.0"/>
<rect x="904.7" y="437.0" width="1.9" height="1.6"/>
<rect x="912.7" y="431.2" width="1.2" height="1.5"/>
<rect x="906.6" y="440.0" width="1.3" height="1.0"/>
<rect x="926.4" y="451.1" width="1.6" height="1.2"/>
<rect x="925.5" y="447.0" width="1.6" height="1.5"/>
<rect x="900.2" y="431.2" width="2.4" height="1.2"/>
<rect x="928.4" y="448.9" width="1.9" height="1.7"/>
<rect x="905.5" y="440.0" width="1.3" height="0.8"/>
<rect x="905.9" y="431.3" width="1.6" height="1.3"/>
<rect x="902.6" y="446.2" width="2.2" height="1.3"/>
<rect x="910.6" y="451.7" width="1.8" height="1.3"/>
<rect x="918.2" y="428.9" width="1.5" height="1.0"/>
<rect x="909.4" y="428.5" width="2.2" height="1.6"/>
<rect x="907.4" y="450.0" width="1.8" height="1.2"/>
<rect x="892.2" y="437.8" width="1.6" height="1.5"/>
<rect x="922.8" y="430.6" width="1.8" height="1.3"/>
<rect x="904.5" y="438.8" width="2.5" height="1.2"/>
<rect x="905.2" y="441.5" width="2.4" height="1.4"/>
<rect x="929.2" y="436.7" width="2.2" height="1.6"/>
<rect x="926.5" y="451.9" width="1.9" height="1.1"/>
<rect x="910.4" y="443.6" width="1.3" height="1.5"/>
<rect x="918.7" y="434.3" width="1.5" height="1.5"/>
<rect x="888.2" y="449.8" width="2.1" height="1.3"/>
<rect x="911.0" y="435.8" width="2.3" height="1.0"/>
<rect x="916.9" y="428.1" width="1.2" height="1.7"/>
<rect x="888.2" y="429.9" width="2.2" height="1.3"/>
<rect x="893.8" y="448.8" width="1.3" height="1.3"/>
<rect x="915.9" y="447.4" width="2.1" height="1.3"/>
<rect x="893.2" y="433.8" width="1.9" height="1.3"/>
<rect x="900.5" y="451.6" width="2.2" height="1.7"/>
<rect x="897.3" y="450.6" width="2.5" height="1.3"/>
<rect x="927.3" y="451.3" width="2.4" height="1.0"/>
<rect x="896.8" y="429.2" width="2.4" height="0.9"/>
<rect x="909.3" y="428.4" width="2.2" height="1.7"/>
<rect x="926.4" y="434.3" width="1.4" height="1.5"/>
<rect x="910.4" y="430.9" width="2.0" height="1.2"/>
<rect x="917.8" y="445.4" width="1.6" height="1.0"/>
<rect x="889.6" y="450.2" width="1.1" height="1.4"/>
<rect x="916.4" y="450.6" width="2.0" height="1.8"/>
<rect x="928.7" y="443.3" width="1.8" height="0.9"/>
<rect x="902.3" y="429.7" width="1.9" height="1.2"/>
<rect x="926.6" y="449.2" width="1.9" height="0.9"/>
<rect x="910.2" y="447.0" width="2.3" height="1.1"/>
<rect x="888.8" y="445.0" width="1.5" height="0.8"/>
<rect x="900.0" y="439.4" width="1.4" height="1.5"/>
<rect x="916.5" y="440.8" width="1.7" height="1.2"/>
<rect x="872.7" y="435.2" width="1.9" height="1.1" fill="#fff"/>
<rect x="871.0" y="439.7" width="1.5" height="0.9" fill="#fff"/>
<rect x="885.1" y="434.3" width="1.2" height="1.6" fill="#fff"/>
<rect x="887.2" y="442.3" width="2.2" height="0.9" fill="#fff"/>
<rect x="856.3" y="448.9" width="1.9" height="1.1" fill="#fff"/>
<rect x="891.8" y="445.4" width="2.2" height="1.2" fill="#fff"/>
<rect x="885.2" y="429.3" width="1.4" height="1.8" fill="#fff"/>
<rect x="892.6" y="430.6" width="1.2" height="1.1" fill="#fff"/>
<rect x="887.5" y="439.1" width="2.4" height="1.6" fill="#fff"/>
<rect x="858.9" y="438.1" width="1.1" height="1.0" fill="#fff"/>
<rect x="864.0" y="441.0" width="2.4" height="1.6" fill="#fff"/>
<rect x="867.3" y="437.2" width="1.5" height="1.1" fill="#fff"/>
<rect x="880.9" y="437.2" width="1.4" height="1.1" fill="#fff"/>
<rect x="862.0" y="450.3" width="0.8" height="1.8" fill="#fff"/>
<rect x="880.7" y="441.8" width="1.9" height="1.5" fill="#fff"/>
<rect x="862.7" y="429.4" width="2.4" height="1.4" fill="#fff"/>
<rect x="883.7" y="448.4" width="1.2" height="0.9" fill="#fff"/>
<rect x="888.2" y="443.9" width="1.5" height="0.9" fill="#fff"/>
<rect x="884.6" y="428.4" width="2.1" height="1.7" fill="#fff"/>
<rect x="867.9" y="435.5" width="2.1" height="0.9" fill="#fff"/>
<rect x="862.8" y="447.6" width="1.3" height="1.4" fill="#fff"/>
<rect x="876.7" y="443.9" width="1.2" height="1.1" fill="#fff"/>
<rect x="868.0" y="449.8" width="1.0" height="1.5" fill="#fff"/>
<rect x="884.3" y="450.5" width="1.0" height="0.9" fill="#fff"/>
<rect x="875.8" y="446.5" width="1.8" height="1.5" fill="#fff"/>
<rect x="870.8" y="448.2" width="1.6" height="1.4" fill="#fff"/>
<rect x="854.5" y="442.7" width="1.0" height="1.0" fill="#fff"/>
<rect x="890.5" y="433.6" width="2.2" height="1.7" fill="#fff"/>
<rect x="858.8" y="442.5" width="0.9" height="0.9" fill="#fff"/>
<rect x="880.2" y="428.2" width="1.9" height="1.7" fill="#fff"/>
<rect x="862.6" y="449.9" width="1.8" height="0.8" fill="#fff"/>
<rect x="863.7" y="434.3" width="1.2" height="1.2" fill="#fff"/>
<rect x="858.1" y="442.7" width="2.0" height="1.2" fill="#fff"/>
<rect x="856.5" y="442.4" width="1.3" height="1.1" fill="#fff"/>
<rect x="882.3" y="444.3" width="0.9" height="1.5" fill="#fff"/>
<rect x="889.6" y="442.2" width="1.3" height="1.0" fill="#fff"/>
<rect x="868.6" y="438.4" width="1.7" height="1.7" fill="#fff"/>
<rect x="857.6" y="441.3" width="1.8" height="1.4" fill="#fff"/>
<rect x="879.8" y="449.0" width="1.5" height="0.8" fill="#fff"/>
<rect x="874.2" y="437.9" width="0.9" height="1.6" fill="#fff"/>
<rect x="869.4" y="428.1" width="1.8" height="1.3" fill="#fff"/>
<rect x="864.6" y="443.2" width="1.3" height="1.7" fill="#fff"/>
<rect x="862.2" y="437.9" width="1.6" height="1.2" fill="#fff"/>
<rect x="876.2" y="442.4" width="2.1" height="1.2" fill="#fff"/>
<rect x="884.4" y="436.7" width="1.5" height="0.8" fill="#fff"/>
<rect x="869.8" y="444.8" width="2.1" height="1.3" fill="#fff"/>
<rect x="889.6" y="441.7" width="1.6" height="1.3" fill="#fff"/>
<rect x="878.8" y="435.6" width="1.1" height="1.6" fill="#fff"/>
<rect x="858.8" y="447.1" width="1.9" height="1.7" fill="#fff"/>
<rect x="882.5" y="433.9" width="1.8" height="1.3" fill="#fff"/>
<rect x="879.8" y="444.5" width="1.5" height="1.3" fill="#fff"/>
<rect x="864.2" y="434.5" width="0.9" height="1.2" fill="#fff"/>
<rect x="882.7" y="447.1" width="1.9" height="1.1" fill="#fff"/>
<rect x="855.4" y="446.8" width="2.3" height="1.5" fill="#fff"/>
<rect x="886.0" y="428.7" width="2.2" height="1.4" fill="#fff"/>
<rect x="868.3" y="444.4" width="0.8" height="1.7" fill="#fff"/>
<rect x="854.0" y="446.4" width="0.9" height="1.8" fill="#fff"/>
<rect x="890.9" y="439.4" width="2.0" height="1.2" fill="#fff"/>
<rect x="861.4" y="444.1" width="1.6" height="1.5" fill="#fff"/>
<rect x="872.4" y="449.3" width="1.4" height="1.0" fill="#fff"/>
<rect x="903.8" y="421.4" width="1.4" height="0.8" fill="#fff"/>
<rect x="852.8" y="412.1" width="2.0" height="1.6" fill="#fff"/>
<rect x="850.6" y="415.3" width="1.1" height="0.9" fill="#fff"/>
<rect x="911.0" y="412.2" width="1.7" height="1.2" fill="#fff"/>
<rect x="876.5" y="424.0" width="1.3" height="0.9" fill="#fff"/>
<rect x="862.3" y="425.0" width="1.0" height="1.0" fill="#fff"/>
<rect x="851.8" y="410.2" width="1.7" height="0.9" fill="#fff"/>
<rect x="864.8" y="412.9" width="1.2" height="1.0" fill="#fff"/>
<rect x="919.5" y="414.0" width="1.9" height="1.1" fill="#fff"/>
<rect x="902.8" y="421.3" width="0.8" height="1.0" fill="#fff"/>
<rect x="839.3" y="425.2" width="1.4" height="1.5" fill="#fff"/>
<rect x="855.6" y="424.1" width="0.9" height="1.2" fill="#fff"/>
<rect x="894.1" y="422.5" width="1.3" height="1.0" fill="#fff"/>
<rect x="899.2" y="426.1" width="1.2" height="0.8" fill="#fff"/>
<rect x="849.9" y="418.5" width="1.2" height="1.1" fill="#fff"/>
<rect x="847.4" y="412.9" width="1.5" height="1.2" fill="#fff"/>
<rect x="578.0" y="487.5" width="8.1" height="1.3"/>
<rect x="590.6" y="487.5" width="12.6" height="1.3"/>
<rect x="609.5" y="487.5" width="13.5" height="1.3"/>
<rect x="627.5" y="487.5" width="9.5" height="1.3"/>
<rect x="644.8" y="487.5" width="9.3" height="1.3"/>
<rect x="659.4" y="487.5" width="0.6" height="1.3"/>
<rect x="577.0" y="492.8" width="60.0" height="1.4"/>
<rect x="636.0" y="492.8" width="22.2" height="1.6"/>
<rect x="661.9" y="492.8" width="20.0" height="1.6"/>
<rect x="684.5" y="492.8" width="11.1" height="1.6"/>
<rect x="696.8" y="492.8" width="3.2" height="1.6"/>
<rect x="577.0" y="497.0" width="60.0" height="1.4"/>
<rect x="661.9" y="497.0" width="32.0" height="1.6"/>
<rect x="698.5" y="497.0" width="1.5" height="1.6"/>
<rect x="577.0" y="501.3" width="60.0" height="1.4"/>
<rect x="636.0" y="501.3" width="26.5" height="1.6"/>
<rect x="693.5" y="501.3" width="6.5" height="1.6"/>
<rect x="577.0" y="506.0" width="60.0" height="1.4"/>
<rect x="636.0" y="506.0" width="19.4" height="1.6"/>
<rect x="656.5" y="506.0" width="35.4" height="1.6"/>
<rect x="693.9" y="506.0" width="6.1" height="1.6"/>
<rect x="577.0" y="510.7" width="60.0" height="1.4"/>
<rect x="636.0" y="510.7" width="21.1" height="1.6"/>
<rect x="658.1" y="510.7" width="16.9" height="1.6"/>
<rect x="676.8" y="510.7" width="23.2" height="1.6"/>
<rect x="577.0" y="515.3" width="60.0" height="1.4"/>
<rect x="636.0" y="515.3" width="26.6" height="1.6"/>
<rect x="664.0" y="515.3" width="35.2" height="1.6"/>
<rect x="577.0" y="519.5" width="60.0" height="1.4"/>
<rect x="636.0" y="519.5" width="37.7" height="1.6"/>
<rect x="678.3" y="519.5" width="21.7" height="1.6"/>
<rect x="600.0" y="492.8" width="8.7" height="1.6"/>
<rect x="610.0" y="492.8" width="21.1" height="1.6"/>
<rect x="634.0" y="492.8" width="6.0" height="1.6"/>
<rect x="600.0" y="501.3" width="10.9" height="1.6"/>
<rect x="628.4" y="501.3" width="10.3" height="1.6"/>
<rect x="600.0" y="510.7" width="20.1" height="1.6"/>
<rect x="621.9" y="510.7" width="10.9" height="1.6"/>
<rect x="635.0" y="510.7" width="5.0" height="1.6"/>
<rect x="722.0" y="487.0" width="96.0" height="1.2"/>
<rect x="722.0" y="493.0" width="96.0" height="1.2"/>
<rect x="722.0" y="499.0" width="96.0" height="1.2"/>
<rect x="722.0" y="505.0" width="96.0" height="1.2"/>
<rect x="722.0" y="511.0" width="10.2" height="1.3"/>
<rect x="737.7" y="511.0" width="15.1" height="1.3"/>
<rect x="758.5" y="511.0" width="24.5" height="1.3"/>
<rect x="789.8" y="511.0" width="11.0" height="1.3"/>
<rect x="806.5" y="511.0" width="15.5" height="1.3"/>
<rect x="930.0" y="487.5" width="12.6" height="1.2"/>
<rect x="948.1" y="487.5" width="13.9" height="1.2"/>
<rect x="958.0" y="487.0" width="101.5" height="1.2"/>
<rect x="930.0" y="493.7" width="14.8" height="1.2"/>
<rect x="949.9" y="493.7" width="12.1" height="1.2"/>
<rect x="958.0" y="493.0" width="101.5" height="1.2"/>
<rect x="930.0" y="499.5" width="20.7" height="1.2"/>
<rect x="954.8" y="499.5" width="7.2" height="1.2"/>
<rect x="958.0" y="499.0" width="101.5" height="1.2"/>
<rect x="950.1" y="505.3" width="11.5" height="1.2"/>
<rect x="958.0" y="505.0" width="101.5" height="1.2"/>
<rect x="945.6" y="511.0" width="11.3" height="1.2"/>
<rect x="958.0" y="511.0" width="101.5" height="1.2"/>
<rect x="930.0" y="516.0" width="14.8" height="1.2"/>
<rect x="948.2" y="516.0" width="13.8" height="1.2"/>
<rect x="958.0" y="516.0" width="101.5" height="1.2"/>
<rect x="930.0" y="519.6" width="7.9" height="1.2"/>
<rect x="941.3" y="519.6" width="20.7" height="1.2"/>
<rect x="958.0" y="519.0" width="101.5" height="1.2"/>
<rect x="891.0" y="499.5" width="18.1" height="1.2"/>
<rect x="910.2" y="499.5" width="21.8" height="1.2"/>
<rect x="891.0" y="505.3" width="20.2" height="1.2"/>
<rect x="913.6" y="505.3" width="18.4" height="1.2"/>
<rect x="891.0" y="511.0" width="15.3" height="1.2"/>
<rect x="928.6" y="511.0" width="3.4" height="1.2"/>
<rect x="891.0" y="516.0" width="17.3" height="1.2"/>
<rect x="912.3" y="516.0" width="15.0" height="1.2"/>
<rect x="930.5" y="516.0" width="1.5" height="1.2"/>
<rect x="891.0" y="519.6" width="15.4" height="1.2"/>
<rect x="910.6" y="519.6" width="19.8" height="1.2"/>
<rect x="577.0" y="521.6" width="482.5" height="1.8"/>
<rect x="620.0" y="517.5" width="120.0" height="5.0"/>
<rect x="740.0" y="514.0" width="84.0" height="9.0"/>
<rect x="824.0" y="518.0" width="36.0" height="5.0"/>
<rect x="640.0" y="512.8" width="60.0" height="3.0"/>
<path d="M660,487.5 L663,483 L673,476 L684,474 L697,473.5 L706,472 L717,471 L726,472.5 L731,477 L735,481 L737,484 L730,484.5 L717,483.8 L700,484 L690,485 L676.5,485.5 L668,488 Z" />
<path d="M692,489.5 L713,489.5 L710,500 L706,512 L704,523 L672,523 L679,512 L685,500 Z" />
<rect x="656.0" y="489.5" width="36.0" height="1.8"/>
<rect x="644.0" y="499.0" width="40.0" height="1.8"/>
<rect x="634.0" y="508.0" width="46.0" height="1.8"/>
<rect x="650.0" y="512.8" width="36.0" height="1.6"/>
<rect x="716.0" y="484.8" width="4.9" height="1.2"/>
<rect x="725.0" y="484.8" width="5.9" height="1.2"/>
<rect x="735.7" y="484.8" width="4.3" height="1.2"/>
<rect x="712.0" y="489.5" width="11.1" height="1.6"/>
<rect x="727.2" y="489.5" width="4.4" height="1.6"/>
<rect x="712.0" y="494.5" width="12.9" height="1.6"/>
<rect x="730.3" y="494.5" width="4.3" height="1.6"/>
<rect x="739.6" y="494.5" width="2.4" height="1.6"/>
<rect x="712.0" y="499.0" width="12.7" height="1.6"/>
<rect x="728.9" y="499.0" width="9.3" height="1.6"/>
<rect x="740.7" y="499.0" width="1.3" height="1.6"/>
<rect x="712.0" y="503.5" width="5.9" height="1.6"/>
<rect x="720.3" y="503.5" width="11.5" height="1.6"/>
<rect x="712.0" y="508.0" width="7.8" height="1.6"/>
<rect x="724.5" y="508.0" width="8.5" height="1.6"/>
<rect x="712.0" y="512.5" width="11.5" height="1.6"/>
<rect x="728.0" y="512.5" width="11.6" height="1.6"/>
<path d="M768,469 L772,467.5 L778,466 L777.5,468.8 L772,470 Z" />
<path d="M786,464.3 L801.7,464 L799,467.5 L794,468.8 L789,468 Z" />
<path d="M811,476 L815,474.5 L815,478 L811.5,478.5 Z" />
<path d="M818,476.5 L822,474 L830,473.5 L836,476 L840,479 L852,476 L866,475.5 L876,477.5 L884,481 L892,481.5 L902,479 L912,477.5 L920,478 L926,482 L927.5,488 L925,493 L916,495.5 L900,496.5 L890,497 L890.5,523 L859,523 L860,497 L848,492 L838,489 L830,486 L826,481 L819,480 Z" />
<rect x="822.0" y="487.6" width="16.0" height="1.6"/>
<rect x="826.0" y="493.6" width="30.0" height="1.6"/>
<rect x="830.0" y="499.5" width="28.0" height="1.6"/>
<rect x="836.0" y="505.3" width="24.0" height="1.6"/>
<rect x="828.0" y="511.0" width="32.0" height="1.6"/>
<rect x="822.0" y="490.5" width="17.8" height="1.1"/>
<rect x="841.8" y="490.5" width="11.3" height="1.1"/>
<rect x="856.1" y="490.5" width="3.9" height="1.1"/>
<rect x="822.0" y="496.5" width="6.4" height="1.1"/>
<rect x="831.1" y="496.5" width="13.5" height="1.1"/>
<rect x="848.9" y="496.5" width="11.1" height="1.1"/>
<rect x="822.0" y="502.4" width="7.2" height="1.1"/>
<rect x="822.0" y="508.2" width="9.4" height="1.1"/>
<rect x="835.5" y="508.2" width="15.8" height="1.1"/>
<rect x="856.3" y="508.2" width="3.7" height="1.1"/>
<rect x="822.0" y="514.0" width="7.4" height="1.1"/>
<rect x="845.3" y="514.0" width="7.5" height="1.1"/>
<rect x="856.4" y="514.0" width="3.6" height="1.1"/>
<rect x="1002.0" y="465.5" width="7.5" height="1.1"/>
<rect x="1029.8" y="465.5" width="14.9" height="1.1"/>
<rect x="1028.8" y="467.8" width="11.4" height="1.1"/>
<rect x="1029.2" y="470.0" width="10.8" height="1.1"/>
<rect x="1003.5" y="472.2" width="10.3" height="1.1"/>
<rect x="1027.7" y="472.2" width="11.3" height="1.1"/>
<rect x="1000.6" y="474.5" width="9.2" height="1.1"/>
<rect x="1030.9" y="474.5" width="17.7" height="1.1"/>
<rect x="1003.6" y="476.8" width="11.1" height="1.1"/>
<rect x="1029.1" y="476.8" width="12.0" height="1.1"/>
<rect x="1026.1" y="479.0" width="9.1" height="1.1"/>
<rect x="1002.3" y="481.2" width="10.3" height="1.1"/>
<rect x="1029.7" y="481.2" width="15.2" height="1.1"/>
<rect x="1002.6" y="483.5" width="12.1" height="1.1"/>
<rect x="1026.2" y="483.5" width="12.5" height="1.1"/>
<rect x="1001.0" y="485.8" width="9.0" height="1.1"/>
<rect x="1028.9" y="485.8" width="17.1" height="1.1"/>
<rect x="1001.8" y="488.0" width="9.1" height="1.1"/>
<rect x="1026.3" y="488.0" width="15.5" height="1.1"/>
<rect x="1002.3" y="490.2" width="7.3" height="1.1"/>
<rect x="1027.4" y="490.2" width="8.6" height="1.1"/>
<rect x="1002.4" y="492.5" width="13.6" height="1.1"/>
<rect x="1026.7" y="492.5" width="12.3" height="1.1"/>
<rect x="1000.6" y="494.8" width="10.0" height="1.1"/>
<rect x="1030.9" y="494.8" width="12.6" height="1.1"/>
<rect x="1000.6" y="497.0" width="8.6" height="1.1"/>
<rect x="1026.9" y="497.0" width="9.7" height="1.1"/>
<rect x="1000.6" y="499.2" width="11.1" height="1.1"/>
<rect x="1027.4" y="499.2" width="11.7" height="1.1"/>
<rect x="1001.1" y="501.5" width="12.3" height="1.1"/>
<rect x="1030.1" y="501.5" width="10.0" height="1.1"/>
<rect x="1001.3" y="506.0" width="13.2" height="1.1"/>
<rect x="1028.8" y="506.0" width="15.0" height="1.1"/>
<rect x="1002.0" y="508.2" width="13.2" height="1.1"/>
<rect x="1030.5" y="508.2" width="16.3" height="1.1"/>
<rect x="1000.4" y="510.5" width="12.6" height="1.1"/>
<rect x="1003.2" y="512.8" width="12.1" height="1.1"/>
<rect x="1027.4" y="512.8" width="9.5" height="1.1"/>
<rect x="1003.0" y="515.0" width="13.2" height="1.1"/>
<rect x="1029.9" y="515.0" width="11.7" height="1.1"/>
<rect x="1001.8" y="517.2" width="9.8" height="1.1"/>
<rect x="1029.0" y="517.2" width="13.1" height="1.1"/>
<rect x="1003.6" y="519.5" width="12.2" height="1.1"/>
<rect x="1026.2" y="519.5" width="14.0" height="1.1"/>
<path d="M1024,476.5 L1028,473 L1033,472.8 L1036,476 L1032,477 Z" />
<rect x="1018.0" y="490.3" width="22.0" height="2.0"/>
<rect x="578.0" y="552.6" width="21.6" height="1.2"/>
<rect x="606.4" y="552.6" width="6.9" height="1.2"/>
<rect x="616.2" y="552.6" width="20.1" height="1.2"/>
<rect x="642.7" y="552.6" width="12.5" height="1.2"/>
<rect x="659.9" y="552.6" width="0.1" height="1.2"/>
<rect x="578.0" y="558.8" width="5.6" height="1.2"/>
<rect x="604.5" y="558.8" width="4.4" height="1.2"/>
<rect x="614.6" y="558.8" width="6.6" height="1.2"/>
<rect x="624.3" y="558.8" width="13.5" height="1.2"/>
<rect x="577.0" y="564.8" width="42.0" height="1.4"/>
<rect x="620.0" y="564.8" width="10.0" height="1.4"/>
<rect x="636.7" y="564.8" width="10.7" height="1.4"/>
<rect x="652.3" y="564.8" width="10.7" height="1.4"/>
<rect x="577.0" y="570.2" width="42.0" height="1.4"/>
<rect x="639.2" y="570.2" width="8.6" height="1.4"/>
<rect x="652.5" y="570.2" width="5.1" height="1.4"/>
<rect x="577.0" y="575.0" width="42.0" height="1.4"/>
<rect x="620.0" y="575.0" width="4.4" height="1.4"/>
<rect x="649.6" y="575.0" width="13.8" height="1.4"/>
<rect x="577.0" y="579.6" width="42.0" height="1.4"/>
<rect x="620.0" y="579.6" width="5.9" height="1.4"/>
<rect x="634.6" y="579.6" width="6.5" height="1.4"/>
<rect x="649.9" y="579.6" width="10.2" height="1.4"/>
<rect x="666.2" y="579.6" width="1.8" height="1.4"/>
<rect x="577.0" y="584.2" width="42.0" height="1.4"/>
<rect x="620.0" y="584.2" width="12.7" height="1.4"/>
<rect x="637.5" y="584.2" width="12.6" height="1.4"/>
<rect x="577.0" y="587.2" width="482.5" height="1.7"/>
<rect x="591.0" y="529.0" width="6.0" height="1.1"/>
<rect x="604.0" y="529.0" width="5.0" height="1.1"/>
<rect x="614.0" y="529.0" width="3.0" height="1.1"/>
<rect x="625.0" y="529.0" width="4.0" height="1.1"/>
<rect x="597.0" y="535.0" width="1.0" height="2.0"/>
<rect x="625.0" y="563.0" width="48.0" height="2.2"/>
<rect x="636.0" y="559.6" width="38.0" height="1.3"/>
<rect x="646.0" y="555.5" width="40.0" height="1.4"/>
<path d="M653,553.7 L658,550 L665,547 L672,543 L678,539.8 L690,538 L703,538.7 L703,542 L699,546 L693,551 L680,552 L668,552.5 L660,553 Z" />
<path d="M705,541 L712,538.5 L720,537 L728,538 L733,540.5 L736,545 L736.7,548.7 L725,549.3 L706.7,548.7 Z" />
<rect x="694.0" y="553.0" width="6.3" height="1.4"/>
<rect x="703.3" y="553.0" width="15.5" height="1.4"/>
<rect x="722.8" y="553.0" width="5.6" height="1.4"/>
<rect x="731.3" y="553.0" width="12.3" height="1.4"/>
<path d="M678,562 L686,559 L693,557.8 L703,557.8 L705,570 L706.7,588 L660.8,588 L663,578.7 L670,570 Z" />
<rect x="683.0" y="575.3" width="10.0" height="2.6" fill="#fff"/>
<rect x="705.0" y="558.8" width="11.7" height="1.4"/>
<rect x="718.7" y="558.8" width="12.6" height="1.4"/>
<rect x="737.2" y="558.8" width="7.8" height="1.4"/>
<rect x="705.0" y="564.8" width="14.4" height="1.4"/>
<rect x="721.5" y="564.8" width="8.3" height="1.4"/>
<rect x="734.4" y="564.8" width="8.6" height="1.4"/>
<rect x="723.0" y="570.2" width="17.5" height="1.4"/>
<rect x="743.7" y="570.2" width="1.3" height="1.4"/>
<rect x="705.0" y="575.0" width="10.7" height="1.4"/>
<rect x="721.1" y="575.0" width="12.9" height="1.4"/>
<rect x="737.7" y="575.0" width="7.2" height="1.4"/>
<rect x="705.0" y="579.6" width="15.6" height="1.4"/>
<rect x="724.0" y="579.6" width="10.2" height="1.4"/>
<rect x="739.9" y="579.6" width="5.1" height="1.4"/>
<rect x="735.0" y="583.5" width="20.0" height="4.5"/>
<rect x="745.0" y="552.0" width="68.0" height="1.2"/>
<rect x="745.0" y="558.0" width="68.0" height="1.2"/>
<rect x="745.0" y="564.0" width="68.0" height="1.2"/>
<rect x="745.0" y="570.0" width="68.0" height="1.2"/>
<rect x="745.0" y="576.0" width="68.0" height="1.2"/>
<rect x="750.0" y="580.0" width="110.0" height="8.2"/>
<rect x="830.6" y="582.0" width="3.8" height="1.3" fill="#fff"/>
<rect x="811.9" y="582.1" width="5.6" height="1.1" fill="#fff"/>
<rect x="840.4" y="581.2" width="4.6" height="1.1" fill="#fff"/>
<rect x="827.9" y="582.1" width="4.5" height="1.1" fill="#fff"/>
<rect x="836.3" y="584.1" width="3.0" height="1.0" fill="#fff"/>
<rect x="847.1" y="582.8" width="3.3" height="1.8" fill="#fff"/>
<rect x="818.1" y="585.8" width="4.9" height="1.0" fill="#fff"/>
<rect x="810.1" y="582.5" width="2.4" height="1.5" fill="#fff"/>
<path d="M768,535.5 L772,534 L778,533 L777.5,535.5 L772,536.5 Z" />
<path d="M786,529.8 L801.7,529.5 L799,533 L794,535 L789,533.5 Z" />
<path d="M810,540 L813,539.5 L812,545 L809.5,545 Z" />
<path d="M819,539 L828,538.7 L834,539.5 L840,541 L850,541 L858,540.5 L870,541 L880,543 L892,545 L902,543 L912,542.5 L922,543.5 L928,548 L929,555 L926,560 L918,562.5 L905,563 L892,562.5 L892,588.5 L856.5,588.5 L856.5,555 L848,553.5 L838,552 L830,549 L826.7,545 L819,544.5 Z" />
<line x1="812.0" y1="551.0" x2="856.0" y2="560.0" stroke="#000" stroke-width="1.1" shape-rendering="auto"/>
<line x1="815.0" y1="556.2" x2="856.0" y2="565.2" stroke="#000" stroke-width="1.1" shape-rendering="auto"/>
<line x1="818.0" y1="561.4" x2="856.0" y2="570.4" stroke="#000" stroke-width="1.1" shape-rendering="auto"/>
<line x1="821.0" y1="566.6" x2="856.0" y2="575.6" stroke="#000" stroke-width="1.1" shape-rendering="auto"/>
<line x1="824.0" y1="571.8" x2="856.0" y2="580.8" stroke="#000" stroke-width="1.1" shape-rendering="auto"/>
<rect x="930.0" y="552.5" width="22.6" height="1.2"/>
<rect x="957.4" y="552.5" width="6.0" height="1.2"/>
<rect x="962.0" y="552.0" width="97.5" height="1.2"/>
<rect x="930.0" y="558.7" width="19.0" height="1.2"/>
<rect x="952.7" y="558.7" width="12.3" height="1.2"/>
<rect x="962.0" y="558.0" width="97.5" height="1.2"/>
<rect x="930.0" y="565.0" width="23.1" height="1.2"/>
<rect x="959.7" y="565.0" width="5.3" height="1.2"/>
<rect x="962.0" y="565.0" width="97.5" height="1.2"/>
<rect x="892.0" y="565.0" width="12.8" height="1.2"/>
<rect x="905.9" y="565.0" width="11.3" height="1.2"/>
<rect x="919.4" y="565.0" width="9.7" height="1.2"/>
<rect x="930.0" y="570.3" width="11.1" height="1.2"/>
<rect x="946.2" y="570.3" width="18.8" height="1.2"/>
<rect x="962.0" y="570.0" width="97.5" height="1.2"/>
<rect x="908.0" y="570.3" width="18.4" height="1.2"/>
<rect x="930.0" y="576.2" width="8.6" height="1.2"/>
<rect x="944.5" y="576.2" width="20.5" height="1.2"/>
<rect x="962.0" y="576.0" width="97.5" height="1.2"/>
<rect x="892.0" y="576.2" width="21.5" height="1.2"/>
<rect x="915.3" y="576.2" width="16.7" height="1.2"/>
<rect x="941.3" y="581.0" width="10.2" height="1.2"/>
<rect x="956.7" y="581.0" width="7.3" height="1.2"/>
<rect x="962.0" y="581.0" width="97.5" height="1.2"/>
<rect x="892.0" y="581.0" width="14.8" height="1.2"/>
<rect x="908.6" y="581.0" width="11.8" height="1.2"/>
<rect x="923.4" y="581.0" width="8.6" height="1.2"/>
<rect x="930.0" y="585.3" width="22.2" height="1.2"/>
<rect x="956.6" y="585.3" width="8.4" height="1.2"/>
<rect x="962.0" y="585.0" width="97.5" height="1.2"/>
<rect x="892.0" y="585.3" width="14.5" height="1.2"/>
<rect x="909.4" y="585.3" width="20.4" height="1.2"/>
<rect x="933.6" y="534.5" width="1.0" height="1.3"/>
<rect x="920.0" y="530.5" width="1.6" height="1.4"/>
<rect x="965.3" y="530.0" width="1.0" height="1.2"/>
<rect x="956.7" y="529.8" width="1.4" height="1.2"/>
<rect x="970.8" y="538.9" width="0.8" height="1.1"/>
<rect x="956.2" y="537.6" width="1.2" height="1.2"/>
<rect x="939.6" y="530.9" width="1.0" height="1.5"/>
<rect x="947.0" y="536.5" width="0.9" height="1.5"/>
<rect x="911.2" y="532.7" width="1.3" height="1.1"/>
<rect x="923.3" y="534.9" width="1.0" height="1.6"/>
<rect x="959.4" y="549.0" width="1.1" height="0.8"/>
<rect x="934.5" y="536.8" width="1.3" height="1.3"/>
<rect x="962.5" y="538.3" width="0.8" height="1.3"/>
<rect x="962.2" y="532.0" width="1.2" height="1.4"/>
<rect x="915.7" y="538.1" width="1.2" height="1.1"/>
<rect x="913.6" y="533.2" width="1.2" height="0.9"/>
<rect x="910.6" y="548.6" width="1.4" height="1.0"/>
<rect x="961.7" y="545.4" width="1.5" height="1.5"/>
<rect x="939.4" y="533.5" width="1.2" height="1.1"/>
<rect x="945.5" y="535.8" width="1.4" height="1.3"/>
<rect x="917.5" y="533.4" width="0.9" height="0.9"/>
<rect x="946.2" y="548.0" width="0.9" height="1.2"/>
<rect x="944.5" y="534.2" width="1.6" height="0.9"/>
<rect x="963.3" y="542.7" width="1.6" height="1.1"/>
<rect x="963.7" y="532.1" width="1.2" height="1.5"/>
<rect x="928.6" y="537.9" width="1.3" height="1.3"/>
<rect x="962.3" y="538.7" width="1.1" height="1.0"/>
<rect x="907.2" y="546.1" width="0.8" height="1.3"/>
<rect x="907.4" y="543.3" width="1.0" height="1.0"/>
<rect x="924.6" y="536.8" width="1.5" height="1.5"/>
<rect x="918.9" y="534.2" width="1.5" height="1.3"/>
<rect x="910.0" y="538.4" width="0.8" height="1.0"/>
<rect x="917.3" y="533.5" width="0.9" height="1.1"/>
<rect x="917.3" y="547.5" width="1.2" height="1.4"/>
<rect x="914.6" y="532.0" width="1.2" height="1.3"/>
<rect x="946.7" y="529.4" width="0.9" height="1.2"/>
<rect x="943.8" y="539.4" width="1.4" height="1.1"/>
<rect x="912.1" y="544.9" width="1.2" height="0.9"/>
<rect x="939.3" y="539.9" width="0.9" height="1.1"/>
<rect x="964.8" y="541.7" width="1.5" height="1.3"/>
<rect x="949.7" y="545.7" width="1.4" height="1.2"/>
<rect x="942.6" y="540.6" width="0.9" height="1.0"/>
<rect x="1001.6" y="530.0" width="15.4" height="1.2"/>
<rect x="1027.1" y="530.0" width="13.8" height="1.2"/>
<rect x="1003.7" y="532.4" width="19.5" height="1.2"/>
<rect x="1027.3" y="532.4" width="11.1" height="1.2"/>
<rect x="1004.6" y="534.7" width="18.6" height="1.2"/>
<rect x="1028.9" y="534.7" width="10.2" height="1.2"/>
<rect x="1002.4" y="537.0" width="12.8" height="1.2"/>
<rect x="1028.8" y="537.0" width="17.7" height="1.2"/>
<rect x="1003.1" y="539.4" width="18.5" height="1.2"/>
<rect x="1028.3" y="539.4" width="10.3" height="1.2"/>
<rect x="1002.8" y="541.8" width="15.8" height="1.2"/>
<rect x="1028.4" y="541.8" width="14.4" height="1.2"/>
<rect x="1001.1" y="544.1" width="10.4" height="1.2"/>
<rect x="1026.7" y="544.1" width="14.0" height="1.2"/>
<rect x="1001.7" y="546.5" width="19.1" height="1.2"/>
<rect x="1026.7" y="546.5" width="18.9" height="1.2"/>
<rect x="1004.5" y="548.8" width="12.4" height="1.2"/>
<rect x="1027.3" y="548.8" width="17.3" height="1.2"/>
<rect x="1001.5" y="553.5" width="17.8" height="1.2"/>
<rect x="1002.3" y="555.9" width="14.5" height="1.2"/>
<rect x="1027.3" y="555.9" width="13.4" height="1.2"/>
<rect x="1003.0" y="558.2" width="15.9" height="1.2"/>
<rect x="1029.3" y="558.2" width="10.4" height="1.2"/>
<rect x="1029.2" y="560.5" width="16.5" height="1.2"/>
<rect x="1003.3" y="562.9" width="12.0" height="1.2"/>
<rect x="1029.3" y="562.9" width="14.0" height="1.2"/>
<rect x="1002.4" y="565.2" width="15.6" height="1.2"/>
<rect x="1026.9" y="565.2" width="14.3" height="1.2"/>
<rect x="1002.2" y="567.6" width="10.3" height="1.2"/>
<rect x="1029.0" y="567.6" width="10.4" height="1.2"/>
<rect x="1002.0" y="570.0" width="16.5" height="1.2"/>
<rect x="1028.5" y="570.0" width="17.7" height="1.2"/>
<rect x="1002.0" y="572.3" width="10.5" height="1.2"/>
<rect x="1028.6" y="572.3" width="12.5" height="1.2"/>
<rect x="1001.1" y="574.6" width="18.9" height="1.2"/>
<rect x="1027.5" y="574.6" width="16.4" height="1.2"/>
<rect x="1004.6" y="577.0" width="13.6" height="1.2"/>
<rect x="1027.0" y="577.0" width="17.4" height="1.2"/>
<rect x="1003.4" y="579.4" width="16.0" height="1.2"/>
<rect x="1028.3" y="579.4" width="16.6" height="1.2"/>
<rect x="1002.0" y="581.7" width="11.5" height="1.2"/>
<rect x="1028.3" y="581.7" width="12.4" height="1.2"/>
<rect x="1001.9" y="584.0" width="11.6" height="1.2"/>
<rect x="1004.6" y="586.4" width="18.3" height="1.2"/>
<rect x="1028.4" y="586.4" width="19.2" height="1.2"/>
<path d="M1025,543 L1027,539 L1032,538 L1034,542 L1030,541 Z" />
</g>
<text x="430" y="420.5" textLength="102.5" lengthAdjust="spacingAndGlyphs" font-family="Liberation Serif" font-weight="bold" font-size="17.3" fill="#000">LiDAR-NeRF</text>
<text x="402" y="441.3" textLength="158.5" lengthAdjust="spacingAndGlyphs" font-family="Liberation Serif" font-weight="bold" font-size="17.3" fill="#000">(point-wise ray-drop)</text>
<text x="438" y="487" textLength="74" lengthAdjust="spacingAndGlyphs" font-family="Liberation Serif" font-weight="bold" font-size="17.3" fill="#000">LiDAR4D</text>
<text x="387.5" y="508" textLength="185" lengthAdjust="spacingAndGlyphs" font-family="Liberation Serif" font-weight="bold" font-size="17.3" fill="#000">(w/ ray-drop refinement)</text>
<text x="469.3" y="565" textLength="24.5" lengthAdjust="spacingAndGlyphs" font-family="Liberation Serif" font-weight="bold" font-size="17.3" fill="#000">GT</text>
</svg></body></html>
